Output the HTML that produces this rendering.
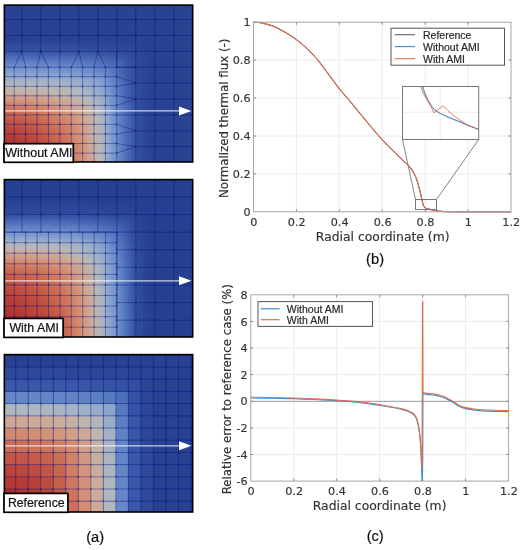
<!DOCTYPE html>
<html><head><meta charset="utf-8"><title>figure</title>
<style>
html,body{margin:0;padding:0;background:#fff}
svg{display:block}
.lib{font-family:"Liberation Sans",sans-serif;fill:#111;stroke:#111;stroke-width:0.2}
.lg{fill:#2a2a2a;stroke:#2a2a2a}
.dv{font-family:"DejaVu Sans","Liberation Sans",sans-serif;fill:#333;stroke:#333;stroke-width:0.15}
</style></head><body>
<svg width="522" height="550" viewBox="0 0 522 550">
<defs><filter id="blur" x="-5%" y="-5%" width="110%" height="110%"><feGaussianBlur stdDeviation="0.8 1.6"/></filter><clipPath id="clip1"><rect x="4.35" y="5.1" width="188.35" height="156.90"/></clipPath><linearGradient id="g1_15" gradientUnits="userSpaceOnUse" x1="-3.6500000000000004" x2="200.7" y1="0" y2="0"><stop offset="0.000" stop-color="#2b4595"/><stop offset="0.465" stop-color="#2b4595"/><stop offset="0.488" stop-color="#2a4394"/><stop offset="0.581" stop-color="#2a4394"/><stop offset="0.605" stop-color="#294292"/><stop offset="0.651" stop-color="#294292"/><stop offset="0.674" stop-color="#284191"/><stop offset="1.000" stop-color="#284191"/></linearGradient><linearGradient id="g1_16" gradientUnits="userSpaceOnUse" x1="-3.6500000000000004" x2="200.7" y1="0" y2="0"><stop offset="0.000" stop-color="#2e4999"/><stop offset="0.395" stop-color="#2e4999"/><stop offset="0.419" stop-color="#2d4798"/><stop offset="0.488" stop-color="#2d4798"/><stop offset="0.512" stop-color="#2c4696"/><stop offset="0.558" stop-color="#2c4696"/><stop offset="0.581" stop-color="#2b4595"/><stop offset="0.605" stop-color="#2b4595"/><stop offset="0.628" stop-color="#2a4394"/><stop offset="0.651" stop-color="#2a4394"/><stop offset="0.674" stop-color="#294292"/><stop offset="0.698" stop-color="#294292"/><stop offset="0.721" stop-color="#284191"/><stop offset="1.000" stop-color="#284191"/></linearGradient><linearGradient id="g1_17" gradientUnits="userSpaceOnUse" x1="-3.6500000000000004" x2="200.7" y1="0" y2="0"><stop offset="0.000" stop-color="#314c9d"/><stop offset="0.326" stop-color="#314c9d"/><stop offset="0.349" stop-color="#304b9c"/><stop offset="0.395" stop-color="#304b9c"/><stop offset="0.419" stop-color="#304b9b"/><stop offset="0.442" stop-color="#304b9b"/><stop offset="0.465" stop-color="#2f4a9a"/><stop offset="0.512" stop-color="#2f4a9a"/><stop offset="0.535" stop-color="#2e4999"/><stop offset="0.558" stop-color="#2d4798"/><stop offset="0.581" stop-color="#2d4798"/><stop offset="0.605" stop-color="#2c4696"/><stop offset="0.628" stop-color="#2b4595"/><stop offset="0.651" stop-color="#2b4595"/><stop offset="0.674" stop-color="#2a4394"/><stop offset="0.698" stop-color="#294292"/><stop offset="0.721" stop-color="#284191"/><stop offset="1.000" stop-color="#284191"/></linearGradient><linearGradient id="g1_18" gradientUnits="userSpaceOnUse" x1="-3.6500000000000004" x2="200.7" y1="0" y2="0"><stop offset="0.000" stop-color="#3552a2"/><stop offset="0.209" stop-color="#3552a2"/><stop offset="0.233" stop-color="#3552a1"/><stop offset="0.256" stop-color="#3450a0"/><stop offset="0.372" stop-color="#3450a0"/><stop offset="0.395" stop-color="#334f9f"/><stop offset="0.442" stop-color="#334f9f"/><stop offset="0.465" stop-color="#324e9e"/><stop offset="0.488" stop-color="#324e9e"/><stop offset="0.512" stop-color="#314c9d"/><stop offset="0.535" stop-color="#304b9c"/><stop offset="0.558" stop-color="#2f4a9a"/><stop offset="0.581" stop-color="#2f4a9a"/><stop offset="0.605" stop-color="#2e4999"/><stop offset="0.628" stop-color="#2d4798"/><stop offset="0.651" stop-color="#2c4696"/><stop offset="0.674" stop-color="#2b4595"/><stop offset="0.698" stop-color="#294292"/><stop offset="0.721" stop-color="#294292"/><stop offset="0.744" stop-color="#284191"/><stop offset="1.000" stop-color="#284191"/></linearGradient><linearGradient id="g1_19" gradientUnits="userSpaceOnUse" x1="-3.6500000000000004" x2="200.7" y1="0" y2="0"><stop offset="0.000" stop-color="#405fad"/><stop offset="0.163" stop-color="#405fad"/><stop offset="0.186" stop-color="#3f5dac"/><stop offset="0.302" stop-color="#3f5dac"/><stop offset="0.326" stop-color="#3e5cab"/><stop offset="0.349" stop-color="#3e5cab"/><stop offset="0.372" stop-color="#3d5cab"/><stop offset="0.395" stop-color="#3c5baa"/><stop offset="0.419" stop-color="#3c5baa"/><stop offset="0.442" stop-color="#3b59a8"/><stop offset="0.465" stop-color="#3a58a7"/><stop offset="0.488" stop-color="#3957a6"/><stop offset="0.512" stop-color="#3856a5"/><stop offset="0.535" stop-color="#3754a4"/><stop offset="0.558" stop-color="#3552a2"/><stop offset="0.581" stop-color="#3450a0"/><stop offset="0.605" stop-color="#324e9e"/><stop offset="0.628" stop-color="#314c9d"/><stop offset="0.651" stop-color="#2f4a9a"/><stop offset="0.674" stop-color="#2c4696"/><stop offset="0.698" stop-color="#2a4394"/><stop offset="0.721" stop-color="#294292"/><stop offset="0.744" stop-color="#284191"/><stop offset="1.000" stop-color="#284191"/></linearGradient><linearGradient id="g1_20" gradientUnits="userSpaceOnUse" x1="-3.6500000000000004" x2="200.7" y1="0" y2="0"><stop offset="0.000" stop-color="#4b6bb7"/><stop offset="0.116" stop-color="#4b6bb7"/><stop offset="0.140" stop-color="#4a6ab6"/><stop offset="0.186" stop-color="#4a6ab6"/><stop offset="0.209" stop-color="#496ab6"/><stop offset="0.233" stop-color="#496ab6"/><stop offset="0.256" stop-color="#4869b5"/><stop offset="0.326" stop-color="#4869b5"/><stop offset="0.349" stop-color="#4768b4"/><stop offset="0.372" stop-color="#4768b4"/><stop offset="0.395" stop-color="#4666b3"/><stop offset="0.419" stop-color="#4565b2"/><stop offset="0.442" stop-color="#4464b1"/><stop offset="0.465" stop-color="#4363b0"/><stop offset="0.488" stop-color="#4261af"/><stop offset="0.512" stop-color="#405fad"/><stop offset="0.535" stop-color="#3e5cab"/><stop offset="0.558" stop-color="#3b59a8"/><stop offset="0.581" stop-color="#3957a6"/><stop offset="0.605" stop-color="#3754a4"/><stop offset="0.628" stop-color="#3552a2"/><stop offset="0.651" stop-color="#314c9d"/><stop offset="0.674" stop-color="#2d4798"/><stop offset="0.698" stop-color="#2a4394"/><stop offset="0.721" stop-color="#294292"/><stop offset="0.744" stop-color="#284191"/><stop offset="1.000" stop-color="#284191"/></linearGradient><linearGradient id="g1_21" gradientUnits="userSpaceOnUse" x1="-3.6500000000000004" x2="200.7" y1="0" y2="0"><stop offset="0.000" stop-color="#5678bf"/><stop offset="0.047" stop-color="#5678bf"/><stop offset="0.070" stop-color="#5576be"/><stop offset="0.209" stop-color="#5576be"/><stop offset="0.233" stop-color="#5475bd"/><stop offset="0.279" stop-color="#5475bd"/><stop offset="0.302" stop-color="#5374bd"/><stop offset="0.326" stop-color="#5374bd"/><stop offset="0.349" stop-color="#5173bc"/><stop offset="0.372" stop-color="#5072bb"/><stop offset="0.395" stop-color="#5072bb"/><stop offset="0.419" stop-color="#4f70ba"/><stop offset="0.442" stop-color="#4e6fb9"/><stop offset="0.465" stop-color="#4c6db8"/><stop offset="0.488" stop-color="#4b6bb7"/><stop offset="0.512" stop-color="#4869b5"/><stop offset="0.535" stop-color="#4565b2"/><stop offset="0.558" stop-color="#4261af"/><stop offset="0.581" stop-color="#405fad"/><stop offset="0.605" stop-color="#3c5baa"/><stop offset="0.628" stop-color="#3856a5"/><stop offset="0.651" stop-color="#334f9f"/><stop offset="0.674" stop-color="#2d4798"/><stop offset="0.698" stop-color="#2b4595"/><stop offset="0.721" stop-color="#2a4394"/><stop offset="0.744" stop-color="#284191"/><stop offset="1.000" stop-color="#284191"/></linearGradient><linearGradient id="g1_22" gradientUnits="userSpaceOnUse" x1="-3.6500000000000004" x2="200.7" y1="0" y2="0"><stop offset="0.000" stop-color="#6182c4"/><stop offset="0.163" stop-color="#6182c4"/><stop offset="0.186" stop-color="#5f81c4"/><stop offset="0.233" stop-color="#5f81c4"/><stop offset="0.256" stop-color="#5e80c3"/><stop offset="0.279" stop-color="#5e80c3"/><stop offset="0.302" stop-color="#5d7fc3"/><stop offset="0.326" stop-color="#5d7fc3"/><stop offset="0.349" stop-color="#5c7ec2"/><stop offset="0.372" stop-color="#5b7cc2"/><stop offset="0.395" stop-color="#5a7bc1"/><stop offset="0.419" stop-color="#587ac0"/><stop offset="0.442" stop-color="#5779bf"/><stop offset="0.465" stop-color="#5576be"/><stop offset="0.488" stop-color="#5374bd"/><stop offset="0.512" stop-color="#5072bb"/><stop offset="0.535" stop-color="#4d6eb8"/><stop offset="0.558" stop-color="#4869b5"/><stop offset="0.581" stop-color="#4565b2"/><stop offset="0.605" stop-color="#4261af"/><stop offset="0.628" stop-color="#3a58a7"/><stop offset="0.651" stop-color="#3450a0"/><stop offset="0.674" stop-color="#2e4999"/><stop offset="0.698" stop-color="#2b4595"/><stop offset="0.721" stop-color="#2a4394"/><stop offset="0.744" stop-color="#284191"/><stop offset="1.000" stop-color="#284191"/></linearGradient><linearGradient id="g1_23" gradientUnits="userSpaceOnUse" x1="-3.6500000000000004" x2="200.7" y1="0" y2="0"><stop offset="0.000" stop-color="#6d8dc9"/><stop offset="0.140" stop-color="#6d8dc9"/><stop offset="0.163" stop-color="#6b8cc9"/><stop offset="0.209" stop-color="#6b8cc9"/><stop offset="0.233" stop-color="#6a8bc8"/><stop offset="0.256" stop-color="#6a8bc8"/><stop offset="0.279" stop-color="#698ac8"/><stop offset="0.302" stop-color="#698ac8"/><stop offset="0.326" stop-color="#6889c7"/><stop offset="0.349" stop-color="#6788c7"/><stop offset="0.372" stop-color="#6587c7"/><stop offset="0.395" stop-color="#6486c6"/><stop offset="0.419" stop-color="#6384c6"/><stop offset="0.442" stop-color="#6182c4"/><stop offset="0.465" stop-color="#5e80c3"/><stop offset="0.488" stop-color="#5c7ec2"/><stop offset="0.512" stop-color="#587ac0"/><stop offset="0.535" stop-color="#5475bd"/><stop offset="0.558" stop-color="#4f70ba"/><stop offset="0.581" stop-color="#4b6bb7"/><stop offset="0.605" stop-color="#4464b1"/><stop offset="0.628" stop-color="#3b59a9"/><stop offset="0.651" stop-color="#3552a2"/><stop offset="0.674" stop-color="#2f4a9a"/><stop offset="0.698" stop-color="#2b4595"/><stop offset="0.721" stop-color="#2a4394"/><stop offset="0.744" stop-color="#284191"/><stop offset="1.000" stop-color="#284191"/></linearGradient><linearGradient id="g1_24" gradientUnits="userSpaceOnUse" x1="-3.6500000000000004" x2="200.7" y1="0" y2="0"><stop offset="0.000" stop-color="#7695cb"/><stop offset="0.140" stop-color="#7695cb"/><stop offset="0.163" stop-color="#7594cb"/><stop offset="0.209" stop-color="#7594cb"/><stop offset="0.233" stop-color="#7493cb"/><stop offset="0.256" stop-color="#7493cb"/><stop offset="0.279" stop-color="#7392cb"/><stop offset="0.302" stop-color="#7191ca"/><stop offset="0.326" stop-color="#7191ca"/><stop offset="0.349" stop-color="#7090ca"/><stop offset="0.372" stop-color="#6f8fca"/><stop offset="0.395" stop-color="#6e8ec9"/><stop offset="0.419" stop-color="#6b8cc9"/><stop offset="0.442" stop-color="#698ac8"/><stop offset="0.465" stop-color="#6788c7"/><stop offset="0.488" stop-color="#6384c6"/><stop offset="0.512" stop-color="#5f81c4"/><stop offset="0.535" stop-color="#5b7cc2"/><stop offset="0.558" stop-color="#5576be"/><stop offset="0.581" stop-color="#4f70ba"/><stop offset="0.605" stop-color="#4666b3"/><stop offset="0.628" stop-color="#3d5cab"/><stop offset="0.651" stop-color="#3653a3"/><stop offset="0.674" stop-color="#2f4a9a"/><stop offset="0.698" stop-color="#2c4696"/><stop offset="0.721" stop-color="#2a4394"/><stop offset="0.744" stop-color="#284191"/><stop offset="1.000" stop-color="#284191"/></linearGradient><linearGradient id="g1_25" gradientUnits="userSpaceOnUse" x1="-3.6500000000000004" x2="200.7" y1="0" y2="0"><stop offset="0.000" stop-color="#819ecc"/><stop offset="0.093" stop-color="#819ecc"/><stop offset="0.116" stop-color="#809dcc"/><stop offset="0.163" stop-color="#809dcc"/><stop offset="0.186" stop-color="#7f9ccc"/><stop offset="0.233" stop-color="#7f9ccc"/><stop offset="0.256" stop-color="#7e9bcc"/><stop offset="0.279" stop-color="#7c9acc"/><stop offset="0.302" stop-color="#7b99cc"/><stop offset="0.326" stop-color="#7b99cc"/><stop offset="0.349" stop-color="#7a98cc"/><stop offset="0.372" stop-color="#7896cc"/><stop offset="0.395" stop-color="#7695cb"/><stop offset="0.419" stop-color="#7493cb"/><stop offset="0.442" stop-color="#7392cb"/><stop offset="0.465" stop-color="#6f8fca"/><stop offset="0.488" stop-color="#6b8cc9"/><stop offset="0.512" stop-color="#6889c7"/><stop offset="0.535" stop-color="#6283c5"/><stop offset="0.558" stop-color="#5c7ec2"/><stop offset="0.581" stop-color="#5173bc"/><stop offset="0.605" stop-color="#4768b4"/><stop offset="0.628" stop-color="#3f5dac"/><stop offset="0.651" stop-color="#3653a3"/><stop offset="0.674" stop-color="#304b9b"/><stop offset="0.698" stop-color="#2c4696"/><stop offset="0.721" stop-color="#2a4394"/><stop offset="0.744" stop-color="#284191"/><stop offset="1.000" stop-color="#284191"/></linearGradient><linearGradient id="g1_26" gradientUnits="userSpaceOnUse" x1="-3.6500000000000004" x2="200.7" y1="0" y2="0"><stop offset="0.000" stop-color="#8ea7cb"/><stop offset="0.070" stop-color="#8ea7cb"/><stop offset="0.093" stop-color="#8da6cc"/><stop offset="0.163" stop-color="#8da6cc"/><stop offset="0.186" stop-color="#8ca5cc"/><stop offset="0.209" stop-color="#8ca5cc"/><stop offset="0.233" stop-color="#8ba4cc"/><stop offset="0.256" stop-color="#8aa4cc"/><stop offset="0.279" stop-color="#8aa4cc"/><stop offset="0.302" stop-color="#88a3cc"/><stop offset="0.326" stop-color="#87a2cc"/><stop offset="0.349" stop-color="#86a1cc"/><stop offset="0.372" stop-color="#849fcd"/><stop offset="0.395" stop-color="#829fcd"/><stop offset="0.419" stop-color="#809dcc"/><stop offset="0.442" stop-color="#7e9bcc"/><stop offset="0.465" stop-color="#7a98cc"/><stop offset="0.488" stop-color="#7695cb"/><stop offset="0.512" stop-color="#7191ca"/><stop offset="0.535" stop-color="#6b8cc9"/><stop offset="0.558" stop-color="#6182c4"/><stop offset="0.581" stop-color="#5576be"/><stop offset="0.605" stop-color="#4a6ab6"/><stop offset="0.628" stop-color="#405fad"/><stop offset="0.651" stop-color="#3754a4"/><stop offset="0.674" stop-color="#304b9c"/><stop offset="0.698" stop-color="#2c4696"/><stop offset="0.721" stop-color="#2a4394"/><stop offset="0.744" stop-color="#294292"/><stop offset="0.767" stop-color="#284191"/><stop offset="1.000" stop-color="#284191"/></linearGradient><linearGradient id="g1_27" gradientUnits="userSpaceOnUse" x1="-3.6500000000000004" x2="200.7" y1="0" y2="0"><stop offset="0.000" stop-color="#9baec8"/><stop offset="0.047" stop-color="#9baec8"/><stop offset="0.070" stop-color="#9aadc9"/><stop offset="0.140" stop-color="#9aadc9"/><stop offset="0.163" stop-color="#99adc9"/><stop offset="0.186" stop-color="#99adc9"/><stop offset="0.209" stop-color="#98acc9"/><stop offset="0.233" stop-color="#98acc9"/><stop offset="0.256" stop-color="#96abca"/><stop offset="0.279" stop-color="#95abca"/><stop offset="0.302" stop-color="#94aaca"/><stop offset="0.326" stop-color="#93a9cb"/><stop offset="0.349" stop-color="#92a9cb"/><stop offset="0.372" stop-color="#8fa7cb"/><stop offset="0.395" stop-color="#8ea7cb"/><stop offset="0.419" stop-color="#8ba4cc"/><stop offset="0.442" stop-color="#88a3cc"/><stop offset="0.465" stop-color="#85a0cc"/><stop offset="0.488" stop-color="#809dcc"/><stop offset="0.512" stop-color="#7b99cc"/><stop offset="0.535" stop-color="#7493cb"/><stop offset="0.558" stop-color="#6486c6"/><stop offset="0.581" stop-color="#5779bf"/><stop offset="0.605" stop-color="#4c6db7"/><stop offset="0.628" stop-color="#4261af"/><stop offset="0.651" stop-color="#3856a5"/><stop offset="0.674" stop-color="#314c9d"/><stop offset="0.698" stop-color="#2d4798"/><stop offset="0.721" stop-color="#2b4595"/><stop offset="0.744" stop-color="#294292"/><stop offset="0.767" stop-color="#284191"/><stop offset="1.000" stop-color="#284191"/></linearGradient><linearGradient id="g1_28" gradientUnits="userSpaceOnUse" x1="-3.6500000000000004" x2="200.7" y1="0" y2="0"><stop offset="0.000" stop-color="#a7b3c3"/><stop offset="0.023" stop-color="#a7b3c3"/><stop offset="0.047" stop-color="#a6b3c3"/><stop offset="0.116" stop-color="#a6b3c3"/><stop offset="0.140" stop-color="#a5b3c4"/><stop offset="0.163" stop-color="#a5b3c4"/><stop offset="0.186" stop-color="#a4b2c4"/><stop offset="0.209" stop-color="#a4b2c4"/><stop offset="0.233" stop-color="#a3b2c5"/><stop offset="0.256" stop-color="#a2b1c5"/><stop offset="0.279" stop-color="#a1b1c6"/><stop offset="0.302" stop-color="#9fb0c6"/><stop offset="0.326" stop-color="#9dafc7"/><stop offset="0.349" stop-color="#9caec8"/><stop offset="0.372" stop-color="#9aadc9"/><stop offset="0.395" stop-color="#98acc9"/><stop offset="0.419" stop-color="#94aaca"/><stop offset="0.442" stop-color="#91a8cb"/><stop offset="0.465" stop-color="#8ca5cc"/><stop offset="0.488" stop-color="#87a2cc"/><stop offset="0.512" stop-color="#819ecc"/><stop offset="0.535" stop-color="#7896cc"/><stop offset="0.558" stop-color="#6889c7"/><stop offset="0.581" stop-color="#5a7bc1"/><stop offset="0.605" stop-color="#4e6fb9"/><stop offset="0.628" stop-color="#4363b0"/><stop offset="0.651" stop-color="#3957a6"/><stop offset="0.674" stop-color="#314c9d"/><stop offset="0.698" stop-color="#2d4798"/><stop offset="0.721" stop-color="#2b4595"/><stop offset="0.744" stop-color="#294292"/><stop offset="0.767" stop-color="#284191"/><stop offset="1.000" stop-color="#284191"/></linearGradient><linearGradient id="g1_29" gradientUnits="userSpaceOnUse" x1="-3.6500000000000004" x2="200.7" y1="0" y2="0"><stop offset="0.000" stop-color="#b1b7bb"/><stop offset="0.047" stop-color="#b1b7bb"/><stop offset="0.070" stop-color="#b0b6bc"/><stop offset="0.116" stop-color="#b0b6bc"/><stop offset="0.140" stop-color="#afb6bd"/><stop offset="0.163" stop-color="#afb6bd"/><stop offset="0.186" stop-color="#aeb6be"/><stop offset="0.209" stop-color="#adb6bf"/><stop offset="0.233" stop-color="#acb5bf"/><stop offset="0.256" stop-color="#abb5c0"/><stop offset="0.279" stop-color="#aab5c1"/><stop offset="0.302" stop-color="#a8b4c2"/><stop offset="0.326" stop-color="#a7b3c3"/><stop offset="0.349" stop-color="#a5b3c4"/><stop offset="0.372" stop-color="#a3b2c5"/><stop offset="0.395" stop-color="#a0b0c6"/><stop offset="0.419" stop-color="#9caec8"/><stop offset="0.442" stop-color="#99adc9"/><stop offset="0.465" stop-color="#93a9cb"/><stop offset="0.488" stop-color="#8da6cc"/><stop offset="0.512" stop-color="#86a1cc"/><stop offset="0.535" stop-color="#7b99cc"/><stop offset="0.558" stop-color="#6a8bc8"/><stop offset="0.581" stop-color="#5c7ec2"/><stop offset="0.605" stop-color="#4f70ba"/><stop offset="0.628" stop-color="#4464b1"/><stop offset="0.651" stop-color="#3a58a7"/><stop offset="0.674" stop-color="#314c9d"/><stop offset="0.698" stop-color="#2d4798"/><stop offset="0.721" stop-color="#2b4595"/><stop offset="0.744" stop-color="#294292"/><stop offset="0.767" stop-color="#284191"/><stop offset="1.000" stop-color="#284191"/></linearGradient><linearGradient id="g1_30" gradientUnits="userSpaceOnUse" x1="-3.6500000000000004" x2="200.7" y1="0" y2="0"><stop offset="0.000" stop-color="#bbb6b2"/><stop offset="0.047" stop-color="#bbb6b2"/><stop offset="0.070" stop-color="#bab7b3"/><stop offset="0.116" stop-color="#bab7b3"/><stop offset="0.140" stop-color="#b9b7b4"/><stop offset="0.163" stop-color="#b9b7b4"/><stop offset="0.186" stop-color="#b8b7b5"/><stop offset="0.209" stop-color="#b7b8b6"/><stop offset="0.233" stop-color="#b6b8b7"/><stop offset="0.256" stop-color="#b4b7b9"/><stop offset="0.279" stop-color="#b2b7bb"/><stop offset="0.302" stop-color="#b1b7bb"/><stop offset="0.326" stop-color="#afb6bd"/><stop offset="0.349" stop-color="#adb6be"/><stop offset="0.372" stop-color="#aab5c1"/><stop offset="0.395" stop-color="#a7b3c3"/><stop offset="0.419" stop-color="#a3b2c5"/><stop offset="0.442" stop-color="#9eb0c7"/><stop offset="0.465" stop-color="#99adc9"/><stop offset="0.488" stop-color="#91a8cb"/><stop offset="0.512" stop-color="#8aa4cc"/><stop offset="0.535" stop-color="#7f9ccc"/><stop offset="0.558" stop-color="#6d8dc9"/><stop offset="0.581" stop-color="#5e80c3"/><stop offset="0.605" stop-color="#5173bc"/><stop offset="0.628" stop-color="#4565b2"/><stop offset="0.651" stop-color="#3b59a8"/><stop offset="0.674" stop-color="#324e9e"/><stop offset="0.698" stop-color="#2d4798"/><stop offset="0.721" stop-color="#2b4595"/><stop offset="0.744" stop-color="#294292"/><stop offset="0.767" stop-color="#284191"/><stop offset="1.000" stop-color="#284191"/></linearGradient><linearGradient id="g1_31" gradientUnits="userSpaceOnUse" x1="-3.6500000000000004" x2="200.7" y1="0" y2="0"><stop offset="0.000" stop-color="#c4b2a7"/><stop offset="0.070" stop-color="#c4b2a7"/><stop offset="0.093" stop-color="#c3b2a8"/><stop offset="0.116" stop-color="#c3b2a8"/><stop offset="0.140" stop-color="#c2b3a9"/><stop offset="0.163" stop-color="#c1b3aa"/><stop offset="0.186" stop-color="#c0b4ab"/><stop offset="0.209" stop-color="#c0b4ac"/><stop offset="0.233" stop-color="#bfb5ae"/><stop offset="0.256" stop-color="#bdb6b0"/><stop offset="0.279" stop-color="#bbb6b2"/><stop offset="0.302" stop-color="#b9b7b4"/><stop offset="0.326" stop-color="#b7b8b6"/><stop offset="0.349" stop-color="#b4b7b9"/><stop offset="0.372" stop-color="#b1b7bb"/><stop offset="0.395" stop-color="#adb6be"/><stop offset="0.419" stop-color="#a9b4c1"/><stop offset="0.442" stop-color="#a4b2c4"/><stop offset="0.465" stop-color="#9cafc8"/><stop offset="0.488" stop-color="#94aaca"/><stop offset="0.512" stop-color="#8ea7cc"/><stop offset="0.535" stop-color="#829fcd"/><stop offset="0.558" stop-color="#6f8fca"/><stop offset="0.581" stop-color="#6182c4"/><stop offset="0.605" stop-color="#5374bd"/><stop offset="0.628" stop-color="#4666b3"/><stop offset="0.651" stop-color="#3b59a9"/><stop offset="0.674" stop-color="#324e9e"/><stop offset="0.698" stop-color="#2e4999"/><stop offset="0.721" stop-color="#2b4595"/><stop offset="0.744" stop-color="#294292"/><stop offset="0.767" stop-color="#284191"/><stop offset="1.000" stop-color="#284191"/></linearGradient><linearGradient id="g1_32" gradientUnits="userSpaceOnUse" x1="-3.6500000000000004" x2="200.7" y1="0" y2="0"><stop offset="0.000" stop-color="#ccaa99"/><stop offset="0.023" stop-color="#ccaa99"/><stop offset="0.047" stop-color="#ccaa98"/><stop offset="0.070" stop-color="#cbab9a"/><stop offset="0.116" stop-color="#cbab9a"/><stop offset="0.140" stop-color="#caad9c"/><stop offset="0.163" stop-color="#c9ad9d"/><stop offset="0.186" stop-color="#c9ae9f"/><stop offset="0.209" stop-color="#c8aea0"/><stop offset="0.233" stop-color="#c7b0a2"/><stop offset="0.256" stop-color="#c5b1a4"/><stop offset="0.279" stop-color="#c4b2a7"/><stop offset="0.302" stop-color="#c1b3aa"/><stop offset="0.326" stop-color="#c0b4ac"/><stop offset="0.349" stop-color="#bdb6b0"/><stop offset="0.372" stop-color="#b9b7b4"/><stop offset="0.395" stop-color="#b5b8b8"/><stop offset="0.419" stop-color="#afb6bd"/><stop offset="0.442" stop-color="#aab4c0"/><stop offset="0.465" stop-color="#a2b1c5"/><stop offset="0.488" stop-color="#9baec8"/><stop offset="0.512" stop-color="#94aaca"/><stop offset="0.535" stop-color="#86a1cc"/><stop offset="0.558" stop-color="#7392cb"/><stop offset="0.581" stop-color="#6384c5"/><stop offset="0.605" stop-color="#5576be"/><stop offset="0.628" stop-color="#4768b4"/><stop offset="0.651" stop-color="#3c5baa"/><stop offset="0.674" stop-color="#334f9f"/><stop offset="0.698" stop-color="#2e4999"/><stop offset="0.721" stop-color="#2b4595"/><stop offset="0.744" stop-color="#294292"/><stop offset="0.767" stop-color="#284191"/><stop offset="1.000" stop-color="#284191"/></linearGradient><linearGradient id="g1_33" gradientUnits="userSpaceOnUse" x1="-3.6500000000000004" x2="200.7" y1="0" y2="0"><stop offset="0.000" stop-color="#d1a08a"/><stop offset="0.047" stop-color="#d1a08a"/><stop offset="0.070" stop-color="#d0a18b"/><stop offset="0.093" stop-color="#d0a18b"/><stop offset="0.116" stop-color="#d0a28c"/><stop offset="0.140" stop-color="#d0a38d"/><stop offset="0.163" stop-color="#cfa48f"/><stop offset="0.186" stop-color="#cfa590"/><stop offset="0.209" stop-color="#cea692"/><stop offset="0.233" stop-color="#cda895"/><stop offset="0.256" stop-color="#cca997"/><stop offset="0.279" stop-color="#cbac9b"/><stop offset="0.302" stop-color="#c9ae9f"/><stop offset="0.326" stop-color="#c7b0a2"/><stop offset="0.349" stop-color="#c5b1a6"/><stop offset="0.372" stop-color="#c0b4ab"/><stop offset="0.395" stop-color="#bcb6b1"/><stop offset="0.419" stop-color="#b6b8b7"/><stop offset="0.442" stop-color="#b0b6bc"/><stop offset="0.465" stop-color="#a9b4c1"/><stop offset="0.488" stop-color="#a1b1c6"/><stop offset="0.512" stop-color="#99adc9"/><stop offset="0.535" stop-color="#8aa4cc"/><stop offset="0.558" stop-color="#7594cb"/><stop offset="0.581" stop-color="#6486c6"/><stop offset="0.605" stop-color="#5678bf"/><stop offset="0.628" stop-color="#4869b5"/><stop offset="0.651" stop-color="#3e5cab"/><stop offset="0.674" stop-color="#334f9f"/><stop offset="0.698" stop-color="#2e4999"/><stop offset="0.721" stop-color="#2b4595"/><stop offset="0.744" stop-color="#294292"/><stop offset="0.767" stop-color="#284191"/><stop offset="1.000" stop-color="#284191"/></linearGradient><linearGradient id="g1_34" gradientUnits="userSpaceOnUse" x1="-3.6500000000000004" x2="200.7" y1="0" y2="0"><stop offset="0.000" stop-color="#d3947a"/><stop offset="0.047" stop-color="#d3947a"/><stop offset="0.070" stop-color="#d3957c"/><stop offset="0.093" stop-color="#d3957c"/><stop offset="0.116" stop-color="#d3967d"/><stop offset="0.140" stop-color="#d3977e"/><stop offset="0.163" stop-color="#d2987f"/><stop offset="0.186" stop-color="#d29a82"/><stop offset="0.209" stop-color="#d29c85"/><stop offset="0.233" stop-color="#d19e87"/><stop offset="0.256" stop-color="#d0a18b"/><stop offset="0.279" stop-color="#cfa48f"/><stop offset="0.302" stop-color="#cea692"/><stop offset="0.326" stop-color="#cda996"/><stop offset="0.349" stop-color="#cbac9b"/><stop offset="0.372" stop-color="#c7afa1"/><stop offset="0.395" stop-color="#c3b2a8"/><stop offset="0.419" stop-color="#bdb6b0"/><stop offset="0.442" stop-color="#b7b8b6"/><stop offset="0.465" stop-color="#afb6bd"/><stop offset="0.488" stop-color="#a7b3c3"/><stop offset="0.512" stop-color="#9dafc7"/><stop offset="0.535" stop-color="#8da6cc"/><stop offset="0.558" stop-color="#7997cc"/><stop offset="0.581" stop-color="#6788c7"/><stop offset="0.605" stop-color="#587ac0"/><stop offset="0.628" stop-color="#4a6ab6"/><stop offset="0.651" stop-color="#3f5dac"/><stop offset="0.674" stop-color="#334f9f"/><stop offset="0.698" stop-color="#2e4999"/><stop offset="0.721" stop-color="#2c4696"/><stop offset="0.744" stop-color="#294292"/><stop offset="0.767" stop-color="#284191"/><stop offset="1.000" stop-color="#284191"/></linearGradient><linearGradient id="g1_35" gradientUnits="userSpaceOnUse" x1="-3.6500000000000004" x2="200.7" y1="0" y2="0"><stop offset="0.000" stop-color="#d2886e"/><stop offset="0.023" stop-color="#d2886e"/><stop offset="0.047" stop-color="#d38a6f"/><stop offset="0.070" stop-color="#d28a6f"/><stop offset="0.093" stop-color="#d38b70"/><stop offset="0.116" stop-color="#d38b70"/><stop offset="0.140" stop-color="#d38d73"/><stop offset="0.163" stop-color="#d38e74"/><stop offset="0.186" stop-color="#d39177"/><stop offset="0.209" stop-color="#d39379"/><stop offset="0.233" stop-color="#d3957c"/><stop offset="0.256" stop-color="#d29981"/><stop offset="0.279" stop-color="#d29c85"/><stop offset="0.302" stop-color="#d19f88"/><stop offset="0.326" stop-color="#d0a38d"/><stop offset="0.349" stop-color="#cea692"/><stop offset="0.372" stop-color="#cbab9a"/><stop offset="0.395" stop-color="#c7afa1"/><stop offset="0.419" stop-color="#c2b3a9"/><stop offset="0.442" stop-color="#bdb6b0"/><stop offset="0.465" stop-color="#b5b8b8"/><stop offset="0.488" stop-color="#abb5c0"/><stop offset="0.512" stop-color="#a1b1c6"/><stop offset="0.535" stop-color="#8fa7cb"/><stop offset="0.558" stop-color="#7a98cc"/><stop offset="0.581" stop-color="#698ac8"/><stop offset="0.605" stop-color="#5a7bc1"/><stop offset="0.628" stop-color="#4b6bb7"/><stop offset="0.651" stop-color="#3f5dac"/><stop offset="0.674" stop-color="#3450a0"/><stop offset="0.698" stop-color="#2e4999"/><stop offset="0.721" stop-color="#2c4696"/><stop offset="0.744" stop-color="#294292"/><stop offset="0.767" stop-color="#284191"/><stop offset="1.000" stop-color="#284191"/></linearGradient><linearGradient id="g1_36" gradientUnits="userSpaceOnUse" x1="-3.6500000000000004" x2="200.7" y1="0" y2="0"><stop offset="0.000" stop-color="#d17e64"/><stop offset="0.023" stop-color="#d17e64"/><stop offset="0.047" stop-color="#d17f65"/><stop offset="0.070" stop-color="#d17f65"/><stop offset="0.093" stop-color="#d18166"/><stop offset="0.116" stop-color="#d18166"/><stop offset="0.140" stop-color="#d28369"/><stop offset="0.163" stop-color="#d2866b"/><stop offset="0.186" stop-color="#d2876c"/><stop offset="0.209" stop-color="#d28a6f"/><stop offset="0.233" stop-color="#d38d73"/><stop offset="0.256" stop-color="#d39278"/><stop offset="0.279" stop-color="#d3957c"/><stop offset="0.302" stop-color="#d29981"/><stop offset="0.326" stop-color="#d29c85"/><stop offset="0.349" stop-color="#d0a18b"/><stop offset="0.372" stop-color="#cea692"/><stop offset="0.395" stop-color="#cbab9a"/><stop offset="0.419" stop-color="#c7b0a2"/><stop offset="0.442" stop-color="#c1b3aa"/><stop offset="0.465" stop-color="#b9b7b4"/><stop offset="0.488" stop-color="#afb6bd"/><stop offset="0.512" stop-color="#a4b2c4"/><stop offset="0.535" stop-color="#92a9cb"/><stop offset="0.558" stop-color="#7c9acc"/><stop offset="0.581" stop-color="#6a8bc8"/><stop offset="0.605" stop-color="#5b7cc1"/><stop offset="0.628" stop-color="#4c6db7"/><stop offset="0.651" stop-color="#405fad"/><stop offset="0.674" stop-color="#3450a0"/><stop offset="0.698" stop-color="#2f4a9a"/><stop offset="0.721" stop-color="#2c4696"/><stop offset="0.744" stop-color="#294292"/><stop offset="0.767" stop-color="#284191"/><stop offset="1.000" stop-color="#284191"/></linearGradient><linearGradient id="g1_37" gradientUnits="userSpaceOnUse" x1="-3.6500000000000004" x2="200.7" y1="0" y2="0"><stop offset="0.000" stop-color="#ce735a"/><stop offset="0.047" stop-color="#ce735a"/><stop offset="0.070" stop-color="#ce745b"/><stop offset="0.093" stop-color="#cf765c"/><stop offset="0.116" stop-color="#cf765c"/><stop offset="0.140" stop-color="#cf785f"/><stop offset="0.163" stop-color="#d07b61"/><stop offset="0.186" stop-color="#d17e64"/><stop offset="0.209" stop-color="#d18166"/><stop offset="0.233" stop-color="#d28369"/><stop offset="0.256" stop-color="#d2886e"/><stop offset="0.279" stop-color="#d38d73"/><stop offset="0.302" stop-color="#d39278"/><stop offset="0.326" stop-color="#d3967d"/><stop offset="0.349" stop-color="#d29b83"/><stop offset="0.372" stop-color="#d0a18b"/><stop offset="0.395" stop-color="#cea692"/><stop offset="0.419" stop-color="#cbac9b"/><stop offset="0.442" stop-color="#c5b1a5"/><stop offset="0.465" stop-color="#beb5af"/><stop offset="0.488" stop-color="#b3b7ba"/><stop offset="0.512" stop-color="#a7b3c3"/><stop offset="0.535" stop-color="#94aaca"/><stop offset="0.558" stop-color="#7e9bcc"/><stop offset="0.581" stop-color="#6b8cc9"/><stop offset="0.605" stop-color="#5c7ec2"/><stop offset="0.628" stop-color="#4d6eb8"/><stop offset="0.651" stop-color="#405fad"/><stop offset="0.674" stop-color="#3450a0"/><stop offset="0.698" stop-color="#2f4a9a"/><stop offset="0.721" stop-color="#2c4696"/><stop offset="0.744" stop-color="#294292"/><stop offset="0.767" stop-color="#284191"/><stop offset="1.000" stop-color="#284191"/></linearGradient><linearGradient id="g1_38" gradientUnits="userSpaceOnUse" x1="-3.6500000000000004" x2="200.7" y1="0" y2="0"><stop offset="0.000" stop-color="#cb6a52"/><stop offset="0.047" stop-color="#cb6a52"/><stop offset="0.070" stop-color="#cb6b54"/><stop offset="0.093" stop-color="#cb6b54"/><stop offset="0.116" stop-color="#cc6d55"/><stop offset="0.140" stop-color="#cd7057"/><stop offset="0.163" stop-color="#cd7158"/><stop offset="0.186" stop-color="#cf765c"/><stop offset="0.209" stop-color="#cf785f"/><stop offset="0.233" stop-color="#d07b61"/><stop offset="0.256" stop-color="#d18166"/><stop offset="0.279" stop-color="#d2866b"/><stop offset="0.302" stop-color="#d38c72"/><stop offset="0.326" stop-color="#d39177"/><stop offset="0.349" stop-color="#d3967d"/><stop offset="0.372" stop-color="#d29c85"/><stop offset="0.395" stop-color="#d0a28c"/><stop offset="0.419" stop-color="#cda996"/><stop offset="0.442" stop-color="#c9ae9f"/><stop offset="0.465" stop-color="#c0b4ab"/><stop offset="0.488" stop-color="#b6b8b7"/><stop offset="0.512" stop-color="#a9b4c1"/><stop offset="0.535" stop-color="#96abca"/><stop offset="0.558" stop-color="#7f9ccc"/><stop offset="0.581" stop-color="#6d8dc9"/><stop offset="0.605" stop-color="#5c7ec2"/><stop offset="0.628" stop-color="#4d6eb8"/><stop offset="0.651" stop-color="#4160ae"/><stop offset="0.674" stop-color="#3552a1"/><stop offset="0.698" stop-color="#2f4a9a"/><stop offset="0.721" stop-color="#2c4696"/><stop offset="0.744" stop-color="#294292"/><stop offset="0.767" stop-color="#284191"/><stop offset="1.000" stop-color="#284191"/></linearGradient><linearGradient id="g1_39" gradientUnits="userSpaceOnUse" x1="-3.6500000000000004" x2="200.7" y1="0" y2="0"><stop offset="0.000" stop-color="#c8624c"/><stop offset="0.047" stop-color="#c8624c"/><stop offset="0.070" stop-color="#c8634e"/><stop offset="0.093" stop-color="#c9654f"/><stop offset="0.116" stop-color="#c9654f"/><stop offset="0.140" stop-color="#ca6851"/><stop offset="0.163" stop-color="#cb6b54"/><stop offset="0.186" stop-color="#cc6e56"/><stop offset="0.209" stop-color="#cd7158"/><stop offset="0.233" stop-color="#cf765c"/><stop offset="0.256" stop-color="#d07b61"/><stop offset="0.279" stop-color="#d18166"/><stop offset="0.302" stop-color="#d2876c"/><stop offset="0.326" stop-color="#d38c72"/><stop offset="0.349" stop-color="#d39278"/><stop offset="0.372" stop-color="#d29880"/><stop offset="0.395" stop-color="#d19e87"/><stop offset="0.419" stop-color="#cfa691"/><stop offset="0.442" stop-color="#caad9c"/><stop offset="0.465" stop-color="#c3b2a8"/><stop offset="0.488" stop-color="#b8b7b5"/><stop offset="0.512" stop-color="#abb5c0"/><stop offset="0.535" stop-color="#98acc9"/><stop offset="0.558" stop-color="#809dcc"/><stop offset="0.581" stop-color="#6e8ec9"/><stop offset="0.605" stop-color="#5d7fc3"/><stop offset="0.628" stop-color="#4d6eb8"/><stop offset="0.651" stop-color="#4160ae"/><stop offset="0.674" stop-color="#3552a2"/><stop offset="0.698" stop-color="#2f4a9a"/><stop offset="0.721" stop-color="#2c4696"/><stop offset="0.744" stop-color="#294292"/><stop offset="0.767" stop-color="#284191"/><stop offset="1.000" stop-color="#284191"/></linearGradient><linearGradient id="g1_40" gradientUnits="userSpaceOnUse" x1="-3.6500000000000004" x2="200.7" y1="0" y2="0"><stop offset="0.000" stop-color="#c45a47"/><stop offset="0.023" stop-color="#c45a47"/><stop offset="0.047" stop-color="#c55b48"/><stop offset="0.070" stop-color="#c55b48"/><stop offset="0.093" stop-color="#c65d49"/><stop offset="0.116" stop-color="#c65f4a"/><stop offset="0.140" stop-color="#c8624c"/><stop offset="0.163" stop-color="#c8634e"/><stop offset="0.186" stop-color="#ca6851"/><stop offset="0.209" stop-color="#cb6b54"/><stop offset="0.233" stop-color="#cd7057"/><stop offset="0.256" stop-color="#cf765c"/><stop offset="0.279" stop-color="#d07b61"/><stop offset="0.302" stop-color="#d28267"/><stop offset="0.326" stop-color="#d2876c"/><stop offset="0.349" stop-color="#d38d73"/><stop offset="0.372" stop-color="#d3947a"/><stop offset="0.395" stop-color="#d29b83"/><stop offset="0.419" stop-color="#d0a38d"/><stop offset="0.442" stop-color="#ccaa99"/><stop offset="0.465" stop-color="#c5b1a6"/><stop offset="0.488" stop-color="#bab7b3"/><stop offset="0.512" stop-color="#acb5bf"/><stop offset="0.535" stop-color="#99adc9"/><stop offset="0.558" stop-color="#819ecc"/><stop offset="0.581" stop-color="#6e8eca"/><stop offset="0.605" stop-color="#5d7fc3"/><stop offset="0.628" stop-color="#4e6fb9"/><stop offset="0.651" stop-color="#4160ae"/><stop offset="0.674" stop-color="#3552a2"/><stop offset="0.698" stop-color="#2f4a9a"/><stop offset="0.721" stop-color="#2c4696"/><stop offset="0.744" stop-color="#294292"/><stop offset="0.767" stop-color="#284191"/><stop offset="1.000" stop-color="#284191"/></linearGradient><linearGradient id="g1_41" gradientUnits="userSpaceOnUse" x1="-3.6500000000000004" x2="200.7" y1="0" y2="0"><stop offset="0.000" stop-color="#c15342"/><stop offset="0.047" stop-color="#c15342"/><stop offset="0.070" stop-color="#c25543"/><stop offset="0.093" stop-color="#c35644"/><stop offset="0.116" stop-color="#c35644"/><stop offset="0.140" stop-color="#c45a47"/><stop offset="0.163" stop-color="#c65d49"/><stop offset="0.186" stop-color="#c8624c"/><stop offset="0.209" stop-color="#c9654f"/><stop offset="0.233" stop-color="#cb6a52"/><stop offset="0.256" stop-color="#cd7057"/><stop offset="0.279" stop-color="#cf775d"/><stop offset="0.302" stop-color="#d07d62"/><stop offset="0.326" stop-color="#d28267"/><stop offset="0.349" stop-color="#d2886e"/><stop offset="0.372" stop-color="#d39177"/><stop offset="0.395" stop-color="#d29880"/><stop offset="0.419" stop-color="#d1a08a"/><stop offset="0.442" stop-color="#cda895"/><stop offset="0.465" stop-color="#c7b0a2"/><stop offset="0.488" stop-color="#bbb6b2"/><stop offset="0.512" stop-color="#adb6bf"/><stop offset="0.535" stop-color="#9aadc9"/><stop offset="0.558" stop-color="#829fcc"/><stop offset="0.581" stop-color="#6f8fca"/><stop offset="0.605" stop-color="#5e80c3"/><stop offset="0.628" stop-color="#4e6fb9"/><stop offset="0.651" stop-color="#4160ae"/><stop offset="0.674" stop-color="#3552a2"/><stop offset="0.698" stop-color="#2f4a9a"/><stop offset="0.721" stop-color="#2c4696"/><stop offset="0.744" stop-color="#294292"/><stop offset="0.767" stop-color="#284191"/><stop offset="1.000" stop-color="#284191"/></linearGradient><linearGradient id="g1_42" gradientUnits="userSpaceOnUse" x1="-3.6500000000000004" x2="200.7" y1="0" y2="0"><stop offset="0.000" stop-color="#bf4d3f"/><stop offset="0.047" stop-color="#bf4d3f"/><stop offset="0.070" stop-color="#bf4f40"/><stop offset="0.093" stop-color="#c05141"/><stop offset="0.116" stop-color="#c05141"/><stop offset="0.140" stop-color="#c25543"/><stop offset="0.163" stop-color="#c35845"/><stop offset="0.186" stop-color="#c65d49"/><stop offset="0.209" stop-color="#c7604b"/><stop offset="0.233" stop-color="#c9654f"/><stop offset="0.256" stop-color="#cc6d55"/><stop offset="0.279" stop-color="#ce735a"/><stop offset="0.302" stop-color="#cf785f"/><stop offset="0.326" stop-color="#d17e64"/><stop offset="0.349" stop-color="#d2856a"/><stop offset="0.372" stop-color="#d38d73"/><stop offset="0.395" stop-color="#d3957c"/><stop offset="0.419" stop-color="#d19e87"/><stop offset="0.442" stop-color="#cea692"/><stop offset="0.465" stop-color="#c7afa1"/><stop offset="0.488" stop-color="#bdb6b0"/><stop offset="0.512" stop-color="#aeb6be"/><stop offset="0.535" stop-color="#9aadc9"/><stop offset="0.558" stop-color="#829fcd"/><stop offset="0.581" stop-color="#6f8fca"/><stop offset="0.605" stop-color="#5e80c3"/><stop offset="0.628" stop-color="#4e6fb9"/><stop offset="0.651" stop-color="#4160ae"/><stop offset="0.674" stop-color="#3552a2"/><stop offset="0.698" stop-color="#2f4a9a"/><stop offset="0.721" stop-color="#2c4696"/><stop offset="0.744" stop-color="#294292"/><stop offset="0.767" stop-color="#284191"/><stop offset="1.000" stop-color="#284191"/></linearGradient><linearGradient id="g1_43" gradientUnits="userSpaceOnUse" x1="-3.6500000000000004" x2="200.7" y1="0" y2="0"><stop offset="0.000" stop-color="#bc483b"/><stop offset="0.047" stop-color="#bc483b"/><stop offset="0.070" stop-color="#bd4a3c"/><stop offset="0.093" stop-color="#be4c3e"/><stop offset="0.116" stop-color="#be4c3e"/><stop offset="0.140" stop-color="#bf4f40"/><stop offset="0.163" stop-color="#c15342"/><stop offset="0.186" stop-color="#c35845"/><stop offset="0.209" stop-color="#c55b48"/><stop offset="0.233" stop-color="#c7604b"/><stop offset="0.256" stop-color="#ca6851"/><stop offset="0.279" stop-color="#cc6e56"/><stop offset="0.302" stop-color="#ce745b"/><stop offset="0.326" stop-color="#d07a60"/><stop offset="0.349" stop-color="#d28267"/><stop offset="0.372" stop-color="#d38b70"/><stop offset="0.395" stop-color="#d39379"/><stop offset="0.419" stop-color="#d29c85"/><stop offset="0.442" stop-color="#cfa590"/><stop offset="0.465" stop-color="#c9ae9f"/><stop offset="0.488" stop-color="#beb5af"/><stop offset="0.512" stop-color="#afb6bd"/><stop offset="0.535" stop-color="#9baec8"/><stop offset="0.558" stop-color="#849fcc"/><stop offset="0.581" stop-color="#7090ca"/><stop offset="0.605" stop-color="#5e80c3"/><stop offset="0.628" stop-color="#4f70ba"/><stop offset="0.651" stop-color="#4261af"/><stop offset="0.674" stop-color="#3552a2"/><stop offset="0.698" stop-color="#2f4a9a"/><stop offset="0.721" stop-color="#2c4696"/><stop offset="0.744" stop-color="#294292"/><stop offset="0.767" stop-color="#284191"/><stop offset="1.000" stop-color="#284191"/></linearGradient><linearGradient id="g1_44" gradientUnits="userSpaceOnUse" x1="-3.6500000000000004" x2="200.7" y1="0" y2="0"><stop offset="0.000" stop-color="#b94238"/><stop offset="0.047" stop-color="#b94238"/><stop offset="0.070" stop-color="#ba4439"/><stop offset="0.093" stop-color="#bb463a"/><stop offset="0.116" stop-color="#bb463a"/><stop offset="0.140" stop-color="#bd4a3c"/><stop offset="0.163" stop-color="#be4d3f"/><stop offset="0.186" stop-color="#c15342"/><stop offset="0.209" stop-color="#c35644"/><stop offset="0.233" stop-color="#c65d49"/><stop offset="0.256" stop-color="#c8634e"/><stop offset="0.279" stop-color="#cb6a52"/><stop offset="0.302" stop-color="#cd7057"/><stop offset="0.326" stop-color="#cf775d"/><stop offset="0.349" stop-color="#d17e64"/><stop offset="0.372" stop-color="#d2876c"/><stop offset="0.395" stop-color="#d39075"/><stop offset="0.419" stop-color="#d29a82"/><stop offset="0.442" stop-color="#d0a38d"/><stop offset="0.465" stop-color="#c9ad9d"/><stop offset="0.488" stop-color="#bfb5ae"/><stop offset="0.512" stop-color="#b0b6bc"/><stop offset="0.535" stop-color="#9caec8"/><stop offset="0.558" stop-color="#849fcc"/><stop offset="0.581" stop-color="#7090ca"/><stop offset="0.605" stop-color="#5f81c4"/><stop offset="0.628" stop-color="#4f70ba"/><stop offset="0.651" stop-color="#4261af"/><stop offset="0.674" stop-color="#3552a2"/><stop offset="0.698" stop-color="#2f4a9a"/><stop offset="0.721" stop-color="#2c4696"/><stop offset="0.744" stop-color="#294292"/><stop offset="0.767" stop-color="#284191"/><stop offset="1.000" stop-color="#284191"/></linearGradient><linearGradient id="g1_45" gradientUnits="userSpaceOnUse" x1="-3.6500000000000004" x2="200.7" y1="0" y2="0"><stop offset="0.000" stop-color="#b73e36"/><stop offset="0.047" stop-color="#b73e36"/><stop offset="0.070" stop-color="#b84037"/><stop offset="0.093" stop-color="#b94238"/><stop offset="0.116" stop-color="#b94238"/><stop offset="0.140" stop-color="#bc483b"/><stop offset="0.163" stop-color="#be4c3e"/><stop offset="0.186" stop-color="#bf4f40"/><stop offset="0.209" stop-color="#c25543"/><stop offset="0.233" stop-color="#c45a47"/><stop offset="0.256" stop-color="#c7604b"/><stop offset="0.279" stop-color="#ca6750"/><stop offset="0.302" stop-color="#cc6e56"/><stop offset="0.326" stop-color="#ce745b"/><stop offset="0.349" stop-color="#d07d62"/><stop offset="0.372" stop-color="#d2866b"/><stop offset="0.395" stop-color="#d38e74"/><stop offset="0.419" stop-color="#d2987f"/><stop offset="0.442" stop-color="#d0a28c"/><stop offset="0.465" stop-color="#caad9c"/><stop offset="0.488" stop-color="#c0b4ad"/><stop offset="0.512" stop-color="#b1b7bb"/><stop offset="0.535" stop-color="#9caec8"/><stop offset="0.558" stop-color="#849fcd"/><stop offset="0.581" stop-color="#7090ca"/><stop offset="0.605" stop-color="#5f81c4"/><stop offset="0.628" stop-color="#4f70ba"/><stop offset="0.651" stop-color="#4261af"/><stop offset="0.674" stop-color="#3552a2"/><stop offset="0.698" stop-color="#2f4a9a"/><stop offset="0.721" stop-color="#2c4696"/><stop offset="0.744" stop-color="#294292"/><stop offset="0.767" stop-color="#284191"/><stop offset="1.000" stop-color="#284191"/></linearGradient><linearGradient id="g1_46" gradientUnits="userSpaceOnUse" x1="-3.6500000000000004" x2="200.7" y1="0" y2="0"><stop offset="0.000" stop-color="#b53a34"/><stop offset="0.047" stop-color="#b53a34"/><stop offset="0.070" stop-color="#b63c35"/><stop offset="0.093" stop-color="#b73e36"/><stop offset="0.116" stop-color="#b84037"/><stop offset="0.140" stop-color="#ba4439"/><stop offset="0.163" stop-color="#bc483b"/><stop offset="0.186" stop-color="#be4c3e"/><stop offset="0.209" stop-color="#c05141"/><stop offset="0.233" stop-color="#c35644"/><stop offset="0.256" stop-color="#c65d49"/><stop offset="0.279" stop-color="#c8634e"/><stop offset="0.302" stop-color="#cb6b54"/><stop offset="0.326" stop-color="#cd7158"/><stop offset="0.349" stop-color="#d07a60"/><stop offset="0.372" stop-color="#d28369"/><stop offset="0.395" stop-color="#d38d73"/><stop offset="0.419" stop-color="#d3977e"/><stop offset="0.442" stop-color="#d0a18b"/><stop offset="0.465" stop-color="#cbab9a"/><stop offset="0.488" stop-color="#c0b4ab"/><stop offset="0.512" stop-color="#b1b7bb"/><stop offset="0.535" stop-color="#9cafc8"/><stop offset="0.558" stop-color="#85a0cc"/><stop offset="0.581" stop-color="#7191ca"/><stop offset="0.605" stop-color="#5f81c4"/><stop offset="0.628" stop-color="#4f70ba"/><stop offset="0.651" stop-color="#4261af"/><stop offset="0.674" stop-color="#3552a2"/><stop offset="0.698" stop-color="#2f4a9a"/><stop offset="0.721" stop-color="#2c4696"/><stop offset="0.744" stop-color="#294292"/><stop offset="0.767" stop-color="#284191"/><stop offset="1.000" stop-color="#284191"/></linearGradient><linearGradient id="g1_47" gradientUnits="userSpaceOnUse" x1="-3.6500000000000004" x2="200.7" y1="0" y2="0"><stop offset="0.000" stop-color="#b33632"/><stop offset="0.047" stop-color="#b33632"/><stop offset="0.070" stop-color="#b43833"/><stop offset="0.093" stop-color="#b53a34"/><stop offset="0.116" stop-color="#b63c35"/><stop offset="0.140" stop-color="#b84037"/><stop offset="0.163" stop-color="#ba4439"/><stop offset="0.186" stop-color="#bc483b"/><stop offset="0.209" stop-color="#bf4d3f"/><stop offset="0.233" stop-color="#c15342"/><stop offset="0.256" stop-color="#c45a47"/><stop offset="0.279" stop-color="#c8624c"/><stop offset="0.302" stop-color="#ca6851"/><stop offset="0.326" stop-color="#cc6e56"/><stop offset="0.349" stop-color="#cf775d"/><stop offset="0.372" stop-color="#d28267"/><stop offset="0.395" stop-color="#d38b70"/><stop offset="0.419" stop-color="#d3967d"/><stop offset="0.442" stop-color="#d19f88"/><stop offset="0.465" stop-color="#ccaa98"/><stop offset="0.488" stop-color="#c1b3aa"/><stop offset="0.512" stop-color="#b2b7bb"/><stop offset="0.535" stop-color="#9dafc7"/><stop offset="0.558" stop-color="#85a0cc"/><stop offset="0.581" stop-color="#7191ca"/><stop offset="0.605" stop-color="#5f81c4"/><stop offset="0.628" stop-color="#4f70ba"/><stop offset="0.651" stop-color="#4261af"/><stop offset="0.674" stop-color="#3552a2"/><stop offset="0.698" stop-color="#2f4a9a"/><stop offset="0.721" stop-color="#2c4696"/><stop offset="0.744" stop-color="#294292"/><stop offset="0.767" stop-color="#284191"/><stop offset="1.000" stop-color="#284191"/></linearGradient><linearGradient id="g1_48" gradientUnits="userSpaceOnUse" x1="-3.6500000000000004" x2="200.7" y1="0" y2="0"><stop offset="0.000" stop-color="#b13230"/><stop offset="0.023" stop-color="#b13230"/><stop offset="0.047" stop-color="#b23431"/><stop offset="0.070" stop-color="#b33632"/><stop offset="0.093" stop-color="#b33632"/><stop offset="0.116" stop-color="#b43833"/><stop offset="0.140" stop-color="#b63c35"/><stop offset="0.163" stop-color="#b84037"/><stop offset="0.186" stop-color="#bb463a"/><stop offset="0.209" stop-color="#bd4a3c"/><stop offset="0.233" stop-color="#bf4f40"/><stop offset="0.256" stop-color="#c35845"/><stop offset="0.279" stop-color="#c65f4a"/><stop offset="0.302" stop-color="#ca6750"/><stop offset="0.326" stop-color="#cc6d55"/><stop offset="0.349" stop-color="#cf765c"/><stop offset="0.372" stop-color="#d17f65"/><stop offset="0.395" stop-color="#d38a6f"/><stop offset="0.419" stop-color="#d3957c"/><stop offset="0.442" stop-color="#d19f88"/><stop offset="0.465" stop-color="#ccaa99"/><stop offset="0.488" stop-color="#c2b3a9"/><stop offset="0.512" stop-color="#b3b7ba"/><stop offset="0.535" stop-color="#9dafc7"/><stop offset="0.558" stop-color="#85a0cc"/><stop offset="0.581" stop-color="#7191ca"/><stop offset="0.605" stop-color="#6182c4"/><stop offset="0.628" stop-color="#4f70ba"/><stop offset="0.651" stop-color="#4261af"/><stop offset="0.674" stop-color="#3552a2"/><stop offset="0.698" stop-color="#2f4a9a"/><stop offset="0.721" stop-color="#2c4696"/><stop offset="0.744" stop-color="#294292"/><stop offset="0.767" stop-color="#284191"/><stop offset="1.000" stop-color="#284191"/></linearGradient><linearGradient id="g1_49" gradientUnits="userSpaceOnUse" x1="-3.6500000000000004" x2="200.7" y1="0" y2="0"><stop offset="0.000" stop-color="#b02f2f"/><stop offset="0.047" stop-color="#b02f2f"/><stop offset="0.070" stop-color="#b13230"/><stop offset="0.093" stop-color="#b23431"/><stop offset="0.116" stop-color="#b33632"/><stop offset="0.140" stop-color="#b53a34"/><stop offset="0.163" stop-color="#b73e36"/><stop offset="0.186" stop-color="#b94238"/><stop offset="0.209" stop-color="#bc483b"/><stop offset="0.233" stop-color="#bf4d3f"/><stop offset="0.256" stop-color="#c25543"/><stop offset="0.279" stop-color="#c65d49"/><stop offset="0.302" stop-color="#c8634e"/><stop offset="0.326" stop-color="#cb6b54"/><stop offset="0.349" stop-color="#ce735a"/><stop offset="0.372" stop-color="#d17e64"/><stop offset="0.395" stop-color="#d2886e"/><stop offset="0.419" stop-color="#d3947a"/><stop offset="0.442" stop-color="#d19e87"/><stop offset="0.465" stop-color="#ccaa97"/><stop offset="0.488" stop-color="#c2b3a9"/><stop offset="0.512" stop-color="#b3b7ba"/><stop offset="0.535" stop-color="#9dafc7"/><stop offset="0.558" stop-color="#85a0cc"/><stop offset="0.581" stop-color="#7191ca"/><stop offset="0.605" stop-color="#6182c4"/><stop offset="0.628" stop-color="#5072bb"/><stop offset="0.651" stop-color="#4261af"/><stop offset="0.674" stop-color="#3552a2"/><stop offset="0.698" stop-color="#2f4a9a"/><stop offset="0.721" stop-color="#2c4696"/><stop offset="0.744" stop-color="#294292"/><stop offset="0.767" stop-color="#284191"/><stop offset="1.000" stop-color="#284191"/></linearGradient><linearGradient id="g1_50" gradientUnits="userSpaceOnUse" x1="-3.6500000000000004" x2="200.7" y1="0" y2="0"><stop offset="0.000" stop-color="#ad2b2d"/><stop offset="0.023" stop-color="#ad2b2d"/><stop offset="0.047" stop-color="#af2d2e"/><stop offset="0.070" stop-color="#af2d2e"/><stop offset="0.093" stop-color="#b02f2f"/><stop offset="0.116" stop-color="#b13230"/><stop offset="0.140" stop-color="#b33632"/><stop offset="0.163" stop-color="#b53a34"/><stop offset="0.186" stop-color="#b73e36"/><stop offset="0.209" stop-color="#ba4439"/><stop offset="0.233" stop-color="#bd4a3c"/><stop offset="0.256" stop-color="#c15342"/><stop offset="0.279" stop-color="#c45a47"/><stop offset="0.302" stop-color="#c8624c"/><stop offset="0.326" stop-color="#ca6851"/><stop offset="0.349" stop-color="#cd7158"/><stop offset="0.372" stop-color="#d07d62"/><stop offset="0.395" stop-color="#d2866b"/><stop offset="0.419" stop-color="#d39379"/><stop offset="0.442" stop-color="#d29d86"/><stop offset="0.465" stop-color="#cda996"/><stop offset="0.488" stop-color="#c3b2a8"/><stop offset="0.512" stop-color="#b4b7b9"/><stop offset="0.535" stop-color="#9eb0c7"/><stop offset="0.558" stop-color="#86a1cc"/><stop offset="0.581" stop-color="#7191ca"/><stop offset="0.605" stop-color="#6182c4"/><stop offset="0.628" stop-color="#5072bb"/><stop offset="0.651" stop-color="#4261af"/><stop offset="0.674" stop-color="#3653a3"/><stop offset="0.698" stop-color="#2f4a9a"/><stop offset="0.721" stop-color="#2c4696"/><stop offset="0.744" stop-color="#294292"/><stop offset="0.767" stop-color="#284191"/><stop offset="1.000" stop-color="#284191"/></linearGradient><linearGradient id="g1_51" gradientUnits="userSpaceOnUse" x1="-3.6500000000000004" x2="200.7" y1="0" y2="0"><stop offset="0.000" stop-color="#ac282c"/><stop offset="0.023" stop-color="#ac282c"/><stop offset="0.047" stop-color="#ad2b2d"/><stop offset="0.070" stop-color="#af2d2e"/><stop offset="0.093" stop-color="#af2d2e"/><stop offset="0.116" stop-color="#b02f2f"/><stop offset="0.140" stop-color="#b23431"/><stop offset="0.163" stop-color="#b43833"/><stop offset="0.186" stop-color="#b73e36"/><stop offset="0.209" stop-color="#b94238"/><stop offset="0.233" stop-color="#bc483b"/><stop offset="0.256" stop-color="#c05141"/><stop offset="0.279" stop-color="#c35845"/><stop offset="0.302" stop-color="#c7604b"/><stop offset="0.326" stop-color="#c96750"/><stop offset="0.349" stop-color="#cd7057"/><stop offset="0.372" stop-color="#d07b61"/><stop offset="0.395" stop-color="#d2866b"/><stop offset="0.419" stop-color="#d39278"/><stop offset="0.442" stop-color="#d29c85"/><stop offset="0.465" stop-color="#cda895"/><stop offset="0.488" stop-color="#c3b2a8"/><stop offset="0.512" stop-color="#b4b7b9"/><stop offset="0.535" stop-color="#9eb0c7"/><stop offset="0.558" stop-color="#86a1cc"/><stop offset="0.581" stop-color="#7392cb"/><stop offset="0.605" stop-color="#6182c4"/><stop offset="0.628" stop-color="#5072bb"/><stop offset="0.651" stop-color="#4261af"/><stop offset="0.674" stop-color="#3653a3"/><stop offset="0.698" stop-color="#2f4a9a"/><stop offset="0.721" stop-color="#2c4696"/><stop offset="0.744" stop-color="#294292"/><stop offset="0.767" stop-color="#284191"/><stop offset="1.000" stop-color="#284191"/></linearGradient><linearGradient id="g1_52" gradientUnits="userSpaceOnUse" x1="-3.6500000000000004" x2="200.7" y1="0" y2="0"><stop offset="0.000" stop-color="#ac282c"/><stop offset="0.047" stop-color="#ac282c"/><stop offset="0.070" stop-color="#ad2b2d"/><stop offset="0.093" stop-color="#ad2b2d"/><stop offset="0.116" stop-color="#af2d2e"/><stop offset="0.140" stop-color="#b13230"/><stop offset="0.163" stop-color="#b33632"/><stop offset="0.186" stop-color="#b63c35"/><stop offset="0.209" stop-color="#b84037"/><stop offset="0.233" stop-color="#bb463a"/><stop offset="0.256" stop-color="#bf4f40"/><stop offset="0.279" stop-color="#c35845"/><stop offset="0.302" stop-color="#c65f4a"/><stop offset="0.326" stop-color="#ca6750"/><stop offset="0.349" stop-color="#cd7057"/><stop offset="0.372" stop-color="#d07a60"/><stop offset="0.395" stop-color="#d2856a"/><stop offset="0.419" stop-color="#d39177"/><stop offset="0.442" stop-color="#d29b83"/><stop offset="0.465" stop-color="#cda895"/><stop offset="0.488" stop-color="#c4b2a7"/><stop offset="0.512" stop-color="#b4b7b9"/><stop offset="0.535" stop-color="#9eb0c7"/><stop offset="0.558" stop-color="#86a1cc"/><stop offset="0.581" stop-color="#7392cb"/><stop offset="0.605" stop-color="#6182c4"/><stop offset="0.628" stop-color="#5072bb"/><stop offset="0.651" stop-color="#4261af"/><stop offset="0.674" stop-color="#3653a3"/><stop offset="0.698" stop-color="#2f4a9a"/><stop offset="0.721" stop-color="#2c4696"/><stop offset="0.744" stop-color="#294292"/><stop offset="0.767" stop-color="#284191"/><stop offset="1.000" stop-color="#284191"/></linearGradient><linearGradient id="g1_53" gradientUnits="userSpaceOnUse" x1="-3.6500000000000004" x2="200.7" y1="0" y2="0"><stop offset="0.000" stop-color="#ab262b"/><stop offset="0.047" stop-color="#ab262b"/><stop offset="0.070" stop-color="#ac282c"/><stop offset="0.093" stop-color="#ad2b2d"/><stop offset="0.116" stop-color="#ad2b2d"/><stop offset="0.140" stop-color="#b02f2f"/><stop offset="0.163" stop-color="#b33632"/><stop offset="0.186" stop-color="#b53a34"/><stop offset="0.209" stop-color="#b73e36"/><stop offset="0.233" stop-color="#bb463a"/><stop offset="0.256" stop-color="#bf4d3f"/><stop offset="0.279" stop-color="#c35644"/><stop offset="0.302" stop-color="#c65d49"/><stop offset="0.326" stop-color="#c9654f"/><stop offset="0.349" stop-color="#cc6e56"/><stop offset="0.372" stop-color="#d07a60"/><stop offset="0.395" stop-color="#d2856a"/><stop offset="0.419" stop-color="#d39177"/><stop offset="0.442" stop-color="#d29b83"/><stop offset="0.465" stop-color="#cda895"/><stop offset="0.488" stop-color="#c4b2a7"/><stop offset="0.512" stop-color="#b4b7b9"/><stop offset="0.535" stop-color="#9eb0c7"/><stop offset="0.558" stop-color="#86a1cc"/><stop offset="0.581" stop-color="#7392cb"/><stop offset="0.605" stop-color="#6182c4"/><stop offset="0.628" stop-color="#5072bb"/><stop offset="0.651" stop-color="#4261af"/><stop offset="0.674" stop-color="#3653a3"/><stop offset="0.698" stop-color="#2f4a9a"/><stop offset="0.721" stop-color="#2c4696"/><stop offset="0.744" stop-color="#294292"/><stop offset="0.767" stop-color="#284191"/><stop offset="1.000" stop-color="#284191"/></linearGradient><linearGradient id="g1_54" gradientUnits="userSpaceOnUse" x1="-3.6500000000000004" x2="200.7" y1="0" y2="0"><stop offset="0.000" stop-color="#aa242a"/><stop offset="0.047" stop-color="#aa242a"/><stop offset="0.070" stop-color="#ab262b"/><stop offset="0.093" stop-color="#ac282c"/><stop offset="0.116" stop-color="#ad2b2d"/><stop offset="0.140" stop-color="#b02f2f"/><stop offset="0.163" stop-color="#b23431"/><stop offset="0.186" stop-color="#b43833"/><stop offset="0.209" stop-color="#b73e36"/><stop offset="0.233" stop-color="#ba4439"/><stop offset="0.256" stop-color="#be4c3e"/><stop offset="0.279" stop-color="#c25543"/><stop offset="0.302" stop-color="#c65d49"/><stop offset="0.326" stop-color="#c8634e"/><stop offset="0.349" stop-color="#cc6d55"/><stop offset="0.372" stop-color="#cf785f"/><stop offset="0.395" stop-color="#d28369"/><stop offset="0.419" stop-color="#d39075"/><stop offset="0.442" stop-color="#d29b83"/><stop offset="0.465" stop-color="#cea794"/><stop offset="0.488" stop-color="#c4b2a7"/><stop offset="0.512" stop-color="#b5b8b8"/><stop offset="0.535" stop-color="#9eb0c7"/><stop offset="0.558" stop-color="#86a1cc"/><stop offset="0.581" stop-color="#7392cb"/><stop offset="0.605" stop-color="#6182c4"/><stop offset="0.628" stop-color="#5072bb"/><stop offset="0.651" stop-color="#4261af"/><stop offset="0.674" stop-color="#3653a3"/><stop offset="0.698" stop-color="#2f4a9a"/><stop offset="0.721" stop-color="#2c4696"/><stop offset="0.744" stop-color="#294292"/><stop offset="0.767" stop-color="#284191"/><stop offset="1.000" stop-color="#284191"/></linearGradient><linearGradient id="g1_55" gradientUnits="userSpaceOnUse" x1="-3.6500000000000004" x2="200.7" y1="0" y2="0"><stop offset="0.000" stop-color="#a92029"/><stop offset="0.023" stop-color="#a92029"/><stop offset="0.047" stop-color="#aa242a"/><stop offset="0.070" stop-color="#aa242a"/><stop offset="0.093" stop-color="#ab262b"/><stop offset="0.116" stop-color="#ac282c"/><stop offset="0.140" stop-color="#af2d2e"/><stop offset="0.163" stop-color="#b13230"/><stop offset="0.186" stop-color="#b33632"/><stop offset="0.209" stop-color="#b63c35"/><stop offset="0.233" stop-color="#b94238"/><stop offset="0.256" stop-color="#be4c3e"/><stop offset="0.279" stop-color="#c15342"/><stop offset="0.302" stop-color="#c55b48"/><stop offset="0.326" stop-color="#c8634e"/><stop offset="0.349" stop-color="#cc6d55"/><stop offset="0.372" stop-color="#cf775d"/><stop offset="0.395" stop-color="#d18267"/><stop offset="0.419" stop-color="#d39075"/><stop offset="0.442" stop-color="#d29a82"/><stop offset="0.465" stop-color="#cea794"/><stop offset="0.488" stop-color="#c5b1a6"/><stop offset="0.512" stop-color="#b5b8b8"/><stop offset="0.535" stop-color="#9fb0c6"/><stop offset="0.558" stop-color="#86a1cc"/><stop offset="0.581" stop-color="#7392cb"/><stop offset="0.605" stop-color="#6182c4"/><stop offset="0.628" stop-color="#5072bb"/><stop offset="0.651" stop-color="#4363b0"/><stop offset="0.674" stop-color="#3653a3"/><stop offset="0.698" stop-color="#2f4a9a"/><stop offset="0.721" stop-color="#2c4696"/><stop offset="0.744" stop-color="#294292"/><stop offset="0.767" stop-color="#284191"/><stop offset="1.000" stop-color="#284191"/></linearGradient><linearGradient id="g1_56" gradientUnits="userSpaceOnUse" x1="-3.6500000000000004" x2="200.7" y1="0" y2="0"><stop offset="0.000" stop-color="#a92029"/><stop offset="0.023" stop-color="#a92029"/><stop offset="0.047" stop-color="#aa242a"/><stop offset="0.070" stop-color="#aa242a"/><stop offset="0.093" stop-color="#ab262b"/><stop offset="0.116" stop-color="#ac282c"/><stop offset="0.140" stop-color="#af2d2e"/><stop offset="0.163" stop-color="#b13230"/><stop offset="0.186" stop-color="#b33632"/><stop offset="0.209" stop-color="#b63c35"/><stop offset="0.233" stop-color="#b94238"/><stop offset="0.256" stop-color="#be4c3e"/><stop offset="0.279" stop-color="#c15342"/><stop offset="0.302" stop-color="#c55b48"/><stop offset="0.326" stop-color="#c8634e"/><stop offset="0.349" stop-color="#cc6d55"/><stop offset="0.372" stop-color="#cf775d"/><stop offset="0.395" stop-color="#d18267"/><stop offset="0.419" stop-color="#d39075"/><stop offset="0.442" stop-color="#d29a82"/><stop offset="0.465" stop-color="#cea794"/><stop offset="0.488" stop-color="#c5b1a6"/><stop offset="0.512" stop-color="#b5b8b8"/><stop offset="0.535" stop-color="#9fb0c6"/><stop offset="0.558" stop-color="#86a1cc"/><stop offset="0.581" stop-color="#7392cb"/><stop offset="0.605" stop-color="#6182c4"/><stop offset="0.628" stop-color="#5072bb"/><stop offset="0.651" stop-color="#4363b0"/><stop offset="0.674" stop-color="#3653a3"/><stop offset="0.698" stop-color="#2f4a9a"/><stop offset="0.721" stop-color="#2c4696"/><stop offset="0.744" stop-color="#294292"/><stop offset="0.767" stop-color="#284191"/><stop offset="1.000" stop-color="#284191"/></linearGradient><linearGradient id="g1_57" gradientUnits="userSpaceOnUse" x1="-3.6500000000000004" x2="200.7" y1="0" y2="0"><stop offset="0.000" stop-color="#a92029"/><stop offset="0.023" stop-color="#a92029"/><stop offset="0.047" stop-color="#aa242a"/><stop offset="0.070" stop-color="#aa242a"/><stop offset="0.093" stop-color="#ab262b"/><stop offset="0.116" stop-color="#ac282c"/><stop offset="0.140" stop-color="#af2d2e"/><stop offset="0.163" stop-color="#b13230"/><stop offset="0.186" stop-color="#b33632"/><stop offset="0.209" stop-color="#b63c35"/><stop offset="0.233" stop-color="#b94238"/><stop offset="0.256" stop-color="#be4c3e"/><stop offset="0.279" stop-color="#c15342"/><stop offset="0.302" stop-color="#c55b48"/><stop offset="0.326" stop-color="#c8634e"/><stop offset="0.349" stop-color="#cc6d55"/><stop offset="0.372" stop-color="#cf775d"/><stop offset="0.395" stop-color="#d18267"/><stop offset="0.419" stop-color="#d39075"/><stop offset="0.442" stop-color="#d29a82"/><stop offset="0.465" stop-color="#cea794"/><stop offset="0.488" stop-color="#c5b1a6"/><stop offset="0.512" stop-color="#b5b8b8"/><stop offset="0.535" stop-color="#9fb0c6"/><stop offset="0.558" stop-color="#86a1cc"/><stop offset="0.581" stop-color="#7392cb"/><stop offset="0.605" stop-color="#6182c4"/><stop offset="0.628" stop-color="#5072bb"/><stop offset="0.651" stop-color="#4363b0"/><stop offset="0.674" stop-color="#3653a3"/><stop offset="0.698" stop-color="#2f4a9a"/><stop offset="0.721" stop-color="#2c4696"/><stop offset="0.744" stop-color="#294292"/><stop offset="0.767" stop-color="#284191"/><stop offset="1.000" stop-color="#284191"/></linearGradient><linearGradient id="g1_58" gradientUnits="userSpaceOnUse" x1="-3.6500000000000004" x2="200.7" y1="0" y2="0"><stop offset="0.000" stop-color="#a92029"/><stop offset="0.023" stop-color="#a92029"/><stop offset="0.047" stop-color="#aa242a"/><stop offset="0.070" stop-color="#aa242a"/><stop offset="0.093" stop-color="#ab262b"/><stop offset="0.116" stop-color="#ac282c"/><stop offset="0.140" stop-color="#af2d2e"/><stop offset="0.163" stop-color="#b13230"/><stop offset="0.186" stop-color="#b33632"/><stop offset="0.209" stop-color="#b63c35"/><stop offset="0.233" stop-color="#b94238"/><stop offset="0.256" stop-color="#be4c3e"/><stop offset="0.279" stop-color="#c15342"/><stop offset="0.302" stop-color="#c55b48"/><stop offset="0.326" stop-color="#c8634e"/><stop offset="0.349" stop-color="#cc6d55"/><stop offset="0.372" stop-color="#cf775d"/><stop offset="0.395" stop-color="#d18267"/><stop offset="0.419" stop-color="#d39075"/><stop offset="0.442" stop-color="#d29a82"/><stop offset="0.465" stop-color="#cea794"/><stop offset="0.488" stop-color="#c5b1a6"/><stop offset="0.512" stop-color="#b5b8b8"/><stop offset="0.535" stop-color="#9fb0c6"/><stop offset="0.558" stop-color="#86a1cc"/><stop offset="0.581" stop-color="#7392cb"/><stop offset="0.605" stop-color="#6182c4"/><stop offset="0.628" stop-color="#5072bb"/><stop offset="0.651" stop-color="#4363b0"/><stop offset="0.674" stop-color="#3653a3"/><stop offset="0.698" stop-color="#2f4a9a"/><stop offset="0.721" stop-color="#2c4696"/><stop offset="0.744" stop-color="#294292"/><stop offset="0.767" stop-color="#284191"/><stop offset="1.000" stop-color="#284191"/></linearGradient><clipPath id="clip2"><rect x="4.35" y="179.6" width="188.35" height="157.40"/></clipPath><linearGradient id="g2_10" gradientUnits="userSpaceOnUse" x1="-3.6500000000000004" x2="200.7" y1="0" y2="0"><stop offset="0.000" stop-color="#294292"/><stop offset="0.442" stop-color="#294292"/><stop offset="0.465" stop-color="#284191"/><stop offset="1.000" stop-color="#284191"/></linearGradient><linearGradient id="g2_11" gradientUnits="userSpaceOnUse" x1="-3.6500000000000004" x2="200.7" y1="0" y2="0"><stop offset="0.000" stop-color="#2b4595"/><stop offset="0.372" stop-color="#2b4595"/><stop offset="0.395" stop-color="#2a4394"/><stop offset="0.535" stop-color="#2a4394"/><stop offset="0.558" stop-color="#294292"/><stop offset="0.651" stop-color="#294292"/><stop offset="0.674" stop-color="#284191"/><stop offset="1.000" stop-color="#284191"/></linearGradient><linearGradient id="g2_12" gradientUnits="userSpaceOnUse" x1="-3.6500000000000004" x2="200.7" y1="0" y2="0"><stop offset="0.000" stop-color="#2d4798"/><stop offset="0.349" stop-color="#2d4798"/><stop offset="0.372" stop-color="#2c4696"/><stop offset="0.488" stop-color="#2c4696"/><stop offset="0.512" stop-color="#2b4595"/><stop offset="0.558" stop-color="#2b4595"/><stop offset="0.581" stop-color="#2a4394"/><stop offset="0.628" stop-color="#2a4394"/><stop offset="0.651" stop-color="#294292"/><stop offset="0.674" stop-color="#294292"/><stop offset="0.698" stop-color="#284191"/><stop offset="1.000" stop-color="#284191"/></linearGradient><linearGradient id="g2_13" gradientUnits="userSpaceOnUse" x1="-3.6500000000000004" x2="200.7" y1="0" y2="0"><stop offset="0.000" stop-color="#2f4a9a"/><stop offset="0.326" stop-color="#2f4a9a"/><stop offset="0.349" stop-color="#2e4899"/><stop offset="0.372" stop-color="#2e4999"/><stop offset="0.465" stop-color="#2e4999"/><stop offset="0.488" stop-color="#2d4798"/><stop offset="0.512" stop-color="#2d4798"/><stop offset="0.535" stop-color="#2c4696"/><stop offset="0.581" stop-color="#2c4696"/><stop offset="0.605" stop-color="#2b4595"/><stop offset="0.628" stop-color="#2b4595"/><stop offset="0.651" stop-color="#2a4394"/><stop offset="0.674" stop-color="#294292"/><stop offset="0.698" stop-color="#294292"/><stop offset="0.721" stop-color="#284191"/><stop offset="1.000" stop-color="#284191"/></linearGradient><linearGradient id="g2_14" gradientUnits="userSpaceOnUse" x1="-3.6500000000000004" x2="200.7" y1="0" y2="0"><stop offset="0.000" stop-color="#314c9d"/><stop offset="0.326" stop-color="#314c9d"/><stop offset="0.349" stop-color="#304b9c"/><stop offset="0.395" stop-color="#304b9c"/><stop offset="0.419" stop-color="#304b9b"/><stop offset="0.442" stop-color="#304b9b"/><stop offset="0.465" stop-color="#2f4a9a"/><stop offset="0.488" stop-color="#2f4a9a"/><stop offset="0.512" stop-color="#2e4999"/><stop offset="0.535" stop-color="#2e4999"/><stop offset="0.558" stop-color="#2d4798"/><stop offset="0.581" stop-color="#2d4798"/><stop offset="0.605" stop-color="#2c4696"/><stop offset="0.628" stop-color="#2c4696"/><stop offset="0.651" stop-color="#2b4595"/><stop offset="0.674" stop-color="#2a4394"/><stop offset="0.698" stop-color="#294292"/><stop offset="0.721" stop-color="#284191"/><stop offset="1.000" stop-color="#284191"/></linearGradient><linearGradient id="g2_15" gradientUnits="userSpaceOnUse" x1="-3.6500000000000004" x2="200.7" y1="0" y2="0"><stop offset="0.000" stop-color="#3a58a7"/><stop offset="0.233" stop-color="#3a58a7"/><stop offset="0.256" stop-color="#3957a6"/><stop offset="0.349" stop-color="#3957a6"/><stop offset="0.372" stop-color="#3856a5"/><stop offset="0.395" stop-color="#3856a5"/><stop offset="0.419" stop-color="#3754a4"/><stop offset="0.442" stop-color="#3754a4"/><stop offset="0.465" stop-color="#3653a3"/><stop offset="0.488" stop-color="#3653a3"/><stop offset="0.512" stop-color="#3552a2"/><stop offset="0.535" stop-color="#3450a0"/><stop offset="0.558" stop-color="#324e9e"/><stop offset="0.581" stop-color="#324e9e"/><stop offset="0.605" stop-color="#314c9d"/><stop offset="0.628" stop-color="#2f4a9a"/><stop offset="0.651" stop-color="#2e4999"/><stop offset="0.674" stop-color="#2c4696"/><stop offset="0.698" stop-color="#2a4394"/><stop offset="0.721" stop-color="#294292"/><stop offset="0.744" stop-color="#284191"/><stop offset="1.000" stop-color="#284191"/></linearGradient><linearGradient id="g2_16" gradientUnits="userSpaceOnUse" x1="-3.6500000000000004" x2="200.7" y1="0" y2="0"><stop offset="0.000" stop-color="#4565b2"/><stop offset="0.140" stop-color="#4565b2"/><stop offset="0.163" stop-color="#4464b1"/><stop offset="0.279" stop-color="#4464b1"/><stop offset="0.302" stop-color="#4363b0"/><stop offset="0.349" stop-color="#4363b0"/><stop offset="0.372" stop-color="#4261af"/><stop offset="0.395" stop-color="#4261af"/><stop offset="0.419" stop-color="#4160ae"/><stop offset="0.442" stop-color="#405fad"/><stop offset="0.465" stop-color="#3f5dac"/><stop offset="0.488" stop-color="#3e5cab"/><stop offset="0.512" stop-color="#3c5baa"/><stop offset="0.535" stop-color="#3a58a7"/><stop offset="0.558" stop-color="#3856a5"/><stop offset="0.581" stop-color="#3754a4"/><stop offset="0.605" stop-color="#3552a2"/><stop offset="0.628" stop-color="#3450a0"/><stop offset="0.651" stop-color="#324e9e"/><stop offset="0.674" stop-color="#2d4798"/><stop offset="0.698" stop-color="#2a4394"/><stop offset="0.721" stop-color="#294292"/><stop offset="0.744" stop-color="#284191"/><stop offset="1.000" stop-color="#284191"/></linearGradient><linearGradient id="g2_17" gradientUnits="userSpaceOnUse" x1="-3.6500000000000004" x2="200.7" y1="0" y2="0"><stop offset="0.000" stop-color="#5072bb"/><stop offset="0.023" stop-color="#5072bb"/><stop offset="0.047" stop-color="#4f70ba"/><stop offset="0.233" stop-color="#4f70ba"/><stop offset="0.256" stop-color="#4e6fb9"/><stop offset="0.302" stop-color="#4e6fb9"/><stop offset="0.326" stop-color="#4d6eb8"/><stop offset="0.349" stop-color="#4d6eb8"/><stop offset="0.372" stop-color="#4c6db7"/><stop offset="0.395" stop-color="#4b6bb7"/><stop offset="0.419" stop-color="#4a6ab6"/><stop offset="0.442" stop-color="#4869b5"/><stop offset="0.465" stop-color="#4768b4"/><stop offset="0.488" stop-color="#4565b2"/><stop offset="0.512" stop-color="#4464b1"/><stop offset="0.535" stop-color="#4160ae"/><stop offset="0.558" stop-color="#3f5dac"/><stop offset="0.581" stop-color="#3c5baa"/><stop offset="0.605" stop-color="#3a58a7"/><stop offset="0.628" stop-color="#3856a5"/><stop offset="0.651" stop-color="#334f9f"/><stop offset="0.674" stop-color="#2e4999"/><stop offset="0.698" stop-color="#2b4595"/><stop offset="0.721" stop-color="#294292"/><stop offset="0.744" stop-color="#284191"/><stop offset="1.000" stop-color="#284191"/></linearGradient><linearGradient id="g2_18" gradientUnits="userSpaceOnUse" x1="-3.6500000000000004" x2="200.7" y1="0" y2="0"><stop offset="0.000" stop-color="#5b7cc2"/><stop offset="0.093" stop-color="#5b7cc2"/><stop offset="0.116" stop-color="#5b7cc1"/><stop offset="0.163" stop-color="#5b7cc1"/><stop offset="0.186" stop-color="#5a7bc1"/><stop offset="0.256" stop-color="#5a7bc1"/><stop offset="0.279" stop-color="#587ac0"/><stop offset="0.302" stop-color="#587ac0"/><stop offset="0.326" stop-color="#5779bf"/><stop offset="0.349" stop-color="#5779bf"/><stop offset="0.372" stop-color="#5678bf"/><stop offset="0.395" stop-color="#5576be"/><stop offset="0.419" stop-color="#5475bd"/><stop offset="0.442" stop-color="#5173bc"/><stop offset="0.465" stop-color="#5072bb"/><stop offset="0.488" stop-color="#4e6fb9"/><stop offset="0.512" stop-color="#4c6db7"/><stop offset="0.535" stop-color="#4869b5"/><stop offset="0.558" stop-color="#4565b2"/><stop offset="0.581" stop-color="#4363b0"/><stop offset="0.605" stop-color="#405fad"/><stop offset="0.628" stop-color="#3b59a9"/><stop offset="0.651" stop-color="#3552a2"/><stop offset="0.674" stop-color="#2e4999"/><stop offset="0.698" stop-color="#2b4595"/><stop offset="0.721" stop-color="#2a4394"/><stop offset="0.744" stop-color="#284191"/><stop offset="1.000" stop-color="#284191"/></linearGradient><linearGradient id="g2_19" gradientUnits="userSpaceOnUse" x1="-3.6500000000000004" x2="200.7" y1="0" y2="0"><stop offset="0.000" stop-color="#6788c7"/><stop offset="0.116" stop-color="#6788c7"/><stop offset="0.140" stop-color="#6587c7"/><stop offset="0.209" stop-color="#6587c7"/><stop offset="0.233" stop-color="#6486c6"/><stop offset="0.279" stop-color="#6486c6"/><stop offset="0.302" stop-color="#6384c6"/><stop offset="0.326" stop-color="#6283c5"/><stop offset="0.349" stop-color="#6283c5"/><stop offset="0.372" stop-color="#6182c4"/><stop offset="0.395" stop-color="#5f81c4"/><stop offset="0.419" stop-color="#5d7fc3"/><stop offset="0.442" stop-color="#5c7ec2"/><stop offset="0.465" stop-color="#5a7bc1"/><stop offset="0.488" stop-color="#5678bf"/><stop offset="0.512" stop-color="#5475bd"/><stop offset="0.535" stop-color="#5072bb"/><stop offset="0.558" stop-color="#4c6db8"/><stop offset="0.581" stop-color="#4869b5"/><stop offset="0.605" stop-color="#4565b2"/><stop offset="0.628" stop-color="#3e5cab"/><stop offset="0.651" stop-color="#3653a3"/><stop offset="0.674" stop-color="#2f4a9a"/><stop offset="0.698" stop-color="#2b4595"/><stop offset="0.721" stop-color="#2a4394"/><stop offset="0.744" stop-color="#284191"/><stop offset="1.000" stop-color="#284191"/></linearGradient><linearGradient id="g2_20" gradientUnits="userSpaceOnUse" x1="-3.6500000000000004" x2="200.7" y1="0" y2="0"><stop offset="0.000" stop-color="#7392cb"/><stop offset="0.047" stop-color="#7392cb"/><stop offset="0.070" stop-color="#7191ca"/><stop offset="0.163" stop-color="#7191ca"/><stop offset="0.186" stop-color="#7090ca"/><stop offset="0.233" stop-color="#7090ca"/><stop offset="0.256" stop-color="#6f8fca"/><stop offset="0.279" stop-color="#6f8fca"/><stop offset="0.302" stop-color="#6e8eca"/><stop offset="0.326" stop-color="#6e8ec9"/><stop offset="0.349" stop-color="#6d8dc9"/><stop offset="0.372" stop-color="#6a8bc8"/><stop offset="0.395" stop-color="#698ac8"/><stop offset="0.419" stop-color="#6889c7"/><stop offset="0.442" stop-color="#6587c7"/><stop offset="0.465" stop-color="#6384c5"/><stop offset="0.488" stop-color="#5f81c4"/><stop offset="0.512" stop-color="#5c7ec2"/><stop offset="0.535" stop-color="#5779bf"/><stop offset="0.558" stop-color="#5374bd"/><stop offset="0.581" stop-color="#4f70ba"/><stop offset="0.605" stop-color="#4869b5"/><stop offset="0.628" stop-color="#405fad"/><stop offset="0.651" stop-color="#3754a4"/><stop offset="0.674" stop-color="#304b9b"/><stop offset="0.698" stop-color="#2c4696"/><stop offset="0.721" stop-color="#2a4394"/><stop offset="0.744" stop-color="#284191"/><stop offset="1.000" stop-color="#284191"/></linearGradient><linearGradient id="g2_21" gradientUnits="userSpaceOnUse" x1="-3.6500000000000004" x2="200.7" y1="0" y2="0"><stop offset="0.000" stop-color="#7e9bcc"/><stop offset="0.047" stop-color="#7e9bcc"/><stop offset="0.070" stop-color="#7d9bcc"/><stop offset="0.093" stop-color="#7c9acc"/><stop offset="0.186" stop-color="#7c9acc"/><stop offset="0.209" stop-color="#7b99cc"/><stop offset="0.233" stop-color="#7b99cc"/><stop offset="0.256" stop-color="#7a98cc"/><stop offset="0.279" stop-color="#7a98cc"/><stop offset="0.302" stop-color="#7997cc"/><stop offset="0.326" stop-color="#7896cc"/><stop offset="0.349" stop-color="#7695cb"/><stop offset="0.372" stop-color="#7594cb"/><stop offset="0.395" stop-color="#7392cb"/><stop offset="0.419" stop-color="#7191ca"/><stop offset="0.442" stop-color="#6f8fca"/><stop offset="0.465" stop-color="#6b8cc9"/><stop offset="0.488" stop-color="#6889c7"/><stop offset="0.512" stop-color="#6486c6"/><stop offset="0.535" stop-color="#5e80c3"/><stop offset="0.558" stop-color="#5a7bc1"/><stop offset="0.581" stop-color="#5475bd"/><stop offset="0.605" stop-color="#4b6bb7"/><stop offset="0.628" stop-color="#4160ae"/><stop offset="0.651" stop-color="#3856a5"/><stop offset="0.674" stop-color="#304b9c"/><stop offset="0.698" stop-color="#2c4696"/><stop offset="0.721" stop-color="#2a4394"/><stop offset="0.744" stop-color="#284191"/><stop offset="1.000" stop-color="#284191"/></linearGradient><linearGradient id="g2_22" gradientUnits="userSpaceOnUse" x1="-3.6500000000000004" x2="200.7" y1="0" y2="0"><stop offset="0.000" stop-color="#8ba4cc"/><stop offset="0.023" stop-color="#8ba4cc"/><stop offset="0.047" stop-color="#8aa4cc"/><stop offset="0.140" stop-color="#8aa4cc"/><stop offset="0.163" stop-color="#88a3cc"/><stop offset="0.209" stop-color="#88a3cc"/><stop offset="0.233" stop-color="#87a2cc"/><stop offset="0.256" stop-color="#87a2cc"/><stop offset="0.279" stop-color="#86a1cc"/><stop offset="0.302" stop-color="#85a0cc"/><stop offset="0.326" stop-color="#85a0cc"/><stop offset="0.349" stop-color="#829fcd"/><stop offset="0.372" stop-color="#819ecc"/><stop offset="0.395" stop-color="#7f9ccc"/><stop offset="0.419" stop-color="#7c9acc"/><stop offset="0.442" stop-color="#7a98cc"/><stop offset="0.465" stop-color="#7695cb"/><stop offset="0.488" stop-color="#7191ca"/><stop offset="0.512" stop-color="#6e8ec9"/><stop offset="0.535" stop-color="#6889c7"/><stop offset="0.558" stop-color="#6182c4"/><stop offset="0.581" stop-color="#5779bf"/><stop offset="0.605" stop-color="#4d6eb8"/><stop offset="0.628" stop-color="#4363b0"/><stop offset="0.651" stop-color="#3957a6"/><stop offset="0.674" stop-color="#314c9d"/><stop offset="0.698" stop-color="#2c4696"/><stop offset="0.721" stop-color="#2a4394"/><stop offset="0.744" stop-color="#294292"/><stop offset="0.767" stop-color="#284191"/><stop offset="1.000" stop-color="#284191"/></linearGradient><linearGradient id="g2_23" gradientUnits="userSpaceOnUse" x1="-3.6500000000000004" x2="200.7" y1="0" y2="0"><stop offset="0.000" stop-color="#9cafc8"/><stop offset="0.047" stop-color="#9cafc8"/><stop offset="0.070" stop-color="#9caec8"/><stop offset="0.116" stop-color="#9caec8"/><stop offset="0.140" stop-color="#9baec8"/><stop offset="0.186" stop-color="#9baec8"/><stop offset="0.209" stop-color="#9aadc9"/><stop offset="0.233" stop-color="#9aadc9"/><stop offset="0.256" stop-color="#99adc9"/><stop offset="0.279" stop-color="#98acc9"/><stop offset="0.302" stop-color="#96abca"/><stop offset="0.326" stop-color="#95abca"/><stop offset="0.349" stop-color="#94aaca"/><stop offset="0.372" stop-color="#92a9cb"/><stop offset="0.395" stop-color="#8fa7cb"/><stop offset="0.419" stop-color="#8ca5cc"/><stop offset="0.442" stop-color="#8aa4cc"/><stop offset="0.465" stop-color="#85a0cc"/><stop offset="0.488" stop-color="#809dcc"/><stop offset="0.512" stop-color="#7a98cc"/><stop offset="0.535" stop-color="#7493cb"/><stop offset="0.558" stop-color="#6587c7"/><stop offset="0.581" stop-color="#5b7cc2"/><stop offset="0.605" stop-color="#5072bb"/><stop offset="0.628" stop-color="#4565b2"/><stop offset="0.651" stop-color="#3b59a8"/><stop offset="0.674" stop-color="#314c9d"/><stop offset="0.698" stop-color="#2d4798"/><stop offset="0.721" stop-color="#2b4595"/><stop offset="0.744" stop-color="#294292"/><stop offset="0.767" stop-color="#284191"/><stop offset="1.000" stop-color="#284191"/></linearGradient><linearGradient id="g2_24" gradientUnits="userSpaceOnUse" x1="-3.6500000000000004" x2="200.7" y1="0" y2="0"><stop offset="0.000" stop-color="#adb6be"/><stop offset="0.093" stop-color="#adb6be"/><stop offset="0.116" stop-color="#acb5bf"/><stop offset="0.140" stop-color="#acb5bf"/><stop offset="0.163" stop-color="#abb5c0"/><stop offset="0.186" stop-color="#abb5c0"/><stop offset="0.209" stop-color="#aab5c1"/><stop offset="0.233" stop-color="#aab5c0"/><stop offset="0.256" stop-color="#a9b4c1"/><stop offset="0.279" stop-color="#a8b4c2"/><stop offset="0.302" stop-color="#a6b3c3"/><stop offset="0.326" stop-color="#a5b3c4"/><stop offset="0.349" stop-color="#a3b2c5"/><stop offset="0.372" stop-color="#a1b1c6"/><stop offset="0.395" stop-color="#9dafc7"/><stop offset="0.419" stop-color="#9aadc9"/><stop offset="0.442" stop-color="#95abca"/><stop offset="0.465" stop-color="#8fa7cb"/><stop offset="0.488" stop-color="#8aa4cc"/><stop offset="0.512" stop-color="#829fcd"/><stop offset="0.535" stop-color="#7a98cc"/><stop offset="0.558" stop-color="#6a8bc8"/><stop offset="0.581" stop-color="#5e80c3"/><stop offset="0.605" stop-color="#5475bd"/><stop offset="0.628" stop-color="#4768b4"/><stop offset="0.651" stop-color="#3c5baa"/><stop offset="0.674" stop-color="#324e9e"/><stop offset="0.698" stop-color="#2d4798"/><stop offset="0.721" stop-color="#2b4595"/><stop offset="0.744" stop-color="#294292"/><stop offset="0.767" stop-color="#284191"/><stop offset="1.000" stop-color="#284191"/></linearGradient><linearGradient id="g2_25" gradientUnits="userSpaceOnUse" x1="-3.6500000000000004" x2="200.7" y1="0" y2="0"><stop offset="0.000" stop-color="#bdb6b0"/><stop offset="0.070" stop-color="#bdb6b0"/><stop offset="0.093" stop-color="#bcb6b1"/><stop offset="0.116" stop-color="#bcb6b1"/><stop offset="0.140" stop-color="#bbb6b2"/><stop offset="0.163" stop-color="#bbb6b2"/><stop offset="0.186" stop-color="#bab7b3"/><stop offset="0.209" stop-color="#b9b7b4"/><stop offset="0.233" stop-color="#b8b7b5"/><stop offset="0.256" stop-color="#b7b8b6"/><stop offset="0.279" stop-color="#b6b8b7"/><stop offset="0.302" stop-color="#b4b7b9"/><stop offset="0.326" stop-color="#b2b7bb"/><stop offset="0.349" stop-color="#afb6bd"/><stop offset="0.372" stop-color="#acb5bf"/><stop offset="0.395" stop-color="#a9b4c1"/><stop offset="0.419" stop-color="#a4b2c4"/><stop offset="0.442" stop-color="#9eb0c7"/><stop offset="0.465" stop-color="#98acc9"/><stop offset="0.488" stop-color="#8fa7cb"/><stop offset="0.512" stop-color="#8aa4cc"/><stop offset="0.535" stop-color="#7f9ccc"/><stop offset="0.558" stop-color="#6f8fca"/><stop offset="0.581" stop-color="#6283c5"/><stop offset="0.605" stop-color="#5678bf"/><stop offset="0.628" stop-color="#4a6ab6"/><stop offset="0.651" stop-color="#3e5cab"/><stop offset="0.674" stop-color="#334f9f"/><stop offset="0.698" stop-color="#2d4798"/><stop offset="0.721" stop-color="#2b4595"/><stop offset="0.744" stop-color="#294292"/><stop offset="0.767" stop-color="#284191"/><stop offset="1.000" stop-color="#284191"/></linearGradient><linearGradient id="g2_26" gradientUnits="userSpaceOnUse" x1="-3.6500000000000004" x2="200.7" y1="0" y2="0"><stop offset="0.000" stop-color="#c7afa1"/><stop offset="0.047" stop-color="#c7afa1"/><stop offset="0.070" stop-color="#c7b0a2"/><stop offset="0.093" stop-color="#c7b0a2"/><stop offset="0.116" stop-color="#c6b0a3"/><stop offset="0.140" stop-color="#c6b0a3"/><stop offset="0.163" stop-color="#c5b1a4"/><stop offset="0.186" stop-color="#c5b1a6"/><stop offset="0.209" stop-color="#c4b2a7"/><stop offset="0.233" stop-color="#c3b2a8"/><stop offset="0.256" stop-color="#c1b3aa"/><stop offset="0.279" stop-color="#c0b4ab"/><stop offset="0.302" stop-color="#beb5af"/><stop offset="0.326" stop-color="#bcb6b1"/><stop offset="0.349" stop-color="#b9b7b4"/><stop offset="0.372" stop-color="#b4b7b9"/><stop offset="0.395" stop-color="#b0b6bc"/><stop offset="0.419" stop-color="#abb5c0"/><stop offset="0.442" stop-color="#a5b3c4"/><stop offset="0.465" stop-color="#9dafc7"/><stop offset="0.488" stop-color="#95abca"/><stop offset="0.512" stop-color="#8ea7cc"/><stop offset="0.535" stop-color="#849fcc"/><stop offset="0.558" stop-color="#7392cb"/><stop offset="0.581" stop-color="#6587c7"/><stop offset="0.605" stop-color="#587ac0"/><stop offset="0.628" stop-color="#4c6db7"/><stop offset="0.651" stop-color="#3f5dac"/><stop offset="0.674" stop-color="#334f9f"/><stop offset="0.698" stop-color="#2e4999"/><stop offset="0.721" stop-color="#2b4595"/><stop offset="0.744" stop-color="#294292"/><stop offset="0.767" stop-color="#284191"/><stop offset="1.000" stop-color="#284191"/></linearGradient><linearGradient id="g2_27" gradientUnits="userSpaceOnUse" x1="-3.6500000000000004" x2="200.7" y1="0" y2="0"><stop offset="0.000" stop-color="#cea692"/><stop offset="0.023" stop-color="#cea692"/><stop offset="0.047" stop-color="#cea794"/><stop offset="0.070" stop-color="#cea794"/><stop offset="0.093" stop-color="#cda895"/><stop offset="0.116" stop-color="#cda895"/><stop offset="0.140" stop-color="#cda996"/><stop offset="0.163" stop-color="#cca997"/><stop offset="0.186" stop-color="#ccaa99"/><stop offset="0.209" stop-color="#cbab9a"/><stop offset="0.233" stop-color="#cbac9b"/><stop offset="0.256" stop-color="#c9ad9d"/><stop offset="0.279" stop-color="#c8aea0"/><stop offset="0.302" stop-color="#c6b0a3"/><stop offset="0.326" stop-color="#c4b2a7"/><stop offset="0.349" stop-color="#c1b4ab"/><stop offset="0.372" stop-color="#bdb6b0"/><stop offset="0.395" stop-color="#b8b7b5"/><stop offset="0.419" stop-color="#b1b7bb"/><stop offset="0.442" stop-color="#abb5c0"/><stop offset="0.465" stop-color="#a3b2c5"/><stop offset="0.488" stop-color="#9baec8"/><stop offset="0.512" stop-color="#93a9cb"/><stop offset="0.535" stop-color="#87a2cc"/><stop offset="0.558" stop-color="#7594cb"/><stop offset="0.581" stop-color="#6889c7"/><stop offset="0.605" stop-color="#5b7cc1"/><stop offset="0.628" stop-color="#4d6eb8"/><stop offset="0.651" stop-color="#405fad"/><stop offset="0.674" stop-color="#3450a0"/><stop offset="0.698" stop-color="#2e4999"/><stop offset="0.721" stop-color="#2b4595"/><stop offset="0.744" stop-color="#294292"/><stop offset="0.767" stop-color="#284191"/><stop offset="1.000" stop-color="#284191"/></linearGradient><linearGradient id="g2_28" gradientUnits="userSpaceOnUse" x1="-3.6500000000000004" x2="200.7" y1="0" y2="0"><stop offset="0.000" stop-color="#d29c85"/><stop offset="0.047" stop-color="#d29c85"/><stop offset="0.070" stop-color="#d19d86"/><stop offset="0.093" stop-color="#d19d86"/><stop offset="0.116" stop-color="#d19e87"/><stop offset="0.140" stop-color="#d19f88"/><stop offset="0.163" stop-color="#d1a08a"/><stop offset="0.186" stop-color="#d0a18b"/><stop offset="0.209" stop-color="#d0a28c"/><stop offset="0.233" stop-color="#cfa48f"/><stop offset="0.256" stop-color="#cfa691"/><stop offset="0.279" stop-color="#cea794"/><stop offset="0.302" stop-color="#cca997"/><stop offset="0.326" stop-color="#caad9c"/><stop offset="0.349" stop-color="#c7afa1"/><stop offset="0.372" stop-color="#c4b2a7"/><stop offset="0.395" stop-color="#bfb5ae"/><stop offset="0.419" stop-color="#b8b7b5"/><stop offset="0.442" stop-color="#b1b7bb"/><stop offset="0.465" stop-color="#a9b4c1"/><stop offset="0.488" stop-color="#a2b1c5"/><stop offset="0.512" stop-color="#98acc9"/><stop offset="0.535" stop-color="#8aa4cc"/><stop offset="0.558" stop-color="#7896cc"/><stop offset="0.581" stop-color="#6a8bc8"/><stop offset="0.605" stop-color="#5c7ec2"/><stop offset="0.628" stop-color="#4e6fb9"/><stop offset="0.651" stop-color="#4160ae"/><stop offset="0.674" stop-color="#3450a0"/><stop offset="0.698" stop-color="#2e4999"/><stop offset="0.721" stop-color="#2c4696"/><stop offset="0.744" stop-color="#294292"/><stop offset="0.767" stop-color="#284191"/><stop offset="1.000" stop-color="#284191"/></linearGradient><linearGradient id="g2_29" gradientUnits="userSpaceOnUse" x1="-3.6500000000000004" x2="200.7" y1="0" y2="0"><stop offset="0.000" stop-color="#d39177"/><stop offset="0.047" stop-color="#d39177"/><stop offset="0.070" stop-color="#d39278"/><stop offset="0.093" stop-color="#d39379"/><stop offset="0.116" stop-color="#d39379"/><stop offset="0.140" stop-color="#d3947a"/><stop offset="0.163" stop-color="#d3957c"/><stop offset="0.186" stop-color="#d3977e"/><stop offset="0.209" stop-color="#d29880"/><stop offset="0.233" stop-color="#d29a82"/><stop offset="0.256" stop-color="#d29c85"/><stop offset="0.279" stop-color="#d19f88"/><stop offset="0.302" stop-color="#d0a28c"/><stop offset="0.326" stop-color="#cfa691"/><stop offset="0.349" stop-color="#cda996"/><stop offset="0.372" stop-color="#c9ad9d"/><stop offset="0.395" stop-color="#c5b1a6"/><stop offset="0.419" stop-color="#bfb5ae"/><stop offset="0.442" stop-color="#b8b7b5"/><stop offset="0.465" stop-color="#afb6bd"/><stop offset="0.488" stop-color="#a6b3c3"/><stop offset="0.512" stop-color="#9caec8"/><stop offset="0.535" stop-color="#8da6cc"/><stop offset="0.558" stop-color="#7a98cc"/><stop offset="0.581" stop-color="#6b8cc9"/><stop offset="0.605" stop-color="#5e80c3"/><stop offset="0.628" stop-color="#4f70ba"/><stop offset="0.651" stop-color="#4261af"/><stop offset="0.674" stop-color="#3552a1"/><stop offset="0.698" stop-color="#2e4999"/><stop offset="0.721" stop-color="#2c4696"/><stop offset="0.744" stop-color="#294292"/><stop offset="0.767" stop-color="#284191"/><stop offset="1.000" stop-color="#284191"/></linearGradient><linearGradient id="g2_30" gradientUnits="userSpaceOnUse" x1="-3.6500000000000004" x2="200.7" y1="0" y2="0"><stop offset="0.000" stop-color="#d2866b"/><stop offset="0.047" stop-color="#d2866b"/><stop offset="0.070" stop-color="#d2876c"/><stop offset="0.093" stop-color="#d2886e"/><stop offset="0.116" stop-color="#d38a6f"/><stop offset="0.140" stop-color="#d38b70"/><stop offset="0.163" stop-color="#d38c72"/><stop offset="0.186" stop-color="#d38d73"/><stop offset="0.209" stop-color="#d39075"/><stop offset="0.233" stop-color="#d39278"/><stop offset="0.256" stop-color="#d3947a"/><stop offset="0.279" stop-color="#d3977e"/><stop offset="0.302" stop-color="#d29b83"/><stop offset="0.326" stop-color="#d19f88"/><stop offset="0.349" stop-color="#cfa48f"/><stop offset="0.372" stop-color="#cda996"/><stop offset="0.395" stop-color="#c9ae9f"/><stop offset="0.419" stop-color="#c4b2a7"/><stop offset="0.442" stop-color="#bdb6b0"/><stop offset="0.465" stop-color="#b4b7b9"/><stop offset="0.488" stop-color="#aab5c1"/><stop offset="0.512" stop-color="#9fb0c6"/><stop offset="0.535" stop-color="#8fa7cb"/><stop offset="0.558" stop-color="#7c9acc"/><stop offset="0.581" stop-color="#6e8ec9"/><stop offset="0.605" stop-color="#5f81c4"/><stop offset="0.628" stop-color="#5072bb"/><stop offset="0.651" stop-color="#4261af"/><stop offset="0.674" stop-color="#3552a2"/><stop offset="0.698" stop-color="#2e4899"/><stop offset="0.721" stop-color="#2c4696"/><stop offset="0.744" stop-color="#294292"/><stop offset="0.767" stop-color="#284191"/><stop offset="1.000" stop-color="#284191"/></linearGradient><linearGradient id="g2_31" gradientUnits="userSpaceOnUse" x1="-3.6500000000000004" x2="200.7" y1="0" y2="0"><stop offset="0.000" stop-color="#d07a60"/><stop offset="0.023" stop-color="#d07a60"/><stop offset="0.047" stop-color="#d07b61"/><stop offset="0.070" stop-color="#d07b61"/><stop offset="0.093" stop-color="#d07d62"/><stop offset="0.116" stop-color="#d17e64"/><stop offset="0.140" stop-color="#d17f65"/><stop offset="0.163" stop-color="#d28267"/><stop offset="0.186" stop-color="#d28369"/><stop offset="0.209" stop-color="#d2866b"/><stop offset="0.233" stop-color="#d2886e"/><stop offset="0.256" stop-color="#d38c72"/><stop offset="0.279" stop-color="#d39075"/><stop offset="0.302" stop-color="#d3947a"/><stop offset="0.326" stop-color="#d29880"/><stop offset="0.349" stop-color="#d19d86"/><stop offset="0.372" stop-color="#cfa48f"/><stop offset="0.395" stop-color="#ccaa97"/><stop offset="0.419" stop-color="#c8aea0"/><stop offset="0.442" stop-color="#c2b3a9"/><stop offset="0.465" stop-color="#b9b7b4"/><stop offset="0.488" stop-color="#aeb6be"/><stop offset="0.512" stop-color="#a2b1c5"/><stop offset="0.535" stop-color="#92a9cb"/><stop offset="0.558" stop-color="#7e9bcc"/><stop offset="0.581" stop-color="#6f8fca"/><stop offset="0.605" stop-color="#6182c4"/><stop offset="0.628" stop-color="#5173bc"/><stop offset="0.651" stop-color="#4363b0"/><stop offset="0.674" stop-color="#3552a2"/><stop offset="0.698" stop-color="#2f4a9a"/><stop offset="0.721" stop-color="#2c4696"/><stop offset="0.744" stop-color="#294292"/><stop offset="0.767" stop-color="#284191"/><stop offset="1.000" stop-color="#284191"/></linearGradient><linearGradient id="g2_32" gradientUnits="userSpaceOnUse" x1="-3.6500000000000004" x2="200.7" y1="0" y2="0"><stop offset="0.000" stop-color="#cc6d55"/><stop offset="0.023" stop-color="#cc6d55"/><stop offset="0.047" stop-color="#cc6e56"/><stop offset="0.070" stop-color="#cd7057"/><stop offset="0.093" stop-color="#cd7159"/><stop offset="0.116" stop-color="#ce735a"/><stop offset="0.140" stop-color="#ce745b"/><stop offset="0.163" stop-color="#cf765c"/><stop offset="0.186" stop-color="#cf785f"/><stop offset="0.209" stop-color="#d07b61"/><stop offset="0.233" stop-color="#d17e64"/><stop offset="0.256" stop-color="#d28267"/><stop offset="0.279" stop-color="#d2866b"/><stop offset="0.302" stop-color="#d38b70"/><stop offset="0.326" stop-color="#d39075"/><stop offset="0.349" stop-color="#d3967d"/><stop offset="0.372" stop-color="#d19d86"/><stop offset="0.395" stop-color="#cfa48f"/><stop offset="0.419" stop-color="#ccaa99"/><stop offset="0.442" stop-color="#c6b0a3"/><stop offset="0.465" stop-color="#beb5af"/><stop offset="0.488" stop-color="#b2b7ba"/><stop offset="0.512" stop-color="#a5b3c4"/><stop offset="0.535" stop-color="#94aaca"/><stop offset="0.558" stop-color="#809dcc"/><stop offset="0.581" stop-color="#7090ca"/><stop offset="0.605" stop-color="#6283c5"/><stop offset="0.628" stop-color="#5374bd"/><stop offset="0.651" stop-color="#4464b1"/><stop offset="0.674" stop-color="#3552a2"/><stop offset="0.698" stop-color="#2f4a9a"/><stop offset="0.721" stop-color="#2c4696"/><stop offset="0.744" stop-color="#294292"/><stop offset="0.767" stop-color="#284191"/><stop offset="1.000" stop-color="#284191"/></linearGradient><linearGradient id="g2_33" gradientUnits="userSpaceOnUse" x1="-3.6500000000000004" x2="200.7" y1="0" y2="0"><stop offset="0.000" stop-color="#c9654f"/><stop offset="0.023" stop-color="#c9654f"/><stop offset="0.047" stop-color="#ca6750"/><stop offset="0.070" stop-color="#ca6851"/><stop offset="0.093" stop-color="#ca6851"/><stop offset="0.116" stop-color="#cb6a52"/><stop offset="0.140" stop-color="#cc6d55"/><stop offset="0.163" stop-color="#cc6e56"/><stop offset="0.186" stop-color="#cd7159"/><stop offset="0.209" stop-color="#ce745b"/><stop offset="0.233" stop-color="#cf775d"/><stop offset="0.256" stop-color="#d07b61"/><stop offset="0.279" stop-color="#d17f65"/><stop offset="0.302" stop-color="#d2856a"/><stop offset="0.326" stop-color="#d38b70"/><stop offset="0.349" stop-color="#d39278"/><stop offset="0.372" stop-color="#d29981"/><stop offset="0.395" stop-color="#d1a08a"/><stop offset="0.419" stop-color="#cea794"/><stop offset="0.442" stop-color="#c9ae9f"/><stop offset="0.465" stop-color="#c0b4ad"/><stop offset="0.488" stop-color="#b4b7b9"/><stop offset="0.512" stop-color="#a7b3c3"/><stop offset="0.535" stop-color="#95abca"/><stop offset="0.558" stop-color="#819ecd"/><stop offset="0.581" stop-color="#7191ca"/><stop offset="0.605" stop-color="#6384c5"/><stop offset="0.628" stop-color="#5374bd"/><stop offset="0.651" stop-color="#4464b1"/><stop offset="0.674" stop-color="#3653a3"/><stop offset="0.698" stop-color="#2f4a9a"/><stop offset="0.721" stop-color="#2c4696"/><stop offset="0.744" stop-color="#294292"/><stop offset="0.767" stop-color="#284191"/><stop offset="1.000" stop-color="#284191"/></linearGradient><linearGradient id="g2_34" gradientUnits="userSpaceOnUse" x1="-3.6500000000000004" x2="200.7" y1="0" y2="0"><stop offset="0.000" stop-color="#c7604b"/><stop offset="0.047" stop-color="#c7604b"/><stop offset="0.070" stop-color="#c8624c"/><stop offset="0.093" stop-color="#c8634e"/><stop offset="0.116" stop-color="#c9654f"/><stop offset="0.140" stop-color="#c96750"/><stop offset="0.163" stop-color="#cb6a52"/><stop offset="0.186" stop-color="#cb6b54"/><stop offset="0.209" stop-color="#cc6e56"/><stop offset="0.233" stop-color="#cd7158"/><stop offset="0.256" stop-color="#cf775d"/><stop offset="0.279" stop-color="#d07b61"/><stop offset="0.302" stop-color="#d18166"/><stop offset="0.326" stop-color="#d2876c"/><stop offset="0.349" stop-color="#d38e74"/><stop offset="0.372" stop-color="#d3967d"/><stop offset="0.395" stop-color="#d19d86"/><stop offset="0.419" stop-color="#cfa691"/><stop offset="0.442" stop-color="#caac9c"/><stop offset="0.465" stop-color="#c1b3aa"/><stop offset="0.488" stop-color="#b5b8b8"/><stop offset="0.512" stop-color="#a8b4c2"/><stop offset="0.535" stop-color="#96abca"/><stop offset="0.558" stop-color="#819ecd"/><stop offset="0.581" stop-color="#7392cb"/><stop offset="0.605" stop-color="#6384c6"/><stop offset="0.628" stop-color="#5475bd"/><stop offset="0.651" stop-color="#4464b1"/><stop offset="0.674" stop-color="#3653a3"/><stop offset="0.698" stop-color="#2f4a9a"/><stop offset="0.721" stop-color="#2c4696"/><stop offset="0.744" stop-color="#294292"/><stop offset="0.767" stop-color="#284191"/><stop offset="1.000" stop-color="#284191"/></linearGradient><linearGradient id="g2_35" gradientUnits="userSpaceOnUse" x1="-3.6500000000000004" x2="200.7" y1="0" y2="0"><stop offset="0.000" stop-color="#c45a47"/><stop offset="0.023" stop-color="#c45a47"/><stop offset="0.047" stop-color="#c55b48"/><stop offset="0.070" stop-color="#c65d49"/><stop offset="0.093" stop-color="#c65f4a"/><stop offset="0.116" stop-color="#c65f4a"/><stop offset="0.140" stop-color="#c8624c"/><stop offset="0.163" stop-color="#c8634e"/><stop offset="0.186" stop-color="#ca6750"/><stop offset="0.209" stop-color="#cb6a52"/><stop offset="0.233" stop-color="#cc6d55"/><stop offset="0.256" stop-color="#cd7158"/><stop offset="0.279" stop-color="#cf775d"/><stop offset="0.302" stop-color="#d07d62"/><stop offset="0.326" stop-color="#d28369"/><stop offset="0.349" stop-color="#d38b70"/><stop offset="0.372" stop-color="#d39379"/><stop offset="0.395" stop-color="#d29a82"/><stop offset="0.419" stop-color="#cfa48f"/><stop offset="0.442" stop-color="#cbab9a"/><stop offset="0.465" stop-color="#c3b2a8"/><stop offset="0.488" stop-color="#b7b8b6"/><stop offset="0.512" stop-color="#a9b4c1"/><stop offset="0.535" stop-color="#98acc9"/><stop offset="0.558" stop-color="#829fcd"/><stop offset="0.581" stop-color="#7392cb"/><stop offset="0.605" stop-color="#6384c6"/><stop offset="0.628" stop-color="#5475bd"/><stop offset="0.651" stop-color="#4464b1"/><stop offset="0.674" stop-color="#3653a3"/><stop offset="0.698" stop-color="#2f4a9a"/><stop offset="0.721" stop-color="#2c4696"/><stop offset="0.744" stop-color="#294292"/><stop offset="0.767" stop-color="#284191"/><stop offset="1.000" stop-color="#284191"/></linearGradient><linearGradient id="g2_36" gradientUnits="userSpaceOnUse" x1="-3.6500000000000004" x2="200.7" y1="0" y2="0"><stop offset="0.000" stop-color="#c25543"/><stop offset="0.047" stop-color="#c25543"/><stop offset="0.070" stop-color="#c35644"/><stop offset="0.093" stop-color="#c35845"/><stop offset="0.116" stop-color="#c45a47"/><stop offset="0.140" stop-color="#c65d49"/><stop offset="0.163" stop-color="#c65f4a"/><stop offset="0.186" stop-color="#c8624c"/><stop offset="0.209" stop-color="#c9654f"/><stop offset="0.233" stop-color="#ca6851"/><stop offset="0.256" stop-color="#cc6d55"/><stop offset="0.279" stop-color="#ce735a"/><stop offset="0.302" stop-color="#cf785f"/><stop offset="0.326" stop-color="#d17f65"/><stop offset="0.349" stop-color="#d2876c"/><stop offset="0.372" stop-color="#d39075"/><stop offset="0.395" stop-color="#d29880"/><stop offset="0.419" stop-color="#d0a18b"/><stop offset="0.442" stop-color="#cca997"/><stop offset="0.465" stop-color="#c5b1a6"/><stop offset="0.488" stop-color="#b8b7b5"/><stop offset="0.512" stop-color="#aab5c1"/><stop offset="0.535" stop-color="#98acc9"/><stop offset="0.558" stop-color="#849fcc"/><stop offset="0.581" stop-color="#7493cb"/><stop offset="0.605" stop-color="#6486c6"/><stop offset="0.628" stop-color="#5475bd"/><stop offset="0.651" stop-color="#4565b2"/><stop offset="0.674" stop-color="#3653a3"/><stop offset="0.698" stop-color="#2f4a9a"/><stop offset="0.721" stop-color="#2c4696"/><stop offset="0.744" stop-color="#294292"/><stop offset="0.767" stop-color="#284191"/><stop offset="1.000" stop-color="#284191"/></linearGradient><linearGradient id="g2_37" gradientUnits="userSpaceOnUse" x1="-3.6500000000000004" x2="200.7" y1="0" y2="0"><stop offset="0.000" stop-color="#c05141"/><stop offset="0.047" stop-color="#c05141"/><stop offset="0.070" stop-color="#c15342"/><stop offset="0.093" stop-color="#c25543"/><stop offset="0.116" stop-color="#c35644"/><stop offset="0.140" stop-color="#c45a47"/><stop offset="0.163" stop-color="#c55b48"/><stop offset="0.186" stop-color="#c65f4a"/><stop offset="0.209" stop-color="#c8624c"/><stop offset="0.233" stop-color="#c9654f"/><stop offset="0.256" stop-color="#cb6b54"/><stop offset="0.279" stop-color="#cd7057"/><stop offset="0.302" stop-color="#cf765c"/><stop offset="0.326" stop-color="#d07d62"/><stop offset="0.349" stop-color="#d2856a"/><stop offset="0.372" stop-color="#d38e74"/><stop offset="0.395" stop-color="#d3967d"/><stop offset="0.419" stop-color="#d1a08a"/><stop offset="0.442" stop-color="#cda996"/><stop offset="0.465" stop-color="#c5b1a4"/><stop offset="0.488" stop-color="#b9b7b4"/><stop offset="0.512" stop-color="#aab5c1"/><stop offset="0.535" stop-color="#99adc9"/><stop offset="0.558" stop-color="#849fcc"/><stop offset="0.581" stop-color="#7493cb"/><stop offset="0.605" stop-color="#6486c6"/><stop offset="0.628" stop-color="#5475bd"/><stop offset="0.651" stop-color="#4565b2"/><stop offset="0.674" stop-color="#3653a3"/><stop offset="0.698" stop-color="#2f4a9a"/><stop offset="0.721" stop-color="#2c4696"/><stop offset="0.744" stop-color="#294292"/><stop offset="0.767" stop-color="#284191"/><stop offset="1.000" stop-color="#284191"/></linearGradient><linearGradient id="g2_38" gradientUnits="userSpaceOnUse" x1="-3.6500000000000004" x2="200.7" y1="0" y2="0"><stop offset="0.000" stop-color="#be4c3e"/><stop offset="0.023" stop-color="#be4c3e"/><stop offset="0.047" stop-color="#bf4d3f"/><stop offset="0.070" stop-color="#bf4f40"/><stop offset="0.093" stop-color="#c05141"/><stop offset="0.116" stop-color="#c15342"/><stop offset="0.140" stop-color="#c35644"/><stop offset="0.163" stop-color="#c35845"/><stop offset="0.186" stop-color="#c55b48"/><stop offset="0.209" stop-color="#c65f4a"/><stop offset="0.233" stop-color="#c8624c"/><stop offset="0.256" stop-color="#ca6851"/><stop offset="0.279" stop-color="#cc6d55"/><stop offset="0.302" stop-color="#ce735a"/><stop offset="0.326" stop-color="#d07a60"/><stop offset="0.349" stop-color="#d18267"/><stop offset="0.372" stop-color="#d38c72"/><stop offset="0.395" stop-color="#d3957c"/><stop offset="0.419" stop-color="#d19e87"/><stop offset="0.442" stop-color="#cea794"/><stop offset="0.465" stop-color="#c6b0a3"/><stop offset="0.488" stop-color="#bab7b3"/><stop offset="0.512" stop-color="#abb5c0"/><stop offset="0.535" stop-color="#99adc9"/><stop offset="0.558" stop-color="#849fcd"/><stop offset="0.581" stop-color="#7493cb"/><stop offset="0.605" stop-color="#6486c6"/><stop offset="0.628" stop-color="#5576be"/><stop offset="0.651" stop-color="#4565b2"/><stop offset="0.674" stop-color="#3653a3"/><stop offset="0.698" stop-color="#2f4a9a"/><stop offset="0.721" stop-color="#2c4696"/><stop offset="0.744" stop-color="#294292"/><stop offset="0.767" stop-color="#284191"/><stop offset="1.000" stop-color="#284191"/></linearGradient><linearGradient id="g2_39" gradientUnits="userSpaceOnUse" x1="-3.6500000000000004" x2="200.7" y1="0" y2="0"><stop offset="0.000" stop-color="#bc483b"/><stop offset="0.023" stop-color="#bc483b"/><stop offset="0.047" stop-color="#bd4a3c"/><stop offset="0.070" stop-color="#be4c3e"/><stop offset="0.093" stop-color="#bf4d3f"/><stop offset="0.116" stop-color="#bf4f40"/><stop offset="0.140" stop-color="#c15342"/><stop offset="0.163" stop-color="#c25543"/><stop offset="0.186" stop-color="#c35845"/><stop offset="0.209" stop-color="#c55b48"/><stop offset="0.233" stop-color="#c65f4a"/><stop offset="0.256" stop-color="#c9654f"/><stop offset="0.279" stop-color="#cb6a52"/><stop offset="0.302" stop-color="#cd7057"/><stop offset="0.326" stop-color="#cf775d"/><stop offset="0.349" stop-color="#d17f65"/><stop offset="0.372" stop-color="#d28a6f"/><stop offset="0.395" stop-color="#d39379"/><stop offset="0.419" stop-color="#d19d86"/><stop offset="0.442" stop-color="#cea692"/><stop offset="0.465" stop-color="#c7b0a2"/><stop offset="0.488" stop-color="#bbb6b2"/><stop offset="0.512" stop-color="#acb5bf"/><stop offset="0.535" stop-color="#9aadc9"/><stop offset="0.558" stop-color="#85a0cc"/><stop offset="0.581" stop-color="#7594cb"/><stop offset="0.605" stop-color="#6486c6"/><stop offset="0.628" stop-color="#5576be"/><stop offset="0.651" stop-color="#4565b2"/><stop offset="0.674" stop-color="#3653a3"/><stop offset="0.698" stop-color="#2f4a9a"/><stop offset="0.721" stop-color="#2c4696"/><stop offset="0.744" stop-color="#294292"/><stop offset="0.767" stop-color="#284191"/><stop offset="1.000" stop-color="#284191"/></linearGradient><linearGradient id="g2_40" gradientUnits="userSpaceOnUse" x1="-3.6500000000000004" x2="200.7" y1="0" y2="0"><stop offset="0.000" stop-color="#ba4439"/><stop offset="0.023" stop-color="#ba4439"/><stop offset="0.047" stop-color="#bb463a"/><stop offset="0.070" stop-color="#bc483b"/><stop offset="0.093" stop-color="#bd4a3c"/><stop offset="0.116" stop-color="#be4c3e"/><stop offset="0.140" stop-color="#bf4f40"/><stop offset="0.163" stop-color="#c05141"/><stop offset="0.186" stop-color="#c25543"/><stop offset="0.209" stop-color="#c35845"/><stop offset="0.233" stop-color="#c55b48"/><stop offset="0.256" stop-color="#c8624c"/><stop offset="0.279" stop-color="#c96750"/><stop offset="0.302" stop-color="#cc6e56"/><stop offset="0.326" stop-color="#ce745b"/><stop offset="0.349" stop-color="#d17e64"/><stop offset="0.372" stop-color="#d2886e"/><stop offset="0.395" stop-color="#d39278"/><stop offset="0.419" stop-color="#d29c85"/><stop offset="0.442" stop-color="#cfa691"/><stop offset="0.465" stop-color="#c7afa1"/><stop offset="0.488" stop-color="#bbb6b2"/><stop offset="0.512" stop-color="#acb5bf"/><stop offset="0.535" stop-color="#9aadc9"/><stop offset="0.558" stop-color="#85a0cc"/><stop offset="0.581" stop-color="#7594cb"/><stop offset="0.605" stop-color="#6587c7"/><stop offset="0.628" stop-color="#5576be"/><stop offset="0.651" stop-color="#4565b2"/><stop offset="0.674" stop-color="#3653a3"/><stop offset="0.698" stop-color="#2f4a9a"/><stop offset="0.721" stop-color="#2c4696"/><stop offset="0.744" stop-color="#294292"/><stop offset="0.767" stop-color="#284191"/><stop offset="1.000" stop-color="#284191"/></linearGradient><linearGradient id="g2_41" gradientUnits="userSpaceOnUse" x1="-3.6500000000000004" x2="200.7" y1="0" y2="0"><stop offset="0.000" stop-color="#b94238"/><stop offset="0.047" stop-color="#b94238"/><stop offset="0.070" stop-color="#ba4439"/><stop offset="0.093" stop-color="#bb463a"/><stop offset="0.116" stop-color="#bc483b"/><stop offset="0.140" stop-color="#be4c3e"/><stop offset="0.163" stop-color="#bf4f40"/><stop offset="0.186" stop-color="#c05141"/><stop offset="0.209" stop-color="#c25543"/><stop offset="0.233" stop-color="#c45a47"/><stop offset="0.256" stop-color="#c65f4a"/><stop offset="0.279" stop-color="#c9654f"/><stop offset="0.302" stop-color="#cb6b54"/><stop offset="0.326" stop-color="#ce735a"/><stop offset="0.349" stop-color="#d07b61"/><stop offset="0.372" stop-color="#d2866b"/><stop offset="0.395" stop-color="#d39075"/><stop offset="0.419" stop-color="#d29a82"/><stop offset="0.442" stop-color="#cfa590"/><stop offset="0.465" stop-color="#c8aea0"/><stop offset="0.488" stop-color="#bcb6b1"/><stop offset="0.512" stop-color="#adb6be"/><stop offset="0.535" stop-color="#9aadc9"/><stop offset="0.558" stop-color="#85a0cc"/><stop offset="0.581" stop-color="#7594cb"/><stop offset="0.605" stop-color="#6587c7"/><stop offset="0.628" stop-color="#5576be"/><stop offset="0.651" stop-color="#4565b2"/><stop offset="0.674" stop-color="#3653a3"/><stop offset="0.698" stop-color="#2f4a9a"/><stop offset="0.721" stop-color="#2c4696"/><stop offset="0.744" stop-color="#294292"/><stop offset="0.767" stop-color="#284191"/><stop offset="1.000" stop-color="#284191"/></linearGradient><linearGradient id="g2_42" gradientUnits="userSpaceOnUse" x1="-3.6500000000000004" x2="200.7" y1="0" y2="0"><stop offset="0.000" stop-color="#b73e36"/><stop offset="0.023" stop-color="#b73e36"/><stop offset="0.047" stop-color="#b84037"/><stop offset="0.070" stop-color="#b94238"/><stop offset="0.093" stop-color="#ba4439"/><stop offset="0.116" stop-color="#bb463a"/><stop offset="0.140" stop-color="#bc483b"/><stop offset="0.163" stop-color="#be4c3e"/><stop offset="0.186" stop-color="#bf4f40"/><stop offset="0.209" stop-color="#c15342"/><stop offset="0.233" stop-color="#c35644"/><stop offset="0.256" stop-color="#c65d49"/><stop offset="0.279" stop-color="#c8624c"/><stop offset="0.302" stop-color="#ca6851"/><stop offset="0.326" stop-color="#cd7057"/><stop offset="0.349" stop-color="#d07a60"/><stop offset="0.372" stop-color="#d2856a"/><stop offset="0.395" stop-color="#d38e74"/><stop offset="0.419" stop-color="#d29981"/><stop offset="0.442" stop-color="#cfa48f"/><stop offset="0.465" stop-color="#c9ae9f"/><stop offset="0.488" stop-color="#bdb6b0"/><stop offset="0.512" stop-color="#adb6be"/><stop offset="0.535" stop-color="#9baec8"/><stop offset="0.558" stop-color="#86a1cc"/><stop offset="0.581" stop-color="#7594cb"/><stop offset="0.605" stop-color="#6587c7"/><stop offset="0.628" stop-color="#5576be"/><stop offset="0.651" stop-color="#4565b2"/><stop offset="0.674" stop-color="#3653a3"/><stop offset="0.698" stop-color="#2f4a9a"/><stop offset="0.721" stop-color="#2c4696"/><stop offset="0.744" stop-color="#294292"/><stop offset="0.767" stop-color="#284191"/><stop offset="1.000" stop-color="#284191"/></linearGradient><linearGradient id="g2_43" gradientUnits="userSpaceOnUse" x1="-3.6500000000000004" x2="200.7" y1="0" y2="0"><stop offset="0.000" stop-color="#b53a34"/><stop offset="0.023" stop-color="#b53a34"/><stop offset="0.047" stop-color="#b63c35"/><stop offset="0.070" stop-color="#b73e36"/><stop offset="0.093" stop-color="#b84037"/><stop offset="0.116" stop-color="#b94238"/><stop offset="0.140" stop-color="#bb463a"/><stop offset="0.163" stop-color="#bc483b"/><stop offset="0.186" stop-color="#be4c3e"/><stop offset="0.209" stop-color="#bf4f40"/><stop offset="0.233" stop-color="#c15342"/><stop offset="0.256" stop-color="#c45a47"/><stop offset="0.279" stop-color="#c65f4a"/><stop offset="0.302" stop-color="#ca6750"/><stop offset="0.326" stop-color="#cc6e56"/><stop offset="0.349" stop-color="#cf775d"/><stop offset="0.372" stop-color="#d18267"/><stop offset="0.395" stop-color="#d38d73"/><stop offset="0.419" stop-color="#d29880"/><stop offset="0.442" stop-color="#d0a38d"/><stop offset="0.465" stop-color="#c9ad9d"/><stop offset="0.488" stop-color="#bdb6b0"/><stop offset="0.512" stop-color="#aeb6be"/><stop offset="0.535" stop-color="#9baec8"/><stop offset="0.558" stop-color="#86a1cc"/><stop offset="0.581" stop-color="#7695cb"/><stop offset="0.605" stop-color="#6587c7"/><stop offset="0.628" stop-color="#5576be"/><stop offset="0.651" stop-color="#4565b2"/><stop offset="0.674" stop-color="#3653a3"/><stop offset="0.698" stop-color="#2f4a9a"/><stop offset="0.721" stop-color="#2c4696"/><stop offset="0.744" stop-color="#294292"/><stop offset="0.767" stop-color="#284191"/><stop offset="1.000" stop-color="#284191"/></linearGradient><linearGradient id="g2_44" gradientUnits="userSpaceOnUse" x1="-3.6500000000000004" x2="200.7" y1="0" y2="0"><stop offset="0.000" stop-color="#b43833"/><stop offset="0.023" stop-color="#b43833"/><stop offset="0.047" stop-color="#b53a34"/><stop offset="0.070" stop-color="#b63c35"/><stop offset="0.093" stop-color="#b73e36"/><stop offset="0.116" stop-color="#b84037"/><stop offset="0.140" stop-color="#ba4439"/><stop offset="0.163" stop-color="#bb463a"/><stop offset="0.186" stop-color="#bd4a3c"/><stop offset="0.209" stop-color="#bf4d3f"/><stop offset="0.233" stop-color="#c05141"/><stop offset="0.256" stop-color="#c35845"/><stop offset="0.279" stop-color="#c65d49"/><stop offset="0.302" stop-color="#c9654f"/><stop offset="0.326" stop-color="#cc6d55"/><stop offset="0.349" stop-color="#cf765c"/><stop offset="0.372" stop-color="#d18166"/><stop offset="0.395" stop-color="#d38c72"/><stop offset="0.419" stop-color="#d3977e"/><stop offset="0.442" stop-color="#d0a28c"/><stop offset="0.465" stop-color="#c9ad9d"/><stop offset="0.488" stop-color="#beb5af"/><stop offset="0.512" stop-color="#aeb6be"/><stop offset="0.535" stop-color="#9baec8"/><stop offset="0.558" stop-color="#86a1cc"/><stop offset="0.581" stop-color="#7695cb"/><stop offset="0.605" stop-color="#6587c7"/><stop offset="0.628" stop-color="#5576be"/><stop offset="0.651" stop-color="#4565b2"/><stop offset="0.674" stop-color="#3653a3"/><stop offset="0.698" stop-color="#2f4a9a"/><stop offset="0.721" stop-color="#2c4696"/><stop offset="0.744" stop-color="#294292"/><stop offset="0.767" stop-color="#284191"/><stop offset="1.000" stop-color="#284191"/></linearGradient><linearGradient id="g2_45" gradientUnits="userSpaceOnUse" x1="-3.6500000000000004" x2="200.7" y1="0" y2="0"><stop offset="0.000" stop-color="#b33632"/><stop offset="0.023" stop-color="#b33632"/><stop offset="0.047" stop-color="#b43833"/><stop offset="0.070" stop-color="#b53a34"/><stop offset="0.093" stop-color="#b63c35"/><stop offset="0.116" stop-color="#b73e36"/><stop offset="0.140" stop-color="#b94238"/><stop offset="0.163" stop-color="#ba4439"/><stop offset="0.186" stop-color="#bc483b"/><stop offset="0.209" stop-color="#be4c3e"/><stop offset="0.233" stop-color="#bf4f40"/><stop offset="0.256" stop-color="#c35644"/><stop offset="0.279" stop-color="#c55b48"/><stop offset="0.302" stop-color="#c8634e"/><stop offset="0.326" stop-color="#cb6b54"/><stop offset="0.349" stop-color="#ce745b"/><stop offset="0.372" stop-color="#d18166"/><stop offset="0.395" stop-color="#d38b70"/><stop offset="0.419" stop-color="#d3977e"/><stop offset="0.442" stop-color="#d0a18b"/><stop offset="0.465" stop-color="#caac9c"/><stop offset="0.488" stop-color="#beb5af"/><stop offset="0.512" stop-color="#aeb6be"/><stop offset="0.535" stop-color="#9baec8"/><stop offset="0.558" stop-color="#86a1cc"/><stop offset="0.581" stop-color="#7695cb"/><stop offset="0.605" stop-color="#6788c7"/><stop offset="0.628" stop-color="#5678bf"/><stop offset="0.651" stop-color="#4666b3"/><stop offset="0.674" stop-color="#3653a3"/><stop offset="0.698" stop-color="#2f4a9a"/><stop offset="0.721" stop-color="#2c4696"/><stop offset="0.744" stop-color="#294292"/><stop offset="0.767" stop-color="#284191"/><stop offset="1.000" stop-color="#284191"/></linearGradient><linearGradient id="g2_46" gradientUnits="userSpaceOnUse" x1="-3.6500000000000004" x2="200.7" y1="0" y2="0"><stop offset="0.000" stop-color="#b23431"/><stop offset="0.023" stop-color="#b23431"/><stop offset="0.047" stop-color="#b33632"/><stop offset="0.070" stop-color="#b43833"/><stop offset="0.093" stop-color="#b53a34"/><stop offset="0.116" stop-color="#b63c35"/><stop offset="0.140" stop-color="#b84037"/><stop offset="0.163" stop-color="#b94238"/><stop offset="0.186" stop-color="#bb463a"/><stop offset="0.209" stop-color="#bd4a3c"/><stop offset="0.233" stop-color="#bf4d3f"/><stop offset="0.256" stop-color="#c25543"/><stop offset="0.279" stop-color="#c45a47"/><stop offset="0.302" stop-color="#c8624c"/><stop offset="0.326" stop-color="#cb6a52"/><stop offset="0.349" stop-color="#ce735a"/><stop offset="0.372" stop-color="#d17f65"/><stop offset="0.395" stop-color="#d28a6f"/><stop offset="0.419" stop-color="#d3967d"/><stop offset="0.442" stop-color="#d0a18b"/><stop offset="0.465" stop-color="#caac9c"/><stop offset="0.488" stop-color="#bfb5ae"/><stop offset="0.512" stop-color="#afb6bd"/><stop offset="0.535" stop-color="#9caec8"/><stop offset="0.558" stop-color="#86a1cc"/><stop offset="0.581" stop-color="#7695cb"/><stop offset="0.605" stop-color="#6788c7"/><stop offset="0.628" stop-color="#5678bf"/><stop offset="0.651" stop-color="#4666b3"/><stop offset="0.674" stop-color="#3754a4"/><stop offset="0.698" stop-color="#2f4a9a"/><stop offset="0.721" stop-color="#2c4696"/><stop offset="0.744" stop-color="#294292"/><stop offset="0.767" stop-color="#284191"/><stop offset="1.000" stop-color="#284191"/></linearGradient><linearGradient id="g2_47" gradientUnits="userSpaceOnUse" x1="-3.6500000000000004" x2="200.7" y1="0" y2="0"><stop offset="0.000" stop-color="#b13230"/><stop offset="0.023" stop-color="#b13230"/><stop offset="0.047" stop-color="#b23431"/><stop offset="0.070" stop-color="#b33632"/><stop offset="0.093" stop-color="#b43833"/><stop offset="0.116" stop-color="#b53a34"/><stop offset="0.140" stop-color="#b73e36"/><stop offset="0.163" stop-color="#b84037"/><stop offset="0.186" stop-color="#ba4439"/><stop offset="0.209" stop-color="#bc483b"/><stop offset="0.233" stop-color="#be4c3e"/><stop offset="0.256" stop-color="#c15342"/><stop offset="0.279" stop-color="#c35845"/><stop offset="0.302" stop-color="#c7604b"/><stop offset="0.326" stop-color="#ca6851"/><stop offset="0.349" stop-color="#cd7158"/><stop offset="0.372" stop-color="#d17e64"/><stop offset="0.395" stop-color="#d2886e"/><stop offset="0.419" stop-color="#d3957c"/><stop offset="0.442" stop-color="#d1a08a"/><stop offset="0.465" stop-color="#cbac9b"/><stop offset="0.488" stop-color="#bfb5ae"/><stop offset="0.512" stop-color="#afb6bd"/><stop offset="0.535" stop-color="#9caec8"/><stop offset="0.558" stop-color="#86a1cc"/><stop offset="0.581" stop-color="#7695cb"/><stop offset="0.605" stop-color="#6788c7"/><stop offset="0.628" stop-color="#5678bf"/><stop offset="0.651" stop-color="#4666b3"/><stop offset="0.674" stop-color="#3754a4"/><stop offset="0.698" stop-color="#2f4a9a"/><stop offset="0.721" stop-color="#2c4696"/><stop offset="0.744" stop-color="#294292"/><stop offset="0.767" stop-color="#284191"/><stop offset="1.000" stop-color="#284191"/></linearGradient><linearGradient id="g2_48" gradientUnits="userSpaceOnUse" x1="-3.6500000000000004" x2="200.7" y1="0" y2="0"><stop offset="0.000" stop-color="#b02f2f"/><stop offset="0.023" stop-color="#b02f2f"/><stop offset="0.047" stop-color="#b13230"/><stop offset="0.070" stop-color="#b23431"/><stop offset="0.093" stop-color="#b33632"/><stop offset="0.116" stop-color="#b43833"/><stop offset="0.140" stop-color="#b63c35"/><stop offset="0.163" stop-color="#b73e36"/><stop offset="0.186" stop-color="#b94238"/><stop offset="0.209" stop-color="#bb463a"/><stop offset="0.233" stop-color="#bd4a3c"/><stop offset="0.256" stop-color="#c05141"/><stop offset="0.279" stop-color="#c35644"/><stop offset="0.302" stop-color="#c65f4a"/><stop offset="0.326" stop-color="#ca6750"/><stop offset="0.349" stop-color="#cd7057"/><stop offset="0.372" stop-color="#d07d62"/><stop offset="0.395" stop-color="#d2886e"/><stop offset="0.419" stop-color="#d3947a"/><stop offset="0.442" stop-color="#d19f88"/><stop offset="0.465" stop-color="#cbac9b"/><stop offset="0.488" stop-color="#c0b4ac"/><stop offset="0.512" stop-color="#afb6bd"/><stop offset="0.535" stop-color="#9caec8"/><stop offset="0.558" stop-color="#87a2cc"/><stop offset="0.581" stop-color="#7695cb"/><stop offset="0.605" stop-color="#6788c7"/><stop offset="0.628" stop-color="#5678bf"/><stop offset="0.651" stop-color="#4666b3"/><stop offset="0.674" stop-color="#3754a4"/><stop offset="0.698" stop-color="#2f4a9a"/><stop offset="0.721" stop-color="#2c4696"/><stop offset="0.744" stop-color="#294292"/><stop offset="0.767" stop-color="#284191"/><stop offset="1.000" stop-color="#284191"/></linearGradient><linearGradient id="g2_49" gradientUnits="userSpaceOnUse" x1="-3.6500000000000004" x2="200.7" y1="0" y2="0"><stop offset="0.000" stop-color="#af2d2e"/><stop offset="0.023" stop-color="#af2d2e"/><stop offset="0.047" stop-color="#b02f2f"/><stop offset="0.070" stop-color="#b13230"/><stop offset="0.093" stop-color="#b23431"/><stop offset="0.116" stop-color="#b33632"/><stop offset="0.140" stop-color="#b43833"/><stop offset="0.163" stop-color="#b63c35"/><stop offset="0.186" stop-color="#b84037"/><stop offset="0.209" stop-color="#ba4439"/><stop offset="0.233" stop-color="#bc483b"/><stop offset="0.256" stop-color="#bf4f40"/><stop offset="0.279" stop-color="#c25543"/><stop offset="0.302" stop-color="#c65d49"/><stop offset="0.326" stop-color="#c9654f"/><stop offset="0.349" stop-color="#cd7057"/><stop offset="0.372" stop-color="#d07b61"/><stop offset="0.395" stop-color="#d2876c"/><stop offset="0.419" stop-color="#d3947a"/><stop offset="0.442" stop-color="#d19f88"/><stop offset="0.465" stop-color="#cbab9a"/><stop offset="0.488" stop-color="#c0b4ac"/><stop offset="0.512" stop-color="#afb6bd"/><stop offset="0.535" stop-color="#9cafc8"/><stop offset="0.558" stop-color="#87a2cc"/><stop offset="0.581" stop-color="#7695cb"/><stop offset="0.605" stop-color="#6788c7"/><stop offset="0.628" stop-color="#5678bf"/><stop offset="0.651" stop-color="#4666b3"/><stop offset="0.674" stop-color="#3754a4"/><stop offset="0.698" stop-color="#2f4a9a"/><stop offset="0.721" stop-color="#2c4696"/><stop offset="0.744" stop-color="#294292"/><stop offset="0.767" stop-color="#284191"/><stop offset="1.000" stop-color="#284191"/></linearGradient><linearGradient id="g2_50" gradientUnits="userSpaceOnUse" x1="-3.6500000000000004" x2="200.7" y1="0" y2="0"><stop offset="0.000" stop-color="#ad2b2d"/><stop offset="0.023" stop-color="#ad2b2d"/><stop offset="0.047" stop-color="#af2d2e"/><stop offset="0.070" stop-color="#b02f2f"/><stop offset="0.093" stop-color="#b13230"/><stop offset="0.116" stop-color="#b23431"/><stop offset="0.140" stop-color="#b33632"/><stop offset="0.163" stop-color="#b53a34"/><stop offset="0.186" stop-color="#b73e36"/><stop offset="0.209" stop-color="#b94238"/><stop offset="0.233" stop-color="#bb463a"/><stop offset="0.256" stop-color="#bf4d3f"/><stop offset="0.279" stop-color="#c15342"/><stop offset="0.302" stop-color="#c55b48"/><stop offset="0.326" stop-color="#c8634e"/><stop offset="0.349" stop-color="#cc6e56"/><stop offset="0.372" stop-color="#d07a60"/><stop offset="0.395" stop-color="#d2866b"/><stop offset="0.419" stop-color="#d39379"/><stop offset="0.442" stop-color="#d19e87"/><stop offset="0.465" stop-color="#ccaa98"/><stop offset="0.488" stop-color="#c0b4ad"/><stop offset="0.512" stop-color="#b0b6bc"/><stop offset="0.535" stop-color="#9cafc8"/><stop offset="0.558" stop-color="#87a2cc"/><stop offset="0.581" stop-color="#7796cc"/><stop offset="0.605" stop-color="#6788c7"/><stop offset="0.628" stop-color="#5678bf"/><stop offset="0.651" stop-color="#4666b3"/><stop offset="0.674" stop-color="#3754a4"/><stop offset="0.698" stop-color="#2f4a9a"/><stop offset="0.721" stop-color="#2c4696"/><stop offset="0.744" stop-color="#294292"/><stop offset="0.767" stop-color="#284191"/><stop offset="1.000" stop-color="#284191"/></linearGradient><linearGradient id="g2_51" gradientUnits="userSpaceOnUse" x1="-3.6500000000000004" x2="200.7" y1="0" y2="0"><stop offset="0.000" stop-color="#ac282c"/><stop offset="0.023" stop-color="#ac282c"/><stop offset="0.047" stop-color="#ad2b2d"/><stop offset="0.070" stop-color="#af2d2e"/><stop offset="0.093" stop-color="#b02f2f"/><stop offset="0.116" stop-color="#b13230"/><stop offset="0.140" stop-color="#b33632"/><stop offset="0.163" stop-color="#b43833"/><stop offset="0.186" stop-color="#b63c35"/><stop offset="0.209" stop-color="#b84037"/><stop offset="0.233" stop-color="#ba4439"/><stop offset="0.256" stop-color="#be4c3e"/><stop offset="0.279" stop-color="#c15342"/><stop offset="0.302" stop-color="#c45a47"/><stop offset="0.326" stop-color="#c8624c"/><stop offset="0.349" stop-color="#cc6d55"/><stop offset="0.372" stop-color="#d07a60"/><stop offset="0.395" stop-color="#d2856a"/><stop offset="0.419" stop-color="#d39379"/><stop offset="0.442" stop-color="#d19e87"/><stop offset="0.465" stop-color="#ccaa99"/><stop offset="0.488" stop-color="#c0b4ab"/><stop offset="0.512" stop-color="#b0b6bc"/><stop offset="0.535" stop-color="#9dafc7"/><stop offset="0.558" stop-color="#87a2cc"/><stop offset="0.581" stop-color="#7796cc"/><stop offset="0.605" stop-color="#6788c7"/><stop offset="0.628" stop-color="#5678bf"/><stop offset="0.651" stop-color="#4666b3"/><stop offset="0.674" stop-color="#3754a4"/><stop offset="0.698" stop-color="#2f4a9a"/><stop offset="0.721" stop-color="#2c4696"/><stop offset="0.744" stop-color="#294292"/><stop offset="0.767" stop-color="#284191"/><stop offset="1.000" stop-color="#284191"/></linearGradient><linearGradient id="g2_52" gradientUnits="userSpaceOnUse" x1="-3.6500000000000004" x2="200.7" y1="0" y2="0"><stop offset="0.000" stop-color="#ab262b"/><stop offset="0.023" stop-color="#ab262b"/><stop offset="0.047" stop-color="#ac282c"/><stop offset="0.070" stop-color="#ad2b2d"/><stop offset="0.093" stop-color="#af2d2e"/><stop offset="0.116" stop-color="#b02f2f"/><stop offset="0.140" stop-color="#b23431"/><stop offset="0.163" stop-color="#b33632"/><stop offset="0.186" stop-color="#b53a34"/><stop offset="0.209" stop-color="#b73e36"/><stop offset="0.233" stop-color="#ba4439"/><stop offset="0.256" stop-color="#bd4a3c"/><stop offset="0.279" stop-color="#c05141"/><stop offset="0.302" stop-color="#c45a47"/><stop offset="0.326" stop-color="#c8624c"/><stop offset="0.349" stop-color="#cb6b54"/><stop offset="0.372" stop-color="#cf785f"/><stop offset="0.395" stop-color="#d2856a"/><stop offset="0.419" stop-color="#d39278"/><stop offset="0.442" stop-color="#d19d86"/><stop offset="0.465" stop-color="#ccaa99"/><stop offset="0.488" stop-color="#c0b4ab"/><stop offset="0.512" stop-color="#b0b6bc"/><stop offset="0.535" stop-color="#9dafc7"/><stop offset="0.558" stop-color="#87a2cc"/><stop offset="0.581" stop-color="#7796cc"/><stop offset="0.605" stop-color="#6788c7"/><stop offset="0.628" stop-color="#5678bf"/><stop offset="0.651" stop-color="#4666b3"/><stop offset="0.674" stop-color="#3754a4"/><stop offset="0.698" stop-color="#2f4a9a"/><stop offset="0.721" stop-color="#2c4696"/><stop offset="0.744" stop-color="#294292"/><stop offset="0.767" stop-color="#284191"/><stop offset="1.000" stop-color="#284191"/></linearGradient><linearGradient id="g2_53" gradientUnits="userSpaceOnUse" x1="-3.6500000000000004" x2="200.7" y1="0" y2="0"><stop offset="0.000" stop-color="#ab262b"/><stop offset="0.047" stop-color="#ab262b"/><stop offset="0.070" stop-color="#ad2b2d"/><stop offset="0.093" stop-color="#af2d2e"/><stop offset="0.116" stop-color="#b02f2f"/><stop offset="0.140" stop-color="#b13230"/><stop offset="0.163" stop-color="#b33632"/><stop offset="0.186" stop-color="#b53a34"/><stop offset="0.209" stop-color="#b73e36"/><stop offset="0.233" stop-color="#b94238"/><stop offset="0.256" stop-color="#bd4a3c"/><stop offset="0.279" stop-color="#bf4f40"/><stop offset="0.302" stop-color="#c35845"/><stop offset="0.326" stop-color="#c7604b"/><stop offset="0.349" stop-color="#cb6b54"/><stop offset="0.372" stop-color="#cf785f"/><stop offset="0.395" stop-color="#d28369"/><stop offset="0.419" stop-color="#d39278"/><stop offset="0.442" stop-color="#d19d86"/><stop offset="0.465" stop-color="#cca997"/><stop offset="0.488" stop-color="#c0b4ab"/><stop offset="0.512" stop-color="#b0b6bc"/><stop offset="0.535" stop-color="#9dafc7"/><stop offset="0.558" stop-color="#87a2cc"/><stop offset="0.581" stop-color="#7796cc"/><stop offset="0.605" stop-color="#6788c7"/><stop offset="0.628" stop-color="#5678bf"/><stop offset="0.651" stop-color="#4666b3"/><stop offset="0.674" stop-color="#3754a4"/><stop offset="0.698" stop-color="#2f4a9a"/><stop offset="0.721" stop-color="#2c4696"/><stop offset="0.744" stop-color="#294292"/><stop offset="0.767" stop-color="#284191"/><stop offset="1.000" stop-color="#284191"/></linearGradient><linearGradient id="g2_54" gradientUnits="userSpaceOnUse" x1="-3.6500000000000004" x2="200.7" y1="0" y2="0"><stop offset="0.000" stop-color="#aa242a"/><stop offset="0.023" stop-color="#aa242a"/><stop offset="0.047" stop-color="#ab262b"/><stop offset="0.070" stop-color="#ac282c"/><stop offset="0.093" stop-color="#ad2b2d"/><stop offset="0.116" stop-color="#af2d2e"/><stop offset="0.140" stop-color="#b02f2f"/><stop offset="0.163" stop-color="#b23431"/><stop offset="0.186" stop-color="#b43833"/><stop offset="0.209" stop-color="#b63c35"/><stop offset="0.233" stop-color="#b84037"/><stop offset="0.256" stop-color="#bc483b"/><stop offset="0.279" stop-color="#be4d3f"/><stop offset="0.302" stop-color="#c35644"/><stop offset="0.326" stop-color="#c7604b"/><stop offset="0.349" stop-color="#cb6a52"/><stop offset="0.372" stop-color="#cf775d"/><stop offset="0.395" stop-color="#d28369"/><stop offset="0.419" stop-color="#d39177"/><stop offset="0.442" stop-color="#d29c85"/><stop offset="0.465" stop-color="#cca997"/><stop offset="0.488" stop-color="#c1b3aa"/><stop offset="0.512" stop-color="#b1b7bb"/><stop offset="0.535" stop-color="#9dafc7"/><stop offset="0.558" stop-color="#87a2cc"/><stop offset="0.581" stop-color="#7796cc"/><stop offset="0.605" stop-color="#6788c7"/><stop offset="0.628" stop-color="#5678bf"/><stop offset="0.651" stop-color="#4666b3"/><stop offset="0.674" stop-color="#3754a4"/><stop offset="0.698" stop-color="#2f4a9a"/><stop offset="0.721" stop-color="#2c4696"/><stop offset="0.744" stop-color="#294292"/><stop offset="0.767" stop-color="#284191"/><stop offset="1.000" stop-color="#284191"/></linearGradient><linearGradient id="g2_55" gradientUnits="userSpaceOnUse" x1="-3.6500000000000004" x2="200.7" y1="0" y2="0"><stop offset="0.000" stop-color="#a92029"/><stop offset="0.023" stop-color="#a92029"/><stop offset="0.047" stop-color="#aa242a"/><stop offset="0.070" stop-color="#ab262b"/><stop offset="0.093" stop-color="#ac282c"/><stop offset="0.116" stop-color="#ad2b2d"/><stop offset="0.140" stop-color="#b02f2f"/><stop offset="0.163" stop-color="#b13230"/><stop offset="0.186" stop-color="#b33632"/><stop offset="0.209" stop-color="#b53a34"/><stop offset="0.233" stop-color="#b84037"/><stop offset="0.256" stop-color="#bb463a"/><stop offset="0.279" stop-color="#bf4d3f"/><stop offset="0.302" stop-color="#c35644"/><stop offset="0.326" stop-color="#c65f4a"/><stop offset="0.349" stop-color="#cb6a52"/><stop offset="0.372" stop-color="#cf765c"/><stop offset="0.395" stop-color="#d18267"/><stop offset="0.419" stop-color="#d39177"/><stop offset="0.442" stop-color="#d29c85"/><stop offset="0.465" stop-color="#ccaa97"/><stop offset="0.488" stop-color="#c1b3aa"/><stop offset="0.512" stop-color="#b1b7bb"/><stop offset="0.535" stop-color="#9dafc7"/><stop offset="0.558" stop-color="#88a3cc"/><stop offset="0.581" stop-color="#7896cc"/><stop offset="0.605" stop-color="#6889c7"/><stop offset="0.628" stop-color="#5678bf"/><stop offset="0.651" stop-color="#4666b3"/><stop offset="0.674" stop-color="#3754a4"/><stop offset="0.698" stop-color="#2f4a9a"/><stop offset="0.721" stop-color="#2c4696"/><stop offset="0.744" stop-color="#294292"/><stop offset="0.767" stop-color="#284191"/><stop offset="1.000" stop-color="#284191"/></linearGradient><linearGradient id="g2_56" gradientUnits="userSpaceOnUse" x1="-3.6500000000000004" x2="200.7" y1="0" y2="0"><stop offset="0.000" stop-color="#a92029"/><stop offset="0.023" stop-color="#a92029"/><stop offset="0.047" stop-color="#aa242a"/><stop offset="0.070" stop-color="#ab262b"/><stop offset="0.093" stop-color="#ac282c"/><stop offset="0.116" stop-color="#ad2b2d"/><stop offset="0.140" stop-color="#af2d2e"/><stop offset="0.163" stop-color="#b13230"/><stop offset="0.186" stop-color="#b33632"/><stop offset="0.209" stop-color="#b53a34"/><stop offset="0.233" stop-color="#b73e36"/><stop offset="0.256" stop-color="#bb463a"/><stop offset="0.279" stop-color="#bf4d3f"/><stop offset="0.302" stop-color="#c35644"/><stop offset="0.326" stop-color="#c65f4a"/><stop offset="0.349" stop-color="#ca6851"/><stop offset="0.372" stop-color="#cf765c"/><stop offset="0.395" stop-color="#d18267"/><stop offset="0.419" stop-color="#d39177"/><stop offset="0.442" stop-color="#d29c85"/><stop offset="0.465" stop-color="#ccaa97"/><stop offset="0.488" stop-color="#c1b3aa"/><stop offset="0.512" stop-color="#b1b7bb"/><stop offset="0.535" stop-color="#9dafc7"/><stop offset="0.558" stop-color="#88a3cc"/><stop offset="0.581" stop-color="#7896cc"/><stop offset="0.605" stop-color="#6889c7"/><stop offset="0.628" stop-color="#5678bf"/><stop offset="0.651" stop-color="#4666b3"/><stop offset="0.674" stop-color="#3754a4"/><stop offset="0.698" stop-color="#2f4a9a"/><stop offset="0.721" stop-color="#2c4696"/><stop offset="0.744" stop-color="#294292"/><stop offset="0.767" stop-color="#284191"/><stop offset="1.000" stop-color="#284191"/></linearGradient><linearGradient id="g2_57" gradientUnits="userSpaceOnUse" x1="-3.6500000000000004" x2="200.7" y1="0" y2="0"><stop offset="0.000" stop-color="#a92029"/><stop offset="0.023" stop-color="#a92029"/><stop offset="0.047" stop-color="#aa242a"/><stop offset="0.070" stop-color="#ab262b"/><stop offset="0.093" stop-color="#ac282c"/><stop offset="0.116" stop-color="#ad2b2d"/><stop offset="0.140" stop-color="#af2d2e"/><stop offset="0.163" stop-color="#b13230"/><stop offset="0.186" stop-color="#b33632"/><stop offset="0.209" stop-color="#b53a34"/><stop offset="0.233" stop-color="#b73e36"/><stop offset="0.256" stop-color="#bb463a"/><stop offset="0.279" stop-color="#bf4d3f"/><stop offset="0.302" stop-color="#c35644"/><stop offset="0.326" stop-color="#c65f4a"/><stop offset="0.349" stop-color="#ca6851"/><stop offset="0.372" stop-color="#cf765c"/><stop offset="0.395" stop-color="#d18267"/><stop offset="0.419" stop-color="#d39177"/><stop offset="0.442" stop-color="#d29c85"/><stop offset="0.465" stop-color="#ccaa97"/><stop offset="0.488" stop-color="#c1b3aa"/><stop offset="0.512" stop-color="#b1b7bb"/><stop offset="0.535" stop-color="#9dafc7"/><stop offset="0.558" stop-color="#88a3cc"/><stop offset="0.581" stop-color="#7896cc"/><stop offset="0.605" stop-color="#6889c7"/><stop offset="0.628" stop-color="#5678bf"/><stop offset="0.651" stop-color="#4666b3"/><stop offset="0.674" stop-color="#3754a4"/><stop offset="0.698" stop-color="#2f4a9a"/><stop offset="0.721" stop-color="#2c4696"/><stop offset="0.744" stop-color="#294292"/><stop offset="0.767" stop-color="#284191"/><stop offset="1.000" stop-color="#284191"/></linearGradient><linearGradient id="g2_58" gradientUnits="userSpaceOnUse" x1="-3.6500000000000004" x2="200.7" y1="0" y2="0"><stop offset="0.000" stop-color="#a92029"/><stop offset="0.023" stop-color="#a92029"/><stop offset="0.047" stop-color="#aa242a"/><stop offset="0.070" stop-color="#ab262b"/><stop offset="0.093" stop-color="#ac282c"/><stop offset="0.116" stop-color="#ad2b2d"/><stop offset="0.140" stop-color="#af2d2e"/><stop offset="0.163" stop-color="#b13230"/><stop offset="0.186" stop-color="#b33632"/><stop offset="0.209" stop-color="#b53a34"/><stop offset="0.233" stop-color="#b73e36"/><stop offset="0.256" stop-color="#bb463a"/><stop offset="0.279" stop-color="#bf4d3f"/><stop offset="0.302" stop-color="#c35644"/><stop offset="0.326" stop-color="#c65f4a"/><stop offset="0.349" stop-color="#ca6851"/><stop offset="0.372" stop-color="#cf765c"/><stop offset="0.395" stop-color="#d18267"/><stop offset="0.419" stop-color="#d39177"/><stop offset="0.442" stop-color="#d29c85"/><stop offset="0.465" stop-color="#ccaa97"/><stop offset="0.488" stop-color="#c1b3aa"/><stop offset="0.512" stop-color="#b1b7bb"/><stop offset="0.535" stop-color="#9dafc7"/><stop offset="0.558" stop-color="#88a3cc"/><stop offset="0.581" stop-color="#7896cc"/><stop offset="0.605" stop-color="#6889c7"/><stop offset="0.628" stop-color="#5678bf"/><stop offset="0.651" stop-color="#4666b3"/><stop offset="0.674" stop-color="#3754a4"/><stop offset="0.698" stop-color="#2f4a9a"/><stop offset="0.721" stop-color="#2c4696"/><stop offset="0.744" stop-color="#294292"/><stop offset="0.767" stop-color="#284191"/><stop offset="1.000" stop-color="#284191"/></linearGradient><clipPath id="clip3"><rect x="4.35" y="354.6" width="188.35" height="157.4"/></clipPath><clipPath id="clipin"><rect x="402.5" y="86.5" width="76.2" height="53"/></clipPath></defs>
<rect width="522" height="550" fill="#fff"/>
<g clip-path="url(#clip1)"><g filter="url(#blur)">
<rect x="-3.6500000000000004" y="-3.9" width="204.35" height="3.5" fill="#284191"/>
<rect x="-3.6500000000000004" y="-0.9" width="204.35" height="3.5" fill="#284191"/>
<rect x="-3.6500000000000004" y="2.1" width="204.35" height="3.5" fill="#284191"/>
<rect x="-3.6500000000000004" y="5.1" width="204.35" height="3.5" fill="#284191"/>
<rect x="-3.6500000000000004" y="8.1" width="204.35" height="3.5" fill="#284191"/>
<rect x="-3.6500000000000004" y="11.1" width="204.35" height="3.5" fill="#284191"/>
<rect x="-3.6500000000000004" y="14.1" width="204.35" height="3.5" fill="#284191"/>
<rect x="-3.6500000000000004" y="17.1" width="204.35" height="3.5" fill="#284191"/>
<rect x="-3.6500000000000004" y="20.1" width="204.35" height="3.5" fill="#284191"/>
<rect x="-3.6500000000000004" y="23.1" width="204.35" height="3.5" fill="#284191"/>
<rect x="-3.6500000000000004" y="26.1" width="204.35" height="3.5" fill="#284191"/>
<rect x="-3.6500000000000004" y="29.1" width="204.35" height="3.5" fill="#284191"/>
<rect x="-3.6500000000000004" y="32.1" width="204.35" height="3.5" fill="#284191"/>
<rect x="-3.6500000000000004" y="35.1" width="204.35" height="3.5" fill="#284191"/>
<rect x="-3.6500000000000004" y="38.1" width="204.35" height="3.5" fill="#284191"/>
<rect x="-3.6500000000000004" y="41.1" width="204.35" height="3.5" fill="url(#g1_15)"/>
<rect x="-3.6500000000000004" y="44.1" width="204.35" height="3.5" fill="url(#g1_16)"/>
<rect x="-3.6500000000000004" y="47.1" width="204.35" height="3.5" fill="url(#g1_17)"/>
<rect x="-3.6500000000000004" y="50.1" width="204.35" height="3.5" fill="url(#g1_18)"/>
<rect x="-3.6500000000000004" y="53.1" width="204.35" height="3.5" fill="url(#g1_19)"/>
<rect x="-3.6500000000000004" y="56.1" width="204.35" height="3.5" fill="url(#g1_20)"/>
<rect x="-3.6500000000000004" y="59.1" width="204.35" height="3.5" fill="url(#g1_21)"/>
<rect x="-3.6500000000000004" y="62.1" width="204.35" height="3.5" fill="url(#g1_22)"/>
<rect x="-3.6500000000000004" y="65.1" width="204.35" height="3.5" fill="url(#g1_23)"/>
<rect x="-3.6500000000000004" y="68.1" width="204.35" height="3.5" fill="url(#g1_24)"/>
<rect x="-3.6500000000000004" y="71.1" width="204.35" height="3.5" fill="url(#g1_25)"/>
<rect x="-3.6500000000000004" y="74.1" width="204.35" height="3.5" fill="url(#g1_26)"/>
<rect x="-3.6500000000000004" y="77.1" width="204.35" height="3.5" fill="url(#g1_27)"/>
<rect x="-3.6500000000000004" y="80.1" width="204.35" height="3.5" fill="url(#g1_28)"/>
<rect x="-3.6500000000000004" y="83.1" width="204.35" height="3.5" fill="url(#g1_29)"/>
<rect x="-3.6500000000000004" y="86.1" width="204.35" height="3.5" fill="url(#g1_30)"/>
<rect x="-3.6500000000000004" y="89.1" width="204.35" height="3.5" fill="url(#g1_31)"/>
<rect x="-3.6500000000000004" y="92.1" width="204.35" height="3.5" fill="url(#g1_32)"/>
<rect x="-3.6500000000000004" y="95.1" width="204.35" height="3.5" fill="url(#g1_33)"/>
<rect x="-3.6500000000000004" y="98.1" width="204.35" height="3.5" fill="url(#g1_34)"/>
<rect x="-3.6500000000000004" y="101.1" width="204.35" height="3.5" fill="url(#g1_35)"/>
<rect x="-3.6500000000000004" y="104.1" width="204.35" height="3.5" fill="url(#g1_36)"/>
<rect x="-3.6500000000000004" y="107.1" width="204.35" height="3.5" fill="url(#g1_37)"/>
<rect x="-3.6500000000000004" y="110.1" width="204.35" height="3.5" fill="url(#g1_38)"/>
<rect x="-3.6500000000000004" y="113.1" width="204.35" height="3.5" fill="url(#g1_39)"/>
<rect x="-3.6500000000000004" y="116.1" width="204.35" height="3.5" fill="url(#g1_40)"/>
<rect x="-3.6500000000000004" y="119.1" width="204.35" height="3.5" fill="url(#g1_41)"/>
<rect x="-3.6500000000000004" y="122.1" width="204.35" height="3.5" fill="url(#g1_42)"/>
<rect x="-3.6500000000000004" y="125.1" width="204.35" height="3.5" fill="url(#g1_43)"/>
<rect x="-3.6500000000000004" y="128.1" width="204.35" height="3.5" fill="url(#g1_44)"/>
<rect x="-3.6500000000000004" y="131.1" width="204.35" height="3.5" fill="url(#g1_45)"/>
<rect x="-3.6500000000000004" y="134.1" width="204.35" height="3.5" fill="url(#g1_46)"/>
<rect x="-3.6500000000000004" y="137.1" width="204.35" height="3.5" fill="url(#g1_47)"/>
<rect x="-3.6500000000000004" y="140.1" width="204.35" height="3.5" fill="url(#g1_48)"/>
<rect x="-3.6500000000000004" y="143.1" width="204.35" height="3.5" fill="url(#g1_49)"/>
<rect x="-3.6500000000000004" y="146.1" width="204.35" height="3.5" fill="url(#g1_50)"/>
<rect x="-3.6500000000000004" y="149.1" width="204.35" height="3.5" fill="url(#g1_51)"/>
<rect x="-3.6500000000000004" y="152.1" width="204.35" height="3.5" fill="url(#g1_52)"/>
<rect x="-3.6500000000000004" y="155.1" width="204.35" height="3.5" fill="url(#g1_53)"/>
<rect x="-3.6500000000000004" y="158.1" width="204.35" height="3.5" fill="url(#g1_54)"/>
<rect x="-3.6500000000000004" y="161.1" width="204.35" height="3.5" fill="url(#g1_55)"/>
<rect x="-3.6500000000000004" y="164.1" width="204.35" height="3.5" fill="url(#g1_56)"/>
<rect x="-3.6500000000000004" y="167.1" width="204.35" height="3.5" fill="url(#g1_57)"/>
<rect x="-3.6500000000000004" y="170.1" width="204.35" height="3.5" fill="url(#g1_58)"/>
</g></g>
<g clip-path="url(#clip1)"><path d="M2.8 67.2L2.8 162.6M14.2 67.2L14.2 162.6M25.6 67.2L25.6 162.6M37.0 67.2L37.0 162.6M48.4 67.2L48.4 162.6M59.8 67.2L59.8 162.6M71.2 67.2L71.2 162.6M82.6 67.2L82.6 162.6M94.0 67.2L94.0 162.6M105.4 67.2L105.4 162.6M116.8 67.2L116.8 162.6M2.8 162.6L116.8 162.6M2.8 153.1L116.8 153.1M2.8 143.5L116.8 143.5M2.8 134.0L116.8 134.0M2.8 124.4L116.8 124.4M2.8 114.9L116.8 114.9M2.8 105.4L116.8 105.4M2.8 95.8L116.8 95.8M2.8 86.3L116.8 86.3M2.8 76.7L116.8 76.7M2.8 67.2L116.8 67.2M2.8 0.0L2.8 51.3M21.8 0.0L21.8 51.3M40.8 0.0L40.8 51.3M59.8 0.0L59.8 51.3M78.8 0.0L78.8 51.3M97.8 0.0L97.8 51.3M116.8 0.0L116.8 51.3M135.8 0.0L135.8 162.6M154.8 0.0L154.8 162.6M173.8 0.0L173.8 162.6M192.8 0.0L192.8 162.6M135.8 162.6L192.8 162.6M135.8 146.7L192.8 146.7M135.8 130.8L192.8 130.8M135.8 114.9L192.8 114.9M135.8 99.0L192.8 99.0M135.8 83.1L192.8 83.1M135.8 67.2L192.8 67.2M2.8 51.3L192.8 51.3M2.8 35.4L192.8 35.4M2.8 19.5L192.8 19.5M2.8 3.6L192.8 3.6M116.8 51.3L116.8 67.2M116.8 67.2L135.8 67.2M2.8 51.3L2.8 67.2M135.8 162.6L116.8 162.6M21.8 51.3L14.2 67.2M135.8 146.7L116.8 153.1M21.8 51.3L25.6 67.2M135.8 146.7L116.8 143.5M40.8 51.3L37.0 67.2M135.8 130.8L116.8 134.0M40.8 51.3L48.4 67.2M135.8 130.8L116.8 124.4M59.8 51.3L59.8 67.2M135.8 114.9L116.8 114.9M78.8 51.3L71.2 67.2M135.8 99.0L116.8 105.4M78.8 51.3L82.6 67.2M135.8 99.0L116.8 95.8M97.8 51.3L94.0 67.2M135.8 83.1L116.8 86.3M97.8 51.3L105.4 67.2M135.8 83.1L116.8 76.7M116.8 51.3L116.8 67.2M135.8 67.2L116.8 67.2" stroke="#000c84" stroke-width="1" stroke-opacity="0.38" fill="none"/><path d="M2.8 162.6h0M2.8 153.1h0M2.8 143.5h0M2.8 134.0h0M2.8 124.4h0M2.8 114.9h0M2.8 105.4h0M2.8 95.8h0M2.8 86.3h0M2.8 76.7h0M2.8 67.2h0M14.2 162.6h0M14.2 153.1h0M14.2 143.5h0M14.2 134.0h0M14.2 124.4h0M14.2 114.9h0M14.2 105.4h0M14.2 95.8h0M14.2 86.3h0M14.2 76.7h0M14.2 67.2h0M25.6 162.6h0M25.6 153.1h0M25.6 143.5h0M25.6 134.0h0M25.6 124.4h0M25.6 114.9h0M25.6 105.4h0M25.6 95.8h0M25.6 86.3h0M25.6 76.7h0M25.6 67.2h0M37.0 162.6h0M37.0 153.1h0M37.0 143.5h0M37.0 134.0h0M37.0 124.4h0M37.0 114.9h0M37.0 105.4h0M37.0 95.8h0M37.0 86.3h0M37.0 76.7h0M37.0 67.2h0M48.4 162.6h0M48.4 153.1h0M48.4 143.5h0M48.4 134.0h0M48.4 124.4h0M48.4 114.9h0M48.4 105.4h0M48.4 95.8h0M48.4 86.3h0M48.4 76.7h0M48.4 67.2h0M59.8 162.6h0M59.8 153.1h0M59.8 143.5h0M59.8 134.0h0M59.8 124.4h0M59.8 114.9h0M59.8 105.4h0M59.8 95.8h0M59.8 86.3h0M59.8 76.7h0M59.8 67.2h0M71.2 162.6h0M71.2 153.1h0M71.2 143.5h0M71.2 134.0h0M71.2 124.4h0M71.2 114.9h0M71.2 105.4h0M71.2 95.8h0M71.2 86.3h0M71.2 76.7h0M71.2 67.2h0M82.6 162.6h0M82.6 153.1h0M82.6 143.5h0M82.6 134.0h0M82.6 124.4h0M82.6 114.9h0M82.6 105.4h0M82.6 95.8h0M82.6 86.3h0M82.6 76.7h0M82.6 67.2h0M94.0 162.6h0M94.0 153.1h0M94.0 143.5h0M94.0 134.0h0M94.0 124.4h0M94.0 114.9h0M94.0 105.4h0M94.0 95.8h0M94.0 86.3h0M94.0 76.7h0M94.0 67.2h0M105.4 162.6h0M105.4 153.1h0M105.4 143.5h0M105.4 134.0h0M105.4 124.4h0M105.4 114.9h0M105.4 105.4h0M105.4 95.8h0M105.4 86.3h0M105.4 76.7h0M105.4 67.2h0M116.8 162.6h0M116.8 153.1h0M116.8 143.5h0M116.8 134.0h0M116.8 124.4h0M116.8 114.9h0M116.8 105.4h0M116.8 95.8h0M116.8 86.3h0M116.8 76.7h0M116.8 67.2h0M2.8 51.3h0M2.8 35.4h0M2.8 19.5h0M2.8 3.6h0M21.8 51.3h0M21.8 35.4h0M21.8 19.5h0M21.8 3.6h0M40.8 51.3h0M40.8 35.4h0M40.8 19.5h0M40.8 3.6h0M59.8 51.3h0M59.8 35.4h0M59.8 19.5h0M59.8 3.6h0M78.8 51.3h0M78.8 35.4h0M78.8 19.5h0M78.8 3.6h0M97.8 51.3h0M97.8 35.4h0M97.8 19.5h0M97.8 3.6h0M116.8 51.3h0M116.8 35.4h0M116.8 19.5h0M116.8 3.6h0M135.8 162.6h0M135.8 146.7h0M135.8 130.8h0M135.8 114.9h0M135.8 99.0h0M135.8 83.1h0M135.8 67.2h0M135.8 51.3h0M135.8 35.4h0M135.8 19.5h0M135.8 3.6h0M154.8 162.6h0M154.8 146.7h0M154.8 130.8h0M154.8 114.9h0M154.8 99.0h0M154.8 83.1h0M154.8 67.2h0M154.8 51.3h0M154.8 35.4h0M154.8 19.5h0M154.8 3.6h0M173.8 162.6h0M173.8 146.7h0M173.8 130.8h0M173.8 114.9h0M173.8 99.0h0M173.8 83.1h0M173.8 67.2h0M173.8 51.3h0M173.8 35.4h0M173.8 19.5h0M173.8 3.6h0M192.8 162.6h0M192.8 146.7h0M192.8 130.8h0M192.8 114.9h0M192.8 99.0h0M192.8 83.1h0M192.8 67.2h0M192.8 51.3h0M192.8 35.4h0M192.8 19.5h0M192.8 3.6h0" stroke="#000c84" stroke-width="2.3" stroke-linecap="round" stroke-opacity="0.3" fill="none"/></g>
<g clip-path="url(#clip2)"><g filter="url(#blur)">
<rect x="-3.6500000000000004" y="170.6" width="204.35" height="3.5" fill="#284191"/>
<rect x="-3.6500000000000004" y="173.6" width="204.35" height="3.5" fill="#284191"/>
<rect x="-3.6500000000000004" y="176.6" width="204.35" height="3.5" fill="#284191"/>
<rect x="-3.6500000000000004" y="179.6" width="204.35" height="3.5" fill="#284191"/>
<rect x="-3.6500000000000004" y="182.6" width="204.35" height="3.5" fill="#284191"/>
<rect x="-3.6500000000000004" y="185.6" width="204.35" height="3.5" fill="#284191"/>
<rect x="-3.6500000000000004" y="188.6" width="204.35" height="3.5" fill="#284191"/>
<rect x="-3.6500000000000004" y="191.6" width="204.35" height="3.5" fill="#284191"/>
<rect x="-3.6500000000000004" y="194.6" width="204.35" height="3.5" fill="#284191"/>
<rect x="-3.6500000000000004" y="197.6" width="204.35" height="3.5" fill="#284191"/>
<rect x="-3.6500000000000004" y="200.6" width="204.35" height="3.5" fill="url(#g2_10)"/>
<rect x="-3.6500000000000004" y="203.6" width="204.35" height="3.5" fill="url(#g2_11)"/>
<rect x="-3.6500000000000004" y="206.6" width="204.35" height="3.5" fill="url(#g2_12)"/>
<rect x="-3.6500000000000004" y="209.6" width="204.35" height="3.5" fill="url(#g2_13)"/>
<rect x="-3.6500000000000004" y="212.6" width="204.35" height="3.5" fill="url(#g2_14)"/>
<rect x="-3.6500000000000004" y="215.6" width="204.35" height="3.5" fill="url(#g2_15)"/>
<rect x="-3.6500000000000004" y="218.6" width="204.35" height="3.5" fill="url(#g2_16)"/>
<rect x="-3.6500000000000004" y="221.6" width="204.35" height="3.5" fill="url(#g2_17)"/>
<rect x="-3.6500000000000004" y="224.6" width="204.35" height="3.5" fill="url(#g2_18)"/>
<rect x="-3.6500000000000004" y="227.6" width="204.35" height="3.5" fill="url(#g2_19)"/>
<rect x="-3.6500000000000004" y="230.6" width="204.35" height="3.5" fill="url(#g2_20)"/>
<rect x="-3.6500000000000004" y="233.6" width="204.35" height="3.5" fill="url(#g2_21)"/>
<rect x="-3.6500000000000004" y="236.6" width="204.35" height="3.5" fill="url(#g2_22)"/>
<rect x="-3.6500000000000004" y="239.6" width="204.35" height="3.5" fill="url(#g2_23)"/>
<rect x="-3.6500000000000004" y="242.6" width="204.35" height="3.5" fill="url(#g2_24)"/>
<rect x="-3.6500000000000004" y="245.6" width="204.35" height="3.5" fill="url(#g2_25)"/>
<rect x="-3.6500000000000004" y="248.6" width="204.35" height="3.5" fill="url(#g2_26)"/>
<rect x="-3.6500000000000004" y="251.6" width="204.35" height="3.5" fill="url(#g2_27)"/>
<rect x="-3.6500000000000004" y="254.6" width="204.35" height="3.5" fill="url(#g2_28)"/>
<rect x="-3.6500000000000004" y="257.6" width="204.35" height="3.5" fill="url(#g2_29)"/>
<rect x="-3.6500000000000004" y="260.6" width="204.35" height="3.5" fill="url(#g2_30)"/>
<rect x="-3.6500000000000004" y="263.6" width="204.35" height="3.5" fill="url(#g2_31)"/>
<rect x="-3.6500000000000004" y="266.6" width="204.35" height="3.5" fill="url(#g2_32)"/>
<rect x="-3.6500000000000004" y="269.6" width="204.35" height="3.5" fill="url(#g2_33)"/>
<rect x="-3.6500000000000004" y="272.6" width="204.35" height="3.5" fill="url(#g2_34)"/>
<rect x="-3.6500000000000004" y="275.6" width="204.35" height="3.5" fill="url(#g2_35)"/>
<rect x="-3.6500000000000004" y="278.6" width="204.35" height="3.5" fill="url(#g2_36)"/>
<rect x="-3.6500000000000004" y="281.6" width="204.35" height="3.5" fill="url(#g2_37)"/>
<rect x="-3.6500000000000004" y="284.6" width="204.35" height="3.5" fill="url(#g2_38)"/>
<rect x="-3.6500000000000004" y="287.6" width="204.35" height="3.5" fill="url(#g2_39)"/>
<rect x="-3.6500000000000004" y="290.6" width="204.35" height="3.5" fill="url(#g2_40)"/>
<rect x="-3.6500000000000004" y="293.6" width="204.35" height="3.5" fill="url(#g2_41)"/>
<rect x="-3.6500000000000004" y="296.6" width="204.35" height="3.5" fill="url(#g2_42)"/>
<rect x="-3.6500000000000004" y="299.6" width="204.35" height="3.5" fill="url(#g2_43)"/>
<rect x="-3.6500000000000004" y="302.6" width="204.35" height="3.5" fill="url(#g2_44)"/>
<rect x="-3.6500000000000004" y="305.6" width="204.35" height="3.5" fill="url(#g2_45)"/>
<rect x="-3.6500000000000004" y="308.6" width="204.35" height="3.5" fill="url(#g2_46)"/>
<rect x="-3.6500000000000004" y="311.6" width="204.35" height="3.5" fill="url(#g2_47)"/>
<rect x="-3.6500000000000004" y="314.6" width="204.35" height="3.5" fill="url(#g2_48)"/>
<rect x="-3.6500000000000004" y="317.6" width="204.35" height="3.5" fill="url(#g2_49)"/>
<rect x="-3.6500000000000004" y="320.6" width="204.35" height="3.5" fill="url(#g2_50)"/>
<rect x="-3.6500000000000004" y="323.6" width="204.35" height="3.5" fill="url(#g2_51)"/>
<rect x="-3.6500000000000004" y="326.6" width="204.35" height="3.5" fill="url(#g2_52)"/>
<rect x="-3.6500000000000004" y="329.6" width="204.35" height="3.5" fill="url(#g2_53)"/>
<rect x="-3.6500000000000004" y="332.6" width="204.35" height="3.5" fill="url(#g2_54)"/>
<rect x="-3.6500000000000004" y="335.6" width="204.35" height="3.5" fill="url(#g2_55)"/>
<rect x="-3.6500000000000004" y="338.6" width="204.35" height="3.5" fill="url(#g2_56)"/>
<rect x="-3.6500000000000004" y="341.6" width="204.35" height="3.5" fill="url(#g2_57)"/>
<rect x="-3.6500000000000004" y="344.6" width="204.35" height="3.5" fill="url(#g2_58)"/>
</g></g>
<g clip-path="url(#clip2)"><path d="M2.9 232.1L2.9 337.8M14.3 232.1L14.3 337.8M25.7 232.1L25.7 337.8M37.1 232.1L37.1 337.8M48.5 232.1L48.5 337.8M59.9 232.1L59.9 337.8M71.3 232.1L71.3 337.8M82.7 232.1L82.7 337.8M94.1 232.1L94.1 337.8M105.5 232.1L105.5 337.8M116.9 232.1L116.9 337.8M2.9 337.8L116.9 337.8M2.9 327.2L116.9 327.2M2.9 316.7L116.9 316.7M2.9 306.1L116.9 306.1M2.9 295.5L116.9 295.5M2.9 284.9L116.9 284.9M2.9 274.4L116.9 274.4M2.9 263.8L116.9 263.8M2.9 253.2L116.9 253.2M2.9 242.7L116.9 242.7M2.9 232.1L116.9 232.1M2.9 0.0L2.9 232.1M21.9 0.0L21.9 232.1M40.9 0.0L40.9 232.1M59.9 0.0L59.9 232.1M78.9 0.0L78.9 232.1M97.9 0.0L97.9 232.1M116.9 0.0L116.9 337.8M135.9 0.0L135.9 337.8M154.9 0.0L154.9 337.8M173.9 0.0L173.9 337.8M192.9 0.0L192.9 337.8M116.9 337.8L192.9 337.8M116.9 320.2L192.9 320.2M116.9 302.6L192.9 302.6M116.9 284.9L192.9 284.9M116.9 267.3L192.9 267.3M116.9 249.7L192.9 249.7M2.9 232.1L192.9 232.1M2.9 214.5L192.9 214.5M2.9 196.8L192.9 196.8M2.9 179.2L192.9 179.2M2.9 161.6L192.9 161.6" stroke="#000c84" stroke-width="1" stroke-opacity="0.38" fill="none"/><path d="M2.9 337.8h0M2.9 327.2h0M2.9 316.7h0M2.9 306.1h0M2.9 295.5h0M2.9 284.9h0M2.9 274.4h0M2.9 263.8h0M2.9 253.2h0M2.9 242.7h0M2.9 232.1h0M14.3 337.8h0M14.3 327.2h0M14.3 316.7h0M14.3 306.1h0M14.3 295.5h0M14.3 284.9h0M14.3 274.4h0M14.3 263.8h0M14.3 253.2h0M14.3 242.7h0M14.3 232.1h0M25.7 337.8h0M25.7 327.2h0M25.7 316.7h0M25.7 306.1h0M25.7 295.5h0M25.7 284.9h0M25.7 274.4h0M25.7 263.8h0M25.7 253.2h0M25.7 242.7h0M25.7 232.1h0M37.1 337.8h0M37.1 327.2h0M37.1 316.7h0M37.1 306.1h0M37.1 295.5h0M37.1 284.9h0M37.1 274.4h0M37.1 263.8h0M37.1 253.2h0M37.1 242.7h0M37.1 232.1h0M48.5 337.8h0M48.5 327.2h0M48.5 316.7h0M48.5 306.1h0M48.5 295.5h0M48.5 284.9h0M48.5 274.4h0M48.5 263.8h0M48.5 253.2h0M48.5 242.7h0M48.5 232.1h0M59.9 337.8h0M59.9 327.2h0M59.9 316.7h0M59.9 306.1h0M59.9 295.5h0M59.9 284.9h0M59.9 274.4h0M59.9 263.8h0M59.9 253.2h0M59.9 242.7h0M59.9 232.1h0M71.3 337.8h0M71.3 327.2h0M71.3 316.7h0M71.3 306.1h0M71.3 295.5h0M71.3 284.9h0M71.3 274.4h0M71.3 263.8h0M71.3 253.2h0M71.3 242.7h0M71.3 232.1h0M82.7 337.8h0M82.7 327.2h0M82.7 316.7h0M82.7 306.1h0M82.7 295.5h0M82.7 284.9h0M82.7 274.4h0M82.7 263.8h0M82.7 253.2h0M82.7 242.7h0M82.7 232.1h0M94.1 337.8h0M94.1 327.2h0M94.1 316.7h0M94.1 306.1h0M94.1 295.5h0M94.1 284.9h0M94.1 274.4h0M94.1 263.8h0M94.1 253.2h0M94.1 242.7h0M94.1 232.1h0M105.5 337.8h0M105.5 327.2h0M105.5 316.7h0M105.5 306.1h0M105.5 295.5h0M105.5 284.9h0M105.5 274.4h0M105.5 263.8h0M105.5 253.2h0M105.5 242.7h0M105.5 232.1h0M116.9 337.8h0M116.9 327.2h0M116.9 316.7h0M116.9 306.1h0M116.9 295.5h0M116.9 284.9h0M116.9 274.4h0M116.9 263.8h0M116.9 253.2h0M116.9 242.7h0M116.9 232.1h0M2.9 232.1h0M2.9 214.5h0M2.9 196.8h0M2.9 179.2h0M2.9 161.6h0M21.9 232.1h0M21.9 214.5h0M21.9 196.8h0M21.9 179.2h0M21.9 161.6h0M40.9 232.1h0M40.9 214.5h0M40.9 196.8h0M40.9 179.2h0M40.9 161.6h0M59.9 232.1h0M59.9 214.5h0M59.9 196.8h0M59.9 179.2h0M59.9 161.6h0M78.9 232.1h0M78.9 214.5h0M78.9 196.8h0M78.9 179.2h0M78.9 161.6h0M97.9 232.1h0M97.9 214.5h0M97.9 196.8h0M97.9 179.2h0M97.9 161.6h0M116.9 337.8h0M116.9 320.2h0M116.9 302.6h0M116.9 284.9h0M116.9 267.3h0M116.9 249.7h0M116.9 232.1h0M116.9 214.5h0M116.9 196.8h0M116.9 179.2h0M116.9 161.6h0M135.9 337.8h0M135.9 320.2h0M135.9 302.6h0M135.9 284.9h0M135.9 267.3h0M135.9 249.7h0M135.9 232.1h0M135.9 214.5h0M135.9 196.8h0M135.9 179.2h0M135.9 161.6h0M154.9 337.8h0M154.9 320.2h0M154.9 302.6h0M154.9 284.9h0M154.9 267.3h0M154.9 249.7h0M154.9 232.1h0M154.9 214.5h0M154.9 196.8h0M154.9 179.2h0M154.9 161.6h0M173.9 337.8h0M173.9 320.2h0M173.9 302.6h0M173.9 284.9h0M173.9 267.3h0M173.9 249.7h0M173.9 232.1h0M173.9 214.5h0M173.9 196.8h0M173.9 179.2h0M173.9 161.6h0M192.9 337.8h0M192.9 320.2h0M192.9 302.6h0M192.9 284.9h0M192.9 267.3h0M192.9 249.7h0M192.9 232.1h0M192.9 214.5h0M192.9 196.8h0M192.9 179.2h0M192.9 161.6h0" stroke="#000c84" stroke-width="2.3" stroke-linecap="round" stroke-opacity="0.3" fill="none"/></g>
<g clip-path="url(#clip3)">
<rect x="4" y="354" width="189" height="159" fill="#284191"/>
<rect x="3.2" y="501.2" width="12.8" height="12.5" fill="#a92029"/>
<rect x="3.2" y="489.0" width="12.8" height="12.5" fill="#af2d2e"/>
<rect x="3.2" y="476.8" width="12.8" height="12.5" fill="#b43833"/>
<rect x="3.2" y="464.6" width="12.8" height="12.5" fill="#ba4439"/>
<rect x="3.2" y="452.4" width="12.8" height="12.5" fill="#c25543"/>
<rect x="3.2" y="440.2" width="12.8" height="12.5" fill="#cc6d55"/>
<rect x="3.2" y="428.0" width="12.8" height="12.5" fill="#d28a6f"/>
<rect x="3.2" y="415.8" width="12.8" height="12.5" fill="#cea794"/>
<rect x="3.2" y="403.6" width="12.8" height="12.5" fill="#afb6bd"/>
<rect x="3.2" y="391.4" width="12.8" height="12.5" fill="#6587c7"/>
<rect x="3.2" y="379.2" width="12.8" height="12.5" fill="#3a58a7"/>
<rect x="3.2" y="367.0" width="12.8" height="12.5" fill="#2e4999"/>
<rect x="15.7" y="501.2" width="12.8" height="12.5" fill="#ac282c"/>
<rect x="15.7" y="489.0" width="12.8" height="12.5" fill="#b13230"/>
<rect x="15.7" y="476.8" width="12.8" height="12.5" fill="#b63c35"/>
<rect x="15.7" y="464.6" width="12.8" height="12.5" fill="#bc483b"/>
<rect x="15.7" y="452.4" width="12.8" height="12.5" fill="#c35644"/>
<rect x="15.7" y="440.2" width="12.8" height="12.5" fill="#cc6e56"/>
<rect x="15.7" y="428.0" width="12.8" height="12.5" fill="#d38b70"/>
<rect x="15.7" y="415.8" width="12.8" height="12.5" fill="#cda895"/>
<rect x="15.7" y="403.6" width="12.8" height="12.5" fill="#aeb6be"/>
<rect x="15.7" y="391.4" width="12.8" height="12.5" fill="#6486c6"/>
<rect x="15.7" y="379.2" width="12.8" height="12.5" fill="#3a58a7"/>
<rect x="15.7" y="367.0" width="12.8" height="12.5" fill="#2e4999"/>
<rect x="28.2" y="501.2" width="12.8" height="12.5" fill="#b02f2f"/>
<rect x="28.2" y="489.0" width="12.8" height="12.5" fill="#b43833"/>
<rect x="28.2" y="476.8" width="12.8" height="12.5" fill="#b84037"/>
<rect x="28.2" y="464.6" width="12.8" height="12.5" fill="#be4c3e"/>
<rect x="28.2" y="452.4" width="12.8" height="12.5" fill="#c55b48"/>
<rect x="28.2" y="440.2" width="12.8" height="12.5" fill="#cd7158"/>
<rect x="28.2" y="428.0" width="12.8" height="12.5" fill="#d38d73"/>
<rect x="28.2" y="415.8" width="12.8" height="12.5" fill="#cda996"/>
<rect x="28.2" y="403.6" width="12.8" height="12.5" fill="#adb6bf"/>
<rect x="28.2" y="391.4" width="12.8" height="12.5" fill="#6486c6"/>
<rect x="28.2" y="379.2" width="12.8" height="12.5" fill="#3a58a7"/>
<rect x="28.2" y="367.0" width="12.8" height="12.5" fill="#2e4999"/>
<rect x="40.8" y="501.2" width="12.8" height="12.5" fill="#b84037"/>
<rect x="40.8" y="489.0" width="12.8" height="12.5" fill="#bb463a"/>
<rect x="40.8" y="476.8" width="12.8" height="12.5" fill="#be4c3e"/>
<rect x="40.8" y="464.6" width="12.8" height="12.5" fill="#c25543"/>
<rect x="40.8" y="452.4" width="12.8" height="12.5" fill="#c8624c"/>
<rect x="40.8" y="440.2" width="12.8" height="12.5" fill="#cf775d"/>
<rect x="40.8" y="428.0" width="12.8" height="12.5" fill="#d39177"/>
<rect x="40.8" y="415.8" width="12.8" height="12.5" fill="#ccaa98"/>
<rect x="40.8" y="403.6" width="12.8" height="12.5" fill="#acb5bf"/>
<rect x="40.8" y="391.4" width="12.8" height="12.5" fill="#6486c6"/>
<rect x="40.8" y="379.2" width="12.8" height="12.5" fill="#3a58a7"/>
<rect x="40.8" y="367.0" width="12.8" height="12.5" fill="#2e4999"/>
<rect x="53.3" y="501.2" width="12.8" height="12.5" fill="#c25543"/>
<rect x="53.3" y="489.0" width="12.8" height="12.5" fill="#c45a47"/>
<rect x="53.3" y="476.8" width="12.8" height="12.5" fill="#c65f4a"/>
<rect x="53.3" y="464.6" width="12.8" height="12.5" fill="#c9654f"/>
<rect x="53.3" y="452.4" width="12.8" height="12.5" fill="#cc6d55"/>
<rect x="53.3" y="440.2" width="12.8" height="12.5" fill="#d17f65"/>
<rect x="53.3" y="428.0" width="12.8" height="12.5" fill="#d3967d"/>
<rect x="53.3" y="415.8" width="12.8" height="12.5" fill="#c9ad9d"/>
<rect x="53.3" y="403.6" width="12.8" height="12.5" fill="#a9b4c1"/>
<rect x="53.3" y="391.4" width="12.8" height="12.5" fill="#6384c6"/>
<rect x="53.3" y="379.2" width="12.8" height="12.5" fill="#3a58a7"/>
<rect x="53.3" y="367.0" width="12.8" height="12.5" fill="#2e4999"/>
<rect x="65.8" y="501.2" width="12.8" height="12.5" fill="#cd7057"/>
<rect x="65.8" y="489.0" width="12.8" height="12.5" fill="#ce745b"/>
<rect x="65.8" y="476.8" width="12.8" height="12.5" fill="#cf785f"/>
<rect x="65.8" y="464.6" width="12.8" height="12.5" fill="#d07d62"/>
<rect x="65.8" y="452.4" width="12.8" height="12.5" fill="#d18267"/>
<rect x="65.8" y="440.2" width="12.8" height="12.5" fill="#d38c72"/>
<rect x="65.8" y="428.0" width="12.8" height="12.5" fill="#d19e87"/>
<rect x="65.8" y="415.8" width="12.8" height="12.5" fill="#c5b1a4"/>
<rect x="65.8" y="403.6" width="12.8" height="12.5" fill="#a5b3c4"/>
<rect x="65.8" y="391.4" width="12.8" height="12.5" fill="#6182c4"/>
<rect x="65.8" y="379.2" width="12.8" height="12.5" fill="#3957a6"/>
<rect x="65.8" y="367.0" width="12.8" height="12.5" fill="#2d4798"/>
<rect x="78.3" y="501.2" width="12.8" height="12.5" fill="#d38d73"/>
<rect x="78.3" y="489.0" width="12.8" height="12.5" fill="#d39075"/>
<rect x="78.3" y="476.8" width="12.8" height="12.5" fill="#d39278"/>
<rect x="78.3" y="464.6" width="12.8" height="12.5" fill="#d3957c"/>
<rect x="78.3" y="452.4" width="12.8" height="12.5" fill="#d2987f"/>
<rect x="78.3" y="440.2" width="12.8" height="12.5" fill="#d19f88"/>
<rect x="78.3" y="428.0" width="12.8" height="12.5" fill="#cda895"/>
<rect x="78.3" y="415.8" width="12.8" height="12.5" fill="#bfb5ae"/>
<rect x="78.3" y="403.6" width="12.8" height="12.5" fill="#9fb0c6"/>
<rect x="78.3" y="391.4" width="12.8" height="12.5" fill="#5f81c4"/>
<rect x="78.3" y="379.2" width="12.8" height="12.5" fill="#3957a6"/>
<rect x="78.3" y="367.0" width="12.8" height="12.5" fill="#2d4798"/>
<rect x="90.8" y="501.2" width="12.8" height="12.5" fill="#cda996"/>
<rect x="90.8" y="489.0" width="12.8" height="12.5" fill="#ccaa99"/>
<rect x="90.8" y="476.8" width="12.8" height="12.5" fill="#cbab9a"/>
<rect x="90.8" y="464.6" width="12.8" height="12.5" fill="#caac9c"/>
<rect x="90.8" y="452.4" width="12.8" height="12.5" fill="#c8aea0"/>
<rect x="90.8" y="440.2" width="12.8" height="12.5" fill="#c4b2a7"/>
<rect x="90.8" y="428.0" width="12.8" height="12.5" fill="#beb5af"/>
<rect x="90.8" y="415.8" width="12.8" height="12.5" fill="#b3b7ba"/>
<rect x="90.8" y="403.6" width="12.8" height="12.5" fill="#96abca"/>
<rect x="90.8" y="391.4" width="12.8" height="12.5" fill="#5c7ec2"/>
<rect x="90.8" y="379.2" width="12.8" height="12.5" fill="#3856a5"/>
<rect x="90.8" y="367.0" width="12.8" height="12.5" fill="#2d4798"/>
<rect x="103.4" y="501.2" width="12.8" height="12.5" fill="#b0b6bc"/>
<rect x="103.4" y="489.0" width="12.8" height="12.5" fill="#afb6bd"/>
<rect x="103.4" y="476.8" width="12.8" height="12.5" fill="#aeb6be"/>
<rect x="103.4" y="464.6" width="12.8" height="12.5" fill="#acb5bf"/>
<rect x="103.4" y="452.4" width="12.8" height="12.5" fill="#aab5c1"/>
<rect x="103.4" y="440.2" width="12.8" height="12.5" fill="#a7b3c3"/>
<rect x="103.4" y="428.0" width="12.8" height="12.5" fill="#a2b1c5"/>
<rect x="103.4" y="415.8" width="12.8" height="12.5" fill="#99adc9"/>
<rect x="103.4" y="403.6" width="12.8" height="12.5" fill="#8ba4cc"/>
<rect x="103.4" y="391.4" width="12.8" height="12.5" fill="#5779bf"/>
<rect x="103.4" y="379.2" width="12.8" height="12.5" fill="#3754a4"/>
<rect x="103.4" y="367.0" width="12.8" height="12.5" fill="#2d4798"/>
<rect x="115.9" y="501.2" width="12.8" height="12.5" fill="#6587c7"/>
<rect x="115.9" y="489.0" width="12.8" height="12.5" fill="#6486c6"/>
<rect x="115.9" y="476.8" width="12.8" height="12.5" fill="#6486c6"/>
<rect x="115.9" y="464.6" width="12.8" height="12.5" fill="#6384c6"/>
<rect x="115.9" y="452.4" width="12.8" height="12.5" fill="#6384c6"/>
<rect x="115.9" y="440.2" width="12.8" height="12.5" fill="#6283c5"/>
<rect x="115.9" y="428.0" width="12.8" height="12.5" fill="#5f81c4"/>
<rect x="115.9" y="415.8" width="12.8" height="12.5" fill="#5c7ec2"/>
<rect x="115.9" y="403.6" width="12.8" height="12.5" fill="#5779bf"/>
<rect x="115.9" y="391.4" width="12.8" height="12.5" fill="#4d6eb8"/>
<rect x="115.9" y="379.2" width="12.8" height="12.5" fill="#3552a2"/>
<rect x="115.9" y="367.0" width="12.8" height="12.5" fill="#2c4696"/>
<rect x="128.4" y="501.2" width="12.8" height="12.5" fill="#3a58a7"/>
<rect x="128.4" y="489.0" width="12.8" height="12.5" fill="#3a58a7"/>
<rect x="128.4" y="476.8" width="12.8" height="12.5" fill="#3a58a7"/>
<rect x="128.4" y="464.6" width="12.8" height="12.5" fill="#3a58a7"/>
<rect x="128.4" y="452.4" width="12.8" height="12.5" fill="#3a58a7"/>
<rect x="128.4" y="440.2" width="12.8" height="12.5" fill="#3957a6"/>
<rect x="128.4" y="428.0" width="12.8" height="12.5" fill="#3957a6"/>
<rect x="128.4" y="415.8" width="12.8" height="12.5" fill="#3856a5"/>
<rect x="128.4" y="403.6" width="12.8" height="12.5" fill="#3754a4"/>
<rect x="128.4" y="391.4" width="12.8" height="12.5" fill="#3552a2"/>
<rect x="128.4" y="379.2" width="12.8" height="12.5" fill="#324e9e"/>
<rect x="128.4" y="367.0" width="12.8" height="12.5" fill="#2b4595"/>
<rect x="140.9" y="501.2" width="12.8" height="12.5" fill="#2e4999"/>
<rect x="140.9" y="489.0" width="12.8" height="12.5" fill="#2e4999"/>
<rect x="140.9" y="476.8" width="12.8" height="12.5" fill="#2e4999"/>
<rect x="140.9" y="464.6" width="12.8" height="12.5" fill="#2e4999"/>
<rect x="140.9" y="452.4" width="12.8" height="12.5" fill="#2e4999"/>
<rect x="140.9" y="440.2" width="12.8" height="12.5" fill="#2e4999"/>
<rect x="140.9" y="428.0" width="12.8" height="12.5" fill="#2d4798"/>
<rect x="140.9" y="415.8" width="12.8" height="12.5" fill="#2d4798"/>
<rect x="140.9" y="403.6" width="12.8" height="12.5" fill="#2d4798"/>
<rect x="140.9" y="391.4" width="12.8" height="12.5" fill="#2c4696"/>
<rect x="140.9" y="379.2" width="12.8" height="12.5" fill="#2b4595"/>
<rect x="140.9" y="367.0" width="12.8" height="12.5" fill="#2a4394"/>
<path d="M3.2 350.0L3.2 516.0M15.7 350.0L15.7 516.0M28.2 350.0L28.2 516.0M40.8 350.0L40.8 516.0M53.3 350.0L53.3 516.0M65.8 350.0L65.8 516.0M78.3 350.0L78.3 516.0M90.8 350.0L90.8 516.0M103.4 350.0L103.4 516.0M115.9 350.0L115.9 516.0M128.4 350.0L128.4 516.0M140.9 350.0L140.9 516.0M153.4 350.0L153.4 516.0M166.0 350.0L166.0 516.0M178.5 350.0L178.5 516.0M191.0 350.0L191.0 516.0M0.0 513.4L196.0 513.4M0.0 501.2L196.0 501.2M0.0 489.0L196.0 489.0M0.0 476.8L196.0 476.8M0.0 464.6L196.0 464.6M0.0 452.4L196.0 452.4M0.0 440.2L196.0 440.2M0.0 428.0L196.0 428.0M0.0 415.8L196.0 415.8M0.0 403.6L196.0 403.6M0.0 391.4L196.0 391.4M0.0 379.2L196.0 379.2M0.0 367.0L196.0 367.0M0.0 354.8L196.0 354.8" stroke="#000c84" stroke-width="1" stroke-opacity="0.38" fill="none"/><path d="M3.2 513.4h0M3.2 501.2h0M3.2 489.0h0M3.2 476.8h0M3.2 464.6h0M3.2 452.4h0M3.2 440.2h0M3.2 428.0h0M3.2 415.8h0M3.2 403.6h0M3.2 391.4h0M3.2 379.2h0M3.2 367.0h0M3.2 354.8h0M15.7 513.4h0M15.7 501.2h0M15.7 489.0h0M15.7 476.8h0M15.7 464.6h0M15.7 452.4h0M15.7 440.2h0M15.7 428.0h0M15.7 415.8h0M15.7 403.6h0M15.7 391.4h0M15.7 379.2h0M15.7 367.0h0M15.7 354.8h0M28.2 513.4h0M28.2 501.2h0M28.2 489.0h0M28.2 476.8h0M28.2 464.6h0M28.2 452.4h0M28.2 440.2h0M28.2 428.0h0M28.2 415.8h0M28.2 403.6h0M28.2 391.4h0M28.2 379.2h0M28.2 367.0h0M28.2 354.8h0M40.8 513.4h0M40.8 501.2h0M40.8 489.0h0M40.8 476.8h0M40.8 464.6h0M40.8 452.4h0M40.8 440.2h0M40.8 428.0h0M40.8 415.8h0M40.8 403.6h0M40.8 391.4h0M40.8 379.2h0M40.8 367.0h0M40.8 354.8h0M53.3 513.4h0M53.3 501.2h0M53.3 489.0h0M53.3 476.8h0M53.3 464.6h0M53.3 452.4h0M53.3 440.2h0M53.3 428.0h0M53.3 415.8h0M53.3 403.6h0M53.3 391.4h0M53.3 379.2h0M53.3 367.0h0M53.3 354.8h0M65.8 513.4h0M65.8 501.2h0M65.8 489.0h0M65.8 476.8h0M65.8 464.6h0M65.8 452.4h0M65.8 440.2h0M65.8 428.0h0M65.8 415.8h0M65.8 403.6h0M65.8 391.4h0M65.8 379.2h0M65.8 367.0h0M65.8 354.8h0M78.3 513.4h0M78.3 501.2h0M78.3 489.0h0M78.3 476.8h0M78.3 464.6h0M78.3 452.4h0M78.3 440.2h0M78.3 428.0h0M78.3 415.8h0M78.3 403.6h0M78.3 391.4h0M78.3 379.2h0M78.3 367.0h0M78.3 354.8h0M90.8 513.4h0M90.8 501.2h0M90.8 489.0h0M90.8 476.8h0M90.8 464.6h0M90.8 452.4h0M90.8 440.2h0M90.8 428.0h0M90.8 415.8h0M90.8 403.6h0M90.8 391.4h0M90.8 379.2h0M90.8 367.0h0M90.8 354.8h0M103.4 513.4h0M103.4 501.2h0M103.4 489.0h0M103.4 476.8h0M103.4 464.6h0M103.4 452.4h0M103.4 440.2h0M103.4 428.0h0M103.4 415.8h0M103.4 403.6h0M103.4 391.4h0M103.4 379.2h0M103.4 367.0h0M103.4 354.8h0M115.9 513.4h0M115.9 501.2h0M115.9 489.0h0M115.9 476.8h0M115.9 464.6h0M115.9 452.4h0M115.9 440.2h0M115.9 428.0h0M115.9 415.8h0M115.9 403.6h0M115.9 391.4h0M115.9 379.2h0M115.9 367.0h0M115.9 354.8h0M128.4 513.4h0M128.4 501.2h0M128.4 489.0h0M128.4 476.8h0M128.4 464.6h0M128.4 452.4h0M128.4 440.2h0M128.4 428.0h0M128.4 415.8h0M128.4 403.6h0M128.4 391.4h0M128.4 379.2h0M128.4 367.0h0M128.4 354.8h0M140.9 513.4h0M140.9 501.2h0M140.9 489.0h0M140.9 476.8h0M140.9 464.6h0M140.9 452.4h0M140.9 440.2h0M140.9 428.0h0M140.9 415.8h0M140.9 403.6h0M140.9 391.4h0M140.9 379.2h0M140.9 367.0h0M140.9 354.8h0M153.4 513.4h0M153.4 501.2h0M153.4 489.0h0M153.4 476.8h0M153.4 464.6h0M153.4 452.4h0M153.4 440.2h0M153.4 428.0h0M153.4 415.8h0M153.4 403.6h0M153.4 391.4h0M153.4 379.2h0M153.4 367.0h0M153.4 354.8h0M166.0 513.4h0M166.0 501.2h0M166.0 489.0h0M166.0 476.8h0M166.0 464.6h0M166.0 452.4h0M166.0 440.2h0M166.0 428.0h0M166.0 415.8h0M166.0 403.6h0M166.0 391.4h0M166.0 379.2h0M166.0 367.0h0M166.0 354.8h0M178.5 513.4h0M178.5 501.2h0M178.5 489.0h0M178.5 476.8h0M178.5 464.6h0M178.5 452.4h0M178.5 440.2h0M178.5 428.0h0M178.5 415.8h0M178.5 403.6h0M178.5 391.4h0M178.5 379.2h0M178.5 367.0h0M178.5 354.8h0M191.0 513.4h0M191.0 501.2h0M191.0 489.0h0M191.0 476.8h0M191.0 464.6h0M191.0 452.4h0M191.0 440.2h0M191.0 428.0h0M191.0 415.8h0M191.0 403.6h0M191.0 391.4h0M191.0 379.2h0M191.0 367.0h0M191.0 354.8h0" stroke="#000c84" stroke-width="2.3" stroke-linecap="round" stroke-opacity="0.3" fill="none"/></g>
<line x1="4" y1="110.9" x2="181" y2="110.9" stroke="#fff" stroke-width="1.3" stroke-opacity="0.74"/>
<path d="M191.5 110.9L179 106.4L179 115.4Z" fill="#fff"/>
<line x1="4" y1="280.8" x2="181" y2="280.8" stroke="#fff" stroke-width="1.3" stroke-opacity="0.74"/>
<path d="M191.5 280.8L179 276.3L179 285.3Z" fill="#fff"/>
<line x1="4" y1="445.8" x2="181" y2="445.8" stroke="#fff" stroke-width="1.3" stroke-opacity="0.74"/>
<path d="M191.5 445.8L179 441.3L179 450.3Z" fill="#fff"/>
<rect x="4.35" y="5.1" width="188.35" height="156.9" fill="none" stroke="#000" stroke-width="1.6"/>
<rect x="4.35" y="179.6" width="188.35" height="157.4" fill="none" stroke="#000" stroke-width="1.6"/>
<rect x="4.35" y="354.6" width="188.35" height="157.4" fill="none" stroke="#000" stroke-width="1.6"/>
<rect x="4" y="143.7" width="69.3" height="18.6" fill="#fff" stroke="#000" stroke-width="1.7"/>
<text x="5.2" y="157.2" class="lib" font-size="12.5">Without AMI</text>
<rect x="4" y="318.4" width="59.1" height="19.0" fill="#fff" stroke="#000" stroke-width="1.7"/>
<text x="9.4" y="331.6" class="lib" font-size="12.4">With AMI</text>
<rect x="4" y="493.4" width="63.9" height="18.9" fill="#fff" stroke="#000" stroke-width="1.7"/>
<text x="7.9" y="506.6" class="lib" font-size="12.3">Reference</text>
<text x="95.2" y="541.6" class="lib" font-size="14.7" text-anchor="middle">(a)</text>
<text x="375.1" y="264.4" class="lib" font-size="14.7" text-anchor="middle">(b)</text>
<text x="375.2" y="541" class="lib" font-size="14.7" text-anchor="middle">(c)</text>
<path d="M296.4 22.2V211.8M339.3 22.2V211.8M382.2 22.2V211.8M425.2 22.2V211.8M468.1 22.2V211.8M253.5 173.9H511.0M253.5 136.0H511.0M253.5 98.0H511.0M253.5 60.1H511.0" stroke="#ececec" stroke-width="1" fill="none"/>
<path d="M253.5 22.2C254.6 22.3 257.8 22.3 259.9 22.6C262.1 22.9 263.9 23.4 266.4 24.1C268.9 24.8 271.7 25.5 275.0 26.9C278.2 28.4 282.1 30.5 285.7 32.6C289.3 34.7 292.8 37.0 296.4 39.6C300.0 42.3 303.6 45.3 307.1 48.7C310.7 52.2 314.3 55.9 317.9 60.1C321.5 64.4 325.0 69.6 328.6 74.3C332.2 79.1 335.8 84.3 339.3 88.7C342.9 93.2 346.5 97.0 350.1 101.3C353.6 105.6 357.2 110.2 360.8 114.5C364.4 118.9 367.9 123.2 371.5 127.4C375.1 131.6 378.7 135.9 382.2 139.8C385.8 143.6 389.4 147.2 393.0 150.7C396.6 154.3 401.2 158.8 403.7 161.2C406.2 163.5 406.7 163.6 408.0 165.0C409.3 166.3 410.4 167.6 411.4 169.1C412.5 170.7 413.6 172.6 414.4 174.3C415.3 175.9 415.9 177.2 416.6 179.2C417.3 181.2 418.1 184.1 418.7 186.2C419.3 188.4 419.8 190.2 420.2 192.1C420.7 194.0 421.1 195.7 421.5 197.6C421.9 199.5 422.3 201.8 422.8 203.5C423.3 205.1 423.8 206.4 424.5 207.2C425.3 208.1 426.1 208.4 427.3 208.8C428.5 209.2 430.2 209.4 431.6 209.7C433.0 210.0 434.2 210.4 435.9 210.7C437.6 210.9 439.2 211.2 441.7 211.4C444.2 211.6 446.5 211.6 450.9 211.7C455.3 211.8 458.1 211.8 468.1 211.8C478.1 211.8 503.8 211.8 511.0 211.8" stroke="#606060" stroke-width="1" fill="none"/>
<path d="M253.5 22.2C254.6 22.3 257.8 22.3 259.9 22.6C262.1 22.9 263.9 23.4 266.4 24.1C268.9 24.8 271.7 25.5 275.0 26.9C278.2 28.4 282.1 30.5 285.7 32.6C289.3 34.7 292.8 37.0 296.4 39.6C300.0 42.3 303.6 45.3 307.1 48.7C310.7 52.2 314.3 55.9 317.9 60.1C321.5 64.4 325.0 69.6 328.6 74.3C332.2 79.1 335.8 84.3 339.3 88.7C342.9 93.2 346.5 97.0 350.1 101.3C353.6 105.6 357.2 110.2 360.8 114.5C364.4 118.9 367.9 123.2 371.5 127.4C375.1 131.6 378.7 135.9 382.2 139.8C385.8 143.6 389.4 147.2 393.0 150.7C396.6 154.3 401.2 158.8 403.7 161.2C406.2 163.5 406.7 163.6 408.0 165.0C409.3 166.3 410.4 167.6 411.4 169.1C412.5 170.7 413.6 172.6 414.4 174.3C415.3 175.9 415.9 177.2 416.6 179.2C417.3 181.2 418.1 184.1 418.7 186.2C419.3 188.4 419.8 190.2 420.2 192.1C420.7 194.0 421.1 195.7 421.5 197.6C421.9 199.5 422.3 201.8 422.8 203.5C423.3 205.1 423.8 206.4 424.5 207.2C425.3 208.1 426.1 208.4 427.3 208.8C428.5 209.2 430.2 209.4 431.6 209.7C433.0 210.0 434.2 210.4 435.9 210.7C437.6 210.9 439.2 211.2 441.7 211.4C444.2 211.6 446.5 211.6 450.9 211.7C455.3 211.8 458.1 211.8 468.1 211.8C478.1 211.8 503.8 211.8 511.0 211.8" stroke="#3a8fd0" stroke-width="1" fill="none"/>
<path d="M253.5 22.2C254.6 22.3 257.8 22.3 259.9 22.6C262.1 22.9 263.9 23.4 266.4 24.1C268.9 24.8 271.7 25.5 275.0 26.9C278.2 28.4 282.1 30.5 285.7 32.6C289.3 34.7 292.8 37.0 296.4 39.6C300.0 42.3 303.6 45.3 307.1 48.7C310.7 52.2 314.3 55.9 317.9 60.1C321.5 64.4 325.0 69.6 328.6 74.3C332.2 79.1 335.8 84.3 339.3 88.7C342.9 93.2 346.5 97.0 350.1 101.3C353.6 105.6 357.2 110.2 360.8 114.5C364.4 118.9 367.9 123.2 371.5 127.4C375.1 131.6 378.7 135.9 382.2 139.8C385.8 143.6 389.4 147.2 393.0 150.7C396.6 154.3 401.2 158.8 403.7 161.2C406.2 163.5 406.7 163.6 408.0 165.0C409.3 166.3 410.4 167.6 411.4 169.1C412.5 170.7 413.6 172.6 414.4 174.3C415.3 175.9 415.9 177.2 416.6 179.2C417.3 181.2 418.1 184.1 418.7 186.2C419.3 188.4 419.8 190.2 420.2 192.1C420.7 194.0 421.1 195.7 421.5 197.6C421.9 199.5 422.3 201.8 422.8 203.5C423.3 205.1 423.8 206.4 424.5 207.2C425.3 208.1 426.1 208.4 427.3 208.8C428.5 209.2 430.2 209.4 431.6 209.7C433.0 210.0 434.2 210.4 435.9 210.7C437.6 210.9 439.2 211.2 441.7 211.4C444.2 211.6 446.5 211.6 450.9 211.7C455.3 211.8 458.1 211.8 468.1 211.8C478.1 211.8 503.8 211.8 511.0 211.8" stroke="#e0704a" stroke-width="1.1" fill="none"/>
<rect x="253.5" y="22.2" width="257.5" height="189.6" fill="none" stroke="#a6a6a6" stroke-width="1"/>
<path d="M296.4 211.8v-2.5M296.4 22.2v2.5M339.3 211.8v-2.5M339.3 22.2v2.5M382.2 211.8v-2.5M382.2 22.2v2.5M425.2 211.8v-2.5M425.2 22.2v2.5M468.1 211.8v-2.5M468.1 22.2v2.5M253.5 173.9h2.5M511.0 173.9h-2.5M253.5 136.0h2.5M511.0 136.0h-2.5M253.5 98.0h2.5M511.0 98.0h-2.5M253.5 60.1h2.5M511.0 60.1h-2.5" stroke="#8a8a8a" stroke-width="1" fill="none"/>
<text transform="translate(253.8 226.0) scale(1.05 1)" class="dv" font-size="10.7" text-anchor="middle">0</text>
<text transform="translate(296.7 226.0) scale(1.05 1)" class="dv" font-size="10.7" text-anchor="middle">0.2</text>
<text transform="translate(339.6 226.0) scale(1.05 1)" class="dv" font-size="10.7" text-anchor="middle">0.4</text>
<text transform="translate(382.6 226.0) scale(1.05 1)" class="dv" font-size="10.7" text-anchor="middle">0.6</text>
<text transform="translate(425.5 226.0) scale(1.05 1)" class="dv" font-size="10.7" text-anchor="middle">0.8</text>
<text transform="translate(468.4 226.0) scale(1.05 1)" class="dv" font-size="10.7" text-anchor="middle">1</text>
<text transform="translate(511.3 226.0) scale(1.05 1)" class="dv" font-size="10.7" text-anchor="middle">1.2</text>
<text transform="translate(250.6 215.9) scale(1.05 1)" class="dv" font-size="10.7" text-anchor="end">0</text>
<text transform="translate(250.6 178.0) scale(1.05 1)" class="dv" font-size="10.7" text-anchor="end">0.2</text>
<text transform="translate(250.6 140.1) scale(1.05 1)" class="dv" font-size="10.7" text-anchor="end">0.4</text>
<text transform="translate(250.6 102.1) scale(1.05 1)" class="dv" font-size="10.7" text-anchor="end">0.6</text>
<text transform="translate(250.6 64.2) scale(1.05 1)" class="dv" font-size="10.7" text-anchor="end">0.8</text>
<text transform="translate(250.6 26.3) scale(1.05 1)" class="dv" font-size="10.7" text-anchor="end">1</text>
<text transform="translate(382.7 241.2) scale(1.05 1)" class="dv" font-size="11.8" text-anchor="middle">Radial coordinate (m)</text>
<text transform="translate(227.5 118.3) rotate(-90) scale(1 1.05)" class="dv" font-size="11.8" text-anchor="middle">Normalized thermal flux (-)</text>
<rect x="402.5" y="86.5" width="76.2" height="53" fill="#fff" stroke="none"/>
<path d="M440.2 86.5V139.5M402.5 112.2H478.7" stroke="#ececec" stroke-width="1" fill="none"/>
<g clip-path="url(#clipin)"><path d="M421.6 84.0L422.6 86.5L424.1 91.0L425.9 95.4L427.6 99.4L429.7 103.0L431.9 106.5L434.2 109.3L436.7 111.3L438.8 112.6L444.3 115.4L452.9 119.0L465.6 124.3L478.2 129.3L480.7 130.3" stroke="#6a6a6a" stroke-width="0.9" fill="none"/>
<path d="M419.8 84.0L420.7 86.5L422.3 91.0L424.5 95.4L426.6 99.4L428.9 103.0L431.4 106.5L434.0 109.3L436.5 111.2L438.4 112.4L444.1 115.4L452.9 119.1L465.6 124.5L478.2 129.3L480.7 130.3" stroke="#4a98d8" stroke-width="0.9" fill="none"/>
<path d="M421.7 84.0L422.6 86.5L424.1 91.0L425.7 95.4L427.6 99.4L429.5 103.0L431.7 108.0L434.0 112.8L443.1 105.7L447.9 110.6L452.9 115.0L459.3 119.7L465.6 123.8L471.9 126.7L478.2 129.3L480.7 130.3" stroke="#e0704a" stroke-width="0.9" fill="none"/></g>
<rect x="402.5" y="86.5" width="76.2" height="53" fill="none" stroke="#777" stroke-width="1"/>
<rect x="415.5" y="199.5" width="21" height="10" fill="none" stroke="#777" stroke-width="1"/>
<path d="M402.5 139.5L415.5 199.5M478.7 139.5L436.5 199.5" stroke="#777" stroke-width="0.9" fill="none"/>
<rect x="391" y="28.2" width="113.5" height="37" fill="#fff" stroke="#555" stroke-width="1"/>
<path d="M394.8 34.7H415" stroke="#606060" stroke-width="1.1"/>
<text x="423" y="38.6" class="lib lg" font-size="10.5">Reference</text>
<path d="M394.8 46.6H415" stroke="#3a8fd0" stroke-width="1.1"/>
<text x="423" y="50.5" class="lib lg" font-size="10.5">Without AMI</text>
<path d="M394.8 58.7H415" stroke="#e0704a" stroke-width="1.1"/>
<text x="423" y="62.6" class="lib lg" font-size="10.5">With AMI</text>
<path d="M293.8 294.8V481.1M336.7 294.8V481.1M379.7 294.8V481.1M422.7 294.8V481.1M465.6 294.8V481.1M250.8 454.5H508.6M250.8 427.9H508.6M250.8 374.6H508.6M250.8 348.0H508.6M250.8 321.4H508.6" stroke="#ececec" stroke-width="1" fill="none"/>
<path d="M250.8 401.3H508.6" stroke="#9a9a9a" stroke-width="1" fill="none"/>
<path d="M250.8 397.9C254.4 398.0 265.1 398.0 272.3 398.1C279.4 398.3 286.6 398.4 293.8 398.7C300.9 398.9 308.1 399.2 315.2 399.5C322.4 399.9 330.3 400.3 336.7 400.7C343.2 401.1 348.5 401.4 353.9 401.9C359.3 402.4 364.7 403.1 369.0 403.7C373.3 404.2 374.3 404.3 379.7 405.2C385.1 406.2 395.8 407.9 401.2 409.2C406.6 410.6 409.4 411.8 411.9 413.2C414.4 414.7 415.1 415.8 416.2 417.9C417.3 420.0 417.8 422.8 418.4 425.9C419.0 429.0 419.4 432.5 419.9 436.5C420.3 440.5 420.7 444.9 420.9 449.8C421.2 454.7 421.5 463.1 421.6 465.8L422.0 481.1L422.3 481.1L422.7 454.5L422.9 395.3L423.3 393.7C423.9 393.8 425.3 394.1 427.0 394.3C428.6 394.6 431.3 394.7 433.4 395.0C435.6 395.3 438.1 395.9 439.9 396.3C441.6 396.8 442.7 397.1 444.2 397.7C445.6 398.3 447.0 399.2 448.4 399.9C449.9 400.7 451.0 401.3 452.7 402.3C454.5 403.4 457.0 405.2 459.2 406.3C461.3 407.4 462.8 408.0 465.6 408.7C468.5 409.4 472.8 409.9 476.4 410.3C480.0 410.7 481.7 410.9 487.1 411.1C492.5 411.3 505.0 411.5 508.6 411.6" stroke="#3a8fd0" stroke-width="1.2" fill="none" stroke-linejoin="round"/>
<path d="M250.8 397.3C254.4 397.3 265.1 397.3 272.3 397.5C279.4 397.6 286.6 397.8 293.8 398.0C300.9 398.2 308.1 398.5 315.2 398.9C322.4 399.2 330.3 399.7 336.7 400.1C343.2 400.5 348.5 400.8 353.9 401.3C359.3 401.7 364.7 402.4 369.0 403.0C373.3 403.5 374.3 403.7 379.7 404.6C385.1 405.5 395.8 407.2 401.2 408.6C406.6 409.9 409.4 411.1 411.9 412.6C414.4 414.0 415.1 415.1 416.2 417.2C417.3 419.3 417.8 422.1 418.4 425.2C419.0 428.3 419.4 431.9 419.9 435.9C420.3 439.8 420.7 444.3 420.9 449.2C421.2 454.0 421.5 462.5 421.6 465.1L422.0 467.1L422.5 301.5L422.8 301.5L423.0 391.3L423.3 392.6C423.9 392.7 425.3 393.1 427.0 393.3C428.6 393.5 431.3 393.6 433.4 393.9C435.6 394.3 438.1 394.8 439.9 395.3C441.6 395.7 442.7 396.0 444.2 396.6C445.6 397.2 447.0 398.1 448.4 398.9C449.9 399.6 451.0 400.2 452.7 401.3C454.5 402.3 457.0 404.2 459.2 405.2C461.3 406.3 462.8 407.0 465.6 407.6C468.5 408.3 472.8 408.8 476.4 409.2C480.0 409.6 481.7 409.8 487.1 410.0C492.5 410.3 505.0 410.5 508.6 410.6" stroke="#e0704a" stroke-width="1.1" fill="none" stroke-linejoin="round"/>
<rect x="250.8" y="294.8" width="257.8" height="186.3" fill="none" stroke="#a6a6a6" stroke-width="1"/>
<path d="M293.8 481.1v-2.5M293.8 294.8v2.5M336.7 481.1v-2.5M336.7 294.8v2.5M379.7 481.1v-2.5M379.7 294.8v2.5M422.7 481.1v-2.5M422.7 294.8v2.5M465.6 481.1v-2.5M465.6 294.8v2.5M250.8 454.5h2.5M508.6 454.5h-2.5M250.8 427.9h2.5M508.6 427.9h-2.5M250.8 401.3h2.5M508.6 401.3h-2.5M250.8 374.6h2.5M508.6 374.6h-2.5M250.8 348.0h2.5M508.6 348.0h-2.5M250.8 321.4h2.5M508.6 321.4h-2.5" stroke="#8a8a8a" stroke-width="1" fill="none"/>
<text transform="translate(251.1 495.2) scale(1.05 1)" class="dv" font-size="10.7" text-anchor="middle">0</text>
<text transform="translate(294.1 495.2) scale(1.05 1)" class="dv" font-size="10.7" text-anchor="middle">0.2</text>
<text transform="translate(337.0 495.2) scale(1.05 1)" class="dv" font-size="10.7" text-anchor="middle">0.4</text>
<text transform="translate(380.0 495.2) scale(1.05 1)" class="dv" font-size="10.7" text-anchor="middle">0.6</text>
<text transform="translate(423.0 495.2) scale(1.05 1)" class="dv" font-size="10.7" text-anchor="middle">0.8</text>
<text transform="translate(465.9 495.2) scale(1.05 1)" class="dv" font-size="10.7" text-anchor="middle">1</text>
<text transform="translate(508.9 495.2) scale(1.05 1)" class="dv" font-size="10.7" text-anchor="middle">1.2</text>
<text transform="translate(247.6 298.9) scale(1.05 1)" class="dv" font-size="10.7" text-anchor="end">8</text>
<text transform="translate(247.6 325.5) scale(1.05 1)" class="dv" font-size="10.7" text-anchor="end">6</text>
<text transform="translate(247.6 352.1) scale(1.05 1)" class="dv" font-size="10.7" text-anchor="end">4</text>
<text transform="translate(247.6 378.7) scale(1.05 1)" class="dv" font-size="10.7" text-anchor="end">2</text>
<text transform="translate(247.6 405.4) scale(1.05 1)" class="dv" font-size="10.7" text-anchor="end">0</text>
<text transform="translate(247.6 432.0) scale(1.05 1)" class="dv" font-size="10.7" text-anchor="end">-2</text>
<text transform="translate(247.6 458.6) scale(1.05 1)" class="dv" font-size="10.7" text-anchor="end">-4</text>
<text transform="translate(247.6 485.2) scale(1.05 1)" class="dv" font-size="10.7" text-anchor="end">-6</text>
<text transform="translate(379.6 510.0) scale(1.05 1)" class="dv" font-size="11.8" text-anchor="middle">Radial coordinate (m)</text>
<text transform="translate(230.8 389.2) rotate(-90) scale(1 1.05)" class="dv" font-size="11.8" text-anchor="middle">Relative error to reference case (%)</text>
<rect x="258" y="301.6" width="114.5" height="24.8" fill="#fff" stroke="#555" stroke-width="1"/>
<path d="M260.6 308.8H279.6" stroke="#3a8fd0" stroke-width="1.2"/>
<text x="286.8" y="312.6" class="lib lg" font-size="10.5">Without AMI</text>
<path d="M260.6 319.7H279.6" stroke="#e0704a" stroke-width="1.2"/>
<text x="286.8" y="323.5" class="lib lg" font-size="10.5">With AMI</text>
</svg>
</body></html>
